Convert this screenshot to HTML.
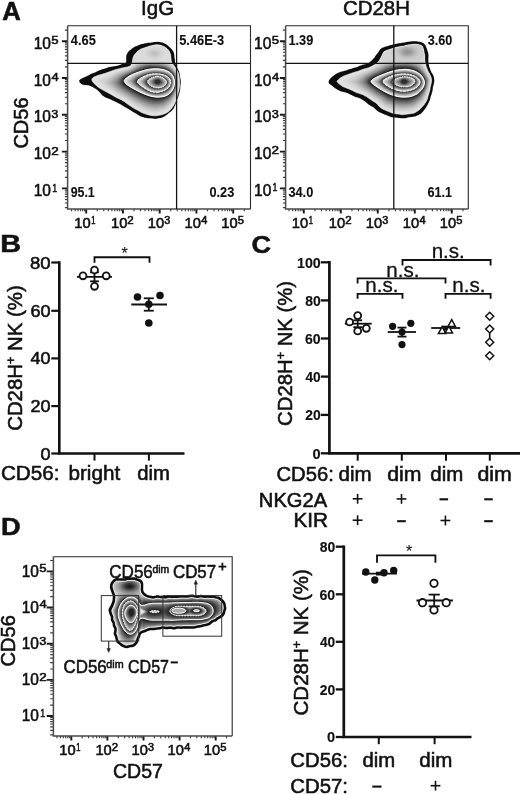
<!DOCTYPE html>
<html lang="en"><head><meta charset="utf-8"><title>Figure</title>
<style>
html,body{margin:0;padding:0;background:#fff;}
svg{display:block;filter:blur(0.45px);}
svg text{font-family:'Liberation Sans', sans-serif;fill:#111;stroke:#111;stroke-width:0.55px;}
</style></head><body>
<svg width="520" height="794" viewBox="0 0 520 794">
<rect width="520" height="794" fill="#fff"/>
<g id="panelA">
<g id="blobA1"><path d="M156.9 118.7L153.4 118.7L153.2 118.5L149.1 118.3L148.9 118.2L146.4 118.0L146.2 117.8L144.6 117.7L143.9 117.3L143.2 117.3L139.8 116.0L139.2 115.5L138.6 115.3L138.1 114.8L137.8 114.8L135.8 113.3L135.1 113.2L133.8 112.2L133.4 112.2L132.9 111.7L132.2 111.5L131.8 111.0L130.8 110.5L130.2 110.0L129.9 110.0L129.4 109.5L129.1 109.5L128.6 109.0L127.9 108.8L126.6 107.8L125.9 107.7L125.4 107.2L125.1 107.2L124.6 106.7L123.9 106.5L122.6 105.5L121.9 105.3L120.6 104.3L120.2 104.3L119.6 103.8L118.6 103.5L118.1 103.0L117.4 102.8L116.9 102.3L116.2 102.2L115.2 101.5L114.9 101.5L113.6 100.7L111.9 100.2L111.4 99.7L107.6 98.3L106.2 97.7L105.1 97.3L104.6 96.8L104.2 96.8L102.9 95.7L102.4 95.5L101.0 94.1L100.8 93.6L99.2 91.8L96.8 89.5L95.8 89.0L95.2 88.5L94.9 88.5L94.4 88.0L94.1 88.0L93.6 87.5L92.9 87.3L92.4 86.8L91.2 86.5L90.8 86.0L90.4 86.0L89.9 85.7L89.2 85.7L88.6 85.3L87.8 85.3L87.6 85.2L84.2 85.0L83.6 84.7L82.8 84.7L82.1 84.2L81.4 84.0L79.7 82.4L79.2 81.2L79.2 80.4L80.2 79.2L80.6 79.2L81.1 78.7L81.9 78.5L82.6 78.0L83.4 77.8L84.1 77.3L85.2 77.0L85.6 76.7L86.4 76.5L86.9 76.0L87.6 75.8L88.6 75.2L88.9 75.2L89.4 74.7L90.4 74.3L91.8 73.5L92.1 73.5L92.6 73.2L93.2 73.2L95.4 72.2L95.8 72.2L97.1 71.3L98.2 71.0L98.8 70.5L101.8 69.5L102.2 69.2L103.6 69.0L105.6 68.2L106.2 68.2L107.2 67.7L108.2 67.3L108.9 67.3L109.6 67.0L110.4 67.0L110.9 66.7L114.4 66.3L114.6 66.2L117.1 65.8L117.8 65.5L118.4 65.5L122.8 63.8L124.8 63.5L126.0 62.4L126.0 61.9L126.2 61.8L126.2 60.6L126.3 60.4L126.3 59.6L126.2 59.4L126.2 56.6L126.3 56.4L126.3 55.6L127.2 53.4L128.5 51.6L129.8 50.3L130.8 49.7L132.2 48.2L132.6 48.2L134.6 46.7L134.9 46.7L135.8 46.2L136.1 46.2L140.9 44.2L142.6 44.0L143.1 43.7L143.9 43.7L144.1 43.5L145.8 43.3L145.9 43.2L147.6 43.0L147.8 42.8L149.6 42.8L149.8 42.7L150.9 42.7L151.1 42.5L152.4 42.5L152.6 42.3L153.4 42.3L154.4 42.0L159.2 41.8L159.4 42.0L161.1 42.2L161.8 42.5L162.6 42.5L163.1 42.8L164.2 43.2L164.8 43.7L165.1 43.7L166.2 44.3L169.2 46.7L172.0 49.6L173.7 52.2L174.0 53.2L174.0 53.9L174.3 54.6L174.5 58.2L174.7 58.4L175.0 61.9L175.5 63.4L175.5 64.1L176.5 66.8L176.8 67.1L177.2 68.1L178.0 69.2L178.5 70.6L179.2 71.6L179.2 72.2L179.7 73.8L179.7 74.6L180.0 75.6L180.0 76.4L180.2 76.6L180.2 77.8L180.5 78.8L180.5 79.9L180.7 80.1L180.7 84.1L180.5 84.2L180.3 88.1L180.2 88.2L180.2 89.6L179.8 90.6L179.8 91.4L179.5 92.1L179.5 92.8L178.7 94.8L178.7 95.4L178.2 96.9L176.7 100.6L176.7 101.4L176.3 101.9L175.0 105.8L174.3 106.8L174.3 107.1L173.7 108.4L172.7 109.6L172.5 110.1L170.4 112.0L169.2 112.7L166.9 114.7L166.2 115.2L165.9 115.2L165.1 116.0L163.4 117.0L160.8 118.0L159.9 118.0L159.2 118.3L158.1 118.3Z" fill="#0c0c0c"/>
<path d="M156.1 115.8L152.8 115.7L149.8 115.2L145.8 114.1L142.2 112.8L137.4 110.1L134.4 108.6L128.6 104.8L124.1 101.4L121.6 99.9L115.9 97.3L111.1 94.4L104.8 91.1L99.1 87.8L95.4 84.8L93.0 82.2L92.4 81.4L91.9 80.2L91.9 79.1L92.5 78.2L93.9 77.1L97.8 75.4L105.4 73.3L115.2 69.7L122.2 68.0L127.8 66.9L130.2 65.9L131.1 65.1L131.8 63.6L132.2 62.4L132.9 58.2L133.4 56.8L134.2 55.1L137.1 51.8L139.4 50.0L141.2 48.9L150.2 45.9L155.9 44.7L157.6 44.7L159.8 45.1L162.1 45.7L164.8 46.9L167.0 48.6L168.5 50.1L169.3 51.2L170.5 54.2L171.3 61.1L171.9 62.6L172.9 64.2L174.2 65.9L177.1 70.1L178.4 73.1L179.2 76.8L179.5 80.4L179.5 86.4L179.3 88.1L178.4 92.1L177.6 94.6L176.6 98.8L175.4 102.1L173.3 105.9L170.7 109.6L168.3 111.8L165.4 113.4L161.6 114.8Z" fill="rgb(227,227,227)"/>
<path d="M156.2 114.6L154.9 114.7L153.1 114.5L149.9 114.0L146.1 113.0L142.8 111.7L134.9 107.6L129.1 103.9L124.6 100.6L122.0 99.1L115.2 95.7L105.4 89.9L101.1 87.1L97.9 84.8L96.2 83.1L94.2 80.6L94.0 80.1L94.0 79.6L95.0 78.8L98.4 77.0L106.1 74.4L115.2 70.6L119.3 69.4L127.9 67.5L130.6 66.4L131.5 65.4L131.8 64.8L132.5 62.6L133.2 58.2L134.4 55.4L137.3 52.1L139.6 50.2L141.6 49.1L150.0 46.2L156.1 45.0L157.4 45.0L159.6 45.3L161.7 45.9L164.7 47.2L166.9 48.9L168.2 50.3L169.1 51.5L170.2 54.2L171.0 61.1L171.7 63.1L176.8 70.4L177.9 73.1L178.7 76.9L179.1 80.4L179.1 86.2L178.9 87.9L178.0 91.9L177.1 94.4L176.1 98.5L174.9 101.8L172.6 105.6L169.9 109.1L167.8 110.9L165.1 112.5L161.2 113.7Z" fill="rgb(224,224,224)"/>
<path d="M156.1 113.4L154.9 113.5L152.2 113.2L150.1 112.8L146.2 111.8L143.2 110.7L135.4 106.7L129.8 103.1L125.1 99.7L122.6 98.2L115.8 94.7L104.8 87.8L100.8 84.8L99.2 83.4L97.1 81.1L96.7 80.2L97.2 79.8L99.1 78.7L106.2 75.8L115.6 71.4L121.1 69.7L128.1 67.9L130.8 66.9L132.1 65.6L133.3 63.1L133.5 61.8L133.2 59.9L133.6 58.1L134.1 56.7L135.2 54.7L137.5 52.2L139.8 50.4L141.4 49.4L145.3 47.9L152.4 45.8L156.1 45.2L157.1 45.2L159.6 45.5L161.6 46.1L164.6 47.4L166.6 48.9L168.8 51.3L169.4 52.7L170.1 55.1L170.4 58.4L170.5 61.6L170.8 62.9L172.0 64.8L173.4 66.4L176.4 70.5L177.7 73.4L178.7 78.6L178.9 80.8L178.9 84.9L178.7 87.8L178.3 89.8L175.5 98.6L174.2 101.8L170.4 107.1L168.9 108.8L167.4 109.9L164.6 111.5L161.1 112.6Z" fill="rgb(219,219,219)"/>
<path d="M155.9 112.3L154.9 112.3L150.6 111.7L146.1 110.5L142.9 109.3L136.0 105.8L130.6 102.4L125.6 98.9L116.2 93.8L110.8 90.1L107.1 87.6L103.6 84.8L100.4 81.9L99.7 80.9L100.2 80.4L115.8 72.4L121.1 70.4L128.2 68.5L130.9 67.4L132.4 66.2L134.8 63.7L136.6 62.6L140.4 61.7L149.5 60.8L153.1 60.1L153.2 59.9L153.0 59.8L149.4 58.3L147.1 56.7L145.7 54.9L145.4 53.9L145.4 52.9L145.6 51.9L146.2 50.9L146.9 50.1L148.1 49.2L150.9 48.0L154.2 47.5L157.8 47.8L160.8 49.0L161.9 49.8L162.9 50.7L163.5 51.8L163.8 52.8L163.8 53.8L163.6 54.8L162.3 56.6L160.1 58.1L156.4 59.8L156.2 59.9L156.3 60.1L158.0 60.6L164.6 61.6L166.9 62.2L169.1 63.2L171.0 64.8L172.9 66.6L174.2 68.2L176.0 70.8L176.8 72.1L177.4 73.6L178.2 77.1L178.6 81.6L178.6 86.2L178.2 88.8L177.3 91.8L175.0 98.4L173.9 100.8L171.4 104.5L168.2 108.1L165.4 109.9L163.9 110.6L161.1 111.5Z" fill="rgb(212,212,212)"/>
<path d="M156.2 57.1L154.4 57.2L152.8 57.0L151.1 56.5L149.8 55.8L148.8 54.8L148.4 53.8L148.5 52.6L149.0 51.6L149.9 50.8L151.1 50.1L152.4 49.7L153.9 49.4L156.9 49.7L158.2 50.2L159.4 50.8L160.2 51.7L160.7 52.6L160.8 53.6L160.6 54.4L159.9 55.3L159.0 56.1L157.8 56.7ZM155.9 111.1L153.8 111.0L150.9 110.6L146.4 109.4L143.4 108.3L136.5 104.8L131.1 101.5L126.2 98.1L116.2 92.5L107.8 86.2L104.3 83.1L103.0 81.8L102.9 81.4L111.1 76.1L116.1 73.2L121.2 71.2L128.4 69.0L130.6 68.2L132.6 66.9L135.6 64.3L138.2 63.2L140.9 62.6L145.2 62.2L155.1 61.9L159.9 62.1L164.2 62.6L167.1 63.3L168.9 64.1L170.3 65.1L172.3 66.8L173.9 68.6L175.7 71.1L177.0 73.6L177.9 77.2L178.3 81.4L178.2 86.1L177.6 89.6L175.2 96.2L173.3 100.6L170.8 104.0L168.9 106.0L167.2 107.6L163.8 109.5L160.6 110.4Z" fill="rgb(203,203,203)"/>
<path d="M155.1 55.4L153.2 55.2L151.8 54.5L151.2 53.4L151.3 52.8L151.6 52.2L152.8 51.5L154.4 51.2L156.1 51.4L157.4 52.1L158.0 53.1L157.8 54.1L156.8 55.0ZM155.8 109.9L153.9 109.9L150.9 109.4L145.2 107.8L135.1 102.7L126.8 97.3L116.9 91.6L112.1 87.9L109.0 85.2L106.2 82.4L106.0 81.8L111.5 77.4L116.2 74.2L121.4 71.9L128.6 69.6L130.9 68.6L132.5 67.8L136.1 64.9L139.1 63.7L141.9 63.2L146.8 62.7L155.8 62.6L160.1 62.8L164.2 63.3L166.8 63.9L168.8 64.8L171.9 67.2L173.4 68.8L175.3 71.2L176.6 73.8L177.5 77.2L178.0 81.6L177.9 86.1L177.2 89.4L176.5 91.8L174.7 96.1L173.1 99.5L171.7 101.6L168.2 105.4L166.6 106.8L163.2 108.6L160.4 109.3Z" fill="rgb(193,193,193)"/>
<path d="M155.6 108.8L151.2 108.3L145.7 106.8L135.4 101.7L127.2 96.4L117.6 90.8L112.6 86.6L109.3 83.2L108.7 82.4L108.7 82.1L111.3 79.4L114.2 76.9L118.2 74.2L121.6 72.6L128.8 70.1L131.8 68.8L136.6 65.4L139.6 64.2L143.1 63.6L147.2 63.2L153.8 63.1L157.1 63.2L161.2 63.5L164.8 64.0L166.8 64.5L168.9 65.6L171.6 67.6L173.1 69.1L175.0 71.6L176.2 73.9L177.2 77.4L177.7 81.8L177.6 85.9L176.9 89.4L176.1 91.6L173.1 98.3L171.2 101.0L167.6 104.7L165.9 106.1L162.9 107.5L160.2 108.2Z" fill="rgb(181,181,181)"/>
<path d="M155.4 107.6L151.4 107.1L146.1 105.7L141.8 103.7L135.9 100.8L127.8 95.6L120.8 91.6L118.3 89.9L115.7 87.8L113.5 85.6L111.2 82.9L111.0 82.2L112.5 80.4L114.9 77.9L116.6 76.4L118.8 75.0L123.1 72.8L129.1 70.6L132.1 69.2L136.9 66.0L139.9 64.7L143.4 64.1L147.4 63.7L153.4 63.5L157.1 63.6L161.1 63.9L164.4 64.4L166.4 65.0L168.8 66.1L171.2 67.9L173.4 70.2L175.2 72.6L176.3 75.2L177.1 78.8L177.4 82.1L177.2 85.9L176.5 89.2L175.7 91.6L172.6 98.0L170.9 100.3L167.1 103.9L165.1 105.4L162.4 106.5L159.9 107.1Z" fill="rgb(168,168,168)"/>
<path d="M155.2 106.4L151.6 105.9L146.4 104.6L142.1 102.7L136.3 99.8L119.6 89.6L117.6 87.9L115.4 85.7L113.3 82.9L113.2 82.2L115.2 79.4L116.5 77.9L120.4 75.0L123.4 73.4L132.4 69.7L137.4 66.5L140.4 65.2L143.6 64.5L147.6 64.1L153.1 63.9L156.6 64.0L160.9 64.4L163.9 64.8L166.1 65.5L168.4 66.6L170.9 68.3L173.1 70.5L174.8 72.8L175.9 75.4L176.8 78.9L177.1 82.1L176.9 85.9L176.2 89.1L175.3 91.4L172.1 97.6L170.4 99.8L167.7 102.2L164.6 104.4L162.6 105.4L159.8 106.0Z" fill="rgb(154,154,154)"/>
<path d="M157.6 105.1L155.2 105.2L153.8 105.1L148.1 103.9L142.6 101.7L136.6 98.7L121.6 89.6L118.9 87.6L116.8 85.4L115.1 82.9L115.1 82.4L116.1 80.6L117.1 79.1L118.1 77.9L120.5 75.9L122.1 74.9L126.1 72.9L132.8 70.2L138.8 66.6L141.8 65.5L144.9 64.9L149.2 64.4L153.2 64.3L158.1 64.5L161.1 64.8L164.2 65.4L165.9 66.0L168.2 67.1L170.6 68.7L172.5 70.6L174.3 72.8L175.1 74.2L176.2 77.6L176.7 81.8L176.6 85.8L176.2 87.8L175.0 91.1L173.4 94.2L171.5 97.4L169.8 99.4L166.9 101.8L163.4 103.9L161.2 104.6Z" fill="rgb(138,138,138)"/>
<path d="M157.8 103.9L155.1 104.1L152.6 103.7L148.6 102.8L146.8 102.2L142.6 100.5L137.4 97.9L124.2 90.1L121.6 88.4L119.8 86.8L117.4 84.1L116.8 83.1L116.8 82.6L118.0 79.9L119.2 78.2L120.7 76.9L123.6 74.9L133.5 70.4L140.2 66.7L143.6 65.6L147.2 65.1L150.4 64.8L153.2 64.7L159.1 65.1L164.2 66.0L165.8 66.5L168.2 67.8L170.6 69.4L172.4 71.1L174.1 73.2L175.2 75.6L176.1 78.9L176.4 81.9L176.2 85.8L175.9 87.6L174.7 90.8L173.1 93.9L171.2 96.8L169.6 98.5L166.2 101.1L162.9 102.9L160.9 103.6Z" fill="rgb(121,121,121)"/>
<path d="M157.9 102.8L155.4 102.9L153.8 102.7L149.0 101.8L147.1 101.1L142.9 99.4L137.8 96.9L126.6 90.4L122.1 87.4L120.2 85.8L118.9 84.1L118.4 83.1L118.4 82.6L119.6 79.4L122.1 76.8L125.1 74.9L133.8 70.9L140.7 67.2L144.2 66.1L147.6 65.5L151.9 65.2L159.1 65.6L164.1 66.5L168.1 68.3L170.4 69.9L172.9 72.4L173.8 73.6L175.1 76.4L175.8 79.1L176.1 82.1L175.9 85.8L175.5 87.6L174.4 90.5L172.8 93.4L170.9 96.1L169.4 97.7L166.1 100.2L162.9 101.8L160.9 102.4Z" fill="rgb(104,104,104)"/>
<path d="M158.4 101.6L155.8 101.7L154.1 101.6L149.4 100.7L147.8 100.2L143.4 98.4L139.9 96.8L133.6 93.4L124.6 87.9L122.9 86.8L121.2 85.1L120.2 83.9L119.9 83.1L120.0 81.6L120.8 79.6L122.9 77.2L124.6 75.9L127.1 74.5L141.1 67.9L145.2 66.6L147.9 66.1L152.1 65.7L159.1 66.1L163.9 67.1L167.9 68.8L170.2 70.4L172.6 72.7L173.5 73.8L174.8 76.6L175.5 79.1L175.8 82.1L175.6 85.8L175.2 87.4L174.2 90.1L172.9 92.4L170.6 95.7L169.2 97.0L165.9 99.3L163.6 100.3L160.9 101.3Z" fill="rgb(85,85,85)"/>
<path d="M158.9 100.4L155.9 100.6L154.2 100.4L148.1 99.1L142.1 96.6L134.1 92.5L126.1 87.7L123.7 86.1L122.2 84.6L121.5 83.8L121.3 83.1L121.3 81.6L121.8 79.8L123.2 77.9L124.7 76.8L128.4 74.6L141.2 68.7L146.1 67.2L147.9 66.8L152.1 66.3L158.9 66.7L163.8 67.7L167.6 69.3L169.9 70.8L172.1 72.8L173.1 73.9L174.4 76.8L175.2 79.2L175.5 82.2L175.2 85.6L174.9 87.2L173.9 89.8L172.5 92.2L170.2 95.2L168.9 96.4L164.9 98.8L160.9 100.2Z" fill="rgb(65,65,65)"/>
<path d="M159.4 99.3L155.6 99.4L149.6 98.3L144.2 96.4L138.8 93.8L128.2 87.9L124.4 85.2L122.9 83.8L122.5 82.9L122.4 81.4L122.7 79.9L123.9 78.4L125.4 77.1L129.9 74.4L135.9 71.7L141.4 69.5L144.8 68.4L147.8 67.7L152.2 67.1L159.1 67.5L163.6 68.4L167.4 69.8L169.6 71.1L171.8 73.0L172.8 74.2L174.1 76.9L174.9 79.2L175.2 82.2L174.9 85.6L174.6 87.1L173.6 89.6L172.2 91.9L169.6 95.0L168.4 95.9L164.9 97.9L162.2 98.7Z" fill="rgb(44,44,44)"/>
<path d="M160.2 98.1L155.9 98.2L149.9 97.2L144.8 95.4L139.4 93.0L128.8 87.1L125.2 84.6L124.1 83.4L123.6 82.5L123.4 81.4L123.5 80.2L124.6 78.8L125.8 77.6L128.1 76.1L132.1 74.0L138.6 71.3L142.9 69.8L145.8 69.1L148.2 68.5L152.4 68.0L158.8 68.2L163.4 69.0L167.1 70.3L169.2 71.5L171.1 73.0L172.4 74.4L173.8 77.1L174.6 79.4L174.9 82.2L174.6 85.4L174.3 86.9L173.3 89.4L171.9 91.6L169.2 94.6L168.1 95.4L164.8 97.1Z" fill="rgb(21,21,21)"/>
<path d="M160.6 97.1L156.1 97.2L150.1 96.1L145.1 94.4L139.9 92.1L131.2 87.5L127.6 85.2L125.8 83.8L124.8 82.6L124.2 81.4L124.2 80.6L125.2 79.1L126.2 78.1L129.2 76.1L132.2 74.5L138.8 71.9L145.2 70.0L148.4 69.3L152.6 68.8L158.8 68.8L163.2 69.5L166.9 70.7L169.1 71.9L170.7 73.1L172.2 74.8L173.5 77.1L174.1 78.8L174.5 80.4L174.6 82.4L174.3 85.6L173.9 86.9L172.8 89.6L171.5 91.6L169.1 94.1L167.9 94.9L164.8 96.3Z" fill="rgb(230,230,230)"/>
<path d="M159.9 96.9L156.2 96.9L150.4 95.9L147.4 95.0L143.6 93.5L139.9 91.8L135.6 89.4L129.4 85.7L126.6 83.6L125.7 82.6L125.1 81.6L125.1 80.8L125.9 79.4L127.1 78.2L129.4 76.7L132.4 74.9L138.9 72.2L145.2 70.3L148.6 69.6L152.8 69.1L158.6 69.1L163.2 69.8L166.8 71.0L168.9 72.1L170.8 73.5L172.1 75.0L173.4 77.4L174.1 79.6L174.4 82.2L174.3 84.1L173.7 86.8L172.8 89.1L171.4 91.2L170.1 92.8L168.8 93.9L167.8 94.6L164.4 96.1Z" fill="rgb(222,222,222)"/>
<path d="M160.1 96.6L156.4 96.6L150.4 95.6L145.4 93.9L143.6 93.1L140.1 91.4L135.8 89.0L131.0 86.1L126.9 82.8L126.0 81.6L126.0 80.8L126.6 79.8L127.7 78.8L129.8 77.2L132.8 75.3L138.9 72.6L145.4 70.6L148.6 69.9L152.9 69.4L158.4 69.4L163.1 70.1L166.6 71.3L168.8 72.4L170.4 73.6L171.8 75.1L172.9 76.9L173.6 78.8L174.1 80.6L174.1 82.4L173.8 85.4L173.4 86.9L172.4 89.2L170.9 91.4L168.6 93.6L167.6 94.3L164.4 95.7Z" fill="rgb(213,213,213)"/>
<path d="M160.1 96.3L156.4 96.3L150.6 95.4L147.6 94.4L143.8 92.8L138.2 90.0L132.1 86.2L130.0 84.6L127.6 82.3L126.9 81.4L126.9 80.8L128.1 79.4L130.1 77.8L134.0 75.2L139.1 73.0L142.2 71.9L146.2 70.8L148.8 70.2L153.1 69.7L158.4 69.7L163.1 70.4L166.6 71.6L168.6 72.6L170.2 73.8L171.6 75.3L172.6 77.1L173.4 78.9L173.8 80.8L173.8 83.8L173.6 85.3L173.2 86.8L172.1 89.1L170.7 91.1L168.4 93.3L167.4 94.0L164.2 95.4Z" fill="rgb(203,203,203)"/>
<path d="M159.9 95.9L156.4 96.0L153.1 95.6L149.2 94.7L145.4 93.2L138.4 89.6L132.4 85.8L128.9 82.6L127.9 81.4L127.8 80.9L130.5 78.2L134.2 75.7L139.2 73.4L142.4 72.2L146.4 71.1L148.8 70.6L153.1 70.0L158.2 70.0L162.9 70.7L166.4 71.9L168.4 72.9L170.1 74.1L171.4 75.6L172.4 77.2L173.2 78.9L173.6 80.8L173.6 83.8L173.3 85.2L172.9 86.8L171.9 88.9L170.4 91.0L168.2 93.0L167.2 93.7L164.1 95.1Z" fill="rgb(192,192,192)"/>
<path d="M159.9 95.6L156.6 95.7L153.2 95.3L149.4 94.4L145.6 92.9L138.8 89.3L133.9 86.2L132.6 85.2L130.7 83.4L129.1 81.6L128.9 80.9L132.1 77.8L134.2 76.2L136.2 75.1L142.6 72.6L148.8 70.9L153.8 70.3L159.8 70.5L164.1 71.4L167.6 72.8L169.8 74.2L171.1 75.6L172.1 77.2L172.9 78.9L173.3 80.9L173.3 83.6L172.7 86.4L171.7 88.6L170.3 90.6L167.9 92.8L167.1 93.4L163.9 94.8Z" fill="rgb(180,180,180)"/>
<path d="M159.9 95.3L156.4 95.4L153.2 95.0L149.6 94.1L145.8 92.7L140.9 90.1L135.2 86.6L132.3 84.2L130.2 81.6L130.0 80.9L132.6 78.1L134.6 76.6L136.6 75.5L142.6 72.9L148.8 71.3L153.8 70.6L159.6 70.8L164.1 71.7L167.6 73.1L169.6 74.4L170.9 75.8L171.9 77.4L172.7 79.1L173.1 80.9L173.1 83.6L172.4 86.4L171.4 88.5L170.1 90.3L167.8 92.5L166.9 93.0L163.9 94.4Z" fill="rgb(167,167,167)"/>
<path d="M159.9 94.9L156.4 95.1L153.4 94.8L149.6 93.8L145.9 92.4L139.1 88.6L135.4 86.2L132.8 83.9L131.3 81.9L131.0 81.2L131.0 80.9L133.3 78.2L135.0 76.9L136.8 75.9L142.8 73.3L148.8 71.6L153.8 71.0L159.6 71.1L164.1 72.0L167.4 73.4L169.4 74.7L170.6 75.9L171.6 77.4L172.4 79.1L172.8 80.9L172.8 83.6L172.2 86.2L171.1 88.4L169.9 90.1L167.6 92.2L163.8 94.1Z" fill="rgb(154,154,154)"/>
<path d="M157.4 94.8L153.9 94.5L150.9 93.9L148.1 92.9L144.4 91.3L139.2 88.3L135.6 85.8L133.8 84.1L133.0 83.1L131.9 81.4L132.1 80.8L134.2 78.2L135.6 77.1L137.2 76.1L142.9 73.6L148.9 71.9L153.9 71.3L159.6 71.4L164.1 72.4L167.7 73.9L169.2 74.9L170.6 76.3L171.5 77.8L172.3 79.4L172.6 80.9L172.6 83.8L172.2 85.4L171.5 87.2L170.8 88.4L169.3 90.2L168.2 91.3L166.6 92.4L163.9 93.6L162.2 94.2L159.8 94.6Z" fill="rgb(140,140,140)"/>
<path d="M158.2 94.4L155.6 94.4L151.1 93.7L148.1 92.6L144.6 91.0L139.6 88.0L135.9 85.4L134.6 84.2L133.5 82.8L132.8 81.4L132.9 80.8L134.6 78.6L136.0 77.4L137.4 76.5L143.1 73.9L148.9 72.2L153.9 71.6L159.4 71.7L163.9 72.6L167.4 74.1L169.1 75.2L170.4 76.5L171.3 77.9L172.1 79.6L172.3 81.1L172.3 83.8L172.0 85.2L171.3 86.9L170.6 88.2L169.1 90.0L166.6 92.0L162.2 93.8Z" fill="rgb(125,125,125)"/>
<path d="M158.4 94.1L155.8 94.2L151.2 93.4L148.2 92.4L144.9 90.8L139.8 87.7L136.2 85.1L135.0 83.9L134.1 82.6L133.6 81.4L133.7 80.8L134.6 79.4L135.4 78.6L136.6 77.6L138.3 76.6L143.4 74.2L149.1 72.5L154.1 71.9L159.4 72.1L163.9 73.0L167.4 74.4L168.9 75.4L170.2 76.8L171.1 78.0L171.8 79.6L172.1 81.1L172.1 83.8L171.1 86.7L170.3 88.1L168.9 89.8L166.4 91.7L162.2 93.5Z" fill="rgb(111,111,111)"/>
<path d="M158.6 93.8L155.8 93.9L151.2 93.1L148.4 92.1L145.0 90.4L137.9 85.9L135.7 83.9L134.7 82.4L134.4 81.4L134.9 80.1L135.5 79.2L136.9 77.9L141.4 75.4L143.6 74.5L146.8 73.4L150.6 72.6L154.6 72.2L156.9 72.2L160.8 72.5L163.9 73.3L167.4 74.8L168.8 75.7L170.1 77.0L170.9 78.2L171.6 79.8L171.8 81.1L171.8 83.8L170.9 86.6L170.1 87.9L168.6 89.6L166.2 91.4L162.1 93.2Z" fill="rgb(95,95,95)"/>
<path d="M158.6 93.4L155.8 93.6L153.8 93.4L151.4 92.9L148.6 91.8L145.2 90.2L138.1 85.5L136.2 83.8L135.6 82.9L135.1 81.4L135.5 80.1L137.2 78.2L141.6 75.8L145.4 74.2L150.8 72.9L154.1 72.5L156.4 72.5L160.8 72.9L163.8 73.6L167.2 75.1L168.6 75.9L169.9 77.2L170.6 78.2L171.3 79.8L171.6 81.1L171.6 83.8L170.6 86.5L169.8 87.9L168.4 89.4L166.1 91.1L162.1 92.8Z" fill="rgb(80,80,80)"/>
<path d="M156.1 93.3L152.9 92.9L149.2 91.8L145.4 89.9L140.6 86.8L138.2 85.1L136.4 83.2L135.7 81.4L136.2 80.1L137.4 78.7L138.3 78.1L141.8 76.1L143.8 75.2L148.2 73.7L151.9 73.0L156.8 72.8L160.8 73.2L163.8 73.9L166.8 75.1L168.2 76.1L169.6 77.3L170.4 78.4L171.1 79.8L171.3 80.9L171.3 83.9L170.6 85.9L169.6 87.6L168.1 89.3L167.1 90.1L163.8 91.8L161.9 92.5L159.6 93.0Z" fill="rgb(64,64,64)"/>
<path d="M156.2 92.9L153.9 92.8L150.2 91.9L145.8 89.7L143.1 88.0L138.6 84.9L136.9 83.2L136.3 81.6L136.7 80.2L137.8 79.0L139.2 78.0L144.1 75.4L148.4 74.0L152.1 73.3L156.6 73.1L160.8 73.5L163.8 74.2L166.8 75.5L168.1 76.3L169.4 77.5L170.2 78.6L170.8 79.9L171.1 81.1L171.0 83.9L170.3 85.8L169.4 87.4L166.9 89.8L163.6 91.5L161.8 92.2L159.6 92.7Z" fill="rgb(47,47,47)"/>
<path d="M157.8 92.6L154.1 92.5L151.6 92.0L149.4 91.2L145.9 89.4L141.1 86.2L138.5 84.2L137.1 82.6L136.9 81.6L137.2 80.4L138.2 79.2L142.2 76.7L145.8 75.1L150.9 73.8L154.8 73.4L160.4 73.7L163.6 74.5L166.9 75.9L168.1 76.7L169.3 77.8L170.0 78.8L170.7 80.1L170.9 81.2L170.8 83.6L169.7 86.4L167.6 88.9L165.2 90.4L161.8 91.9Z" fill="rgb(30,30,30)"/>
<path d="M158.1 92.3L154.1 92.3L151.6 91.8L149.6 91.0L145.9 89.1L141.2 85.9L138.8 84.1L137.6 82.6L137.4 81.8L137.6 80.8L138.9 79.2L142.4 77.0L145.9 75.4L148.6 74.6L151.1 74.0L154.9 73.7L160.4 74.0L163.4 74.7L166.9 76.2L169.2 77.9L170.4 80.1L170.7 81.2L170.7 83.6L169.4 86.4L167.4 88.7L165.1 90.1L161.6 91.6Z" fill="rgb(229,229,229)"/>
<path d="M157.8 92.1L154.2 92.1L151.8 91.5L149.6 90.8L146.2 88.9L141.4 85.5L139.3 83.8L138.1 82.2L138.0 81.6L138.3 80.8L138.9 79.9L139.9 79.1L142.4 77.4L144.4 76.4L148.8 74.8L152.4 74.0L156.4 73.8L160.4 74.1L163.4 74.9L166.8 76.3L169.0 78.1L170.2 80.2L170.4 81.4L170.4 83.4L170.0 84.8L169.3 86.2L167.4 88.4L164.9 90.0L161.4 91.4Z" fill="rgb(220,220,220)"/>
<path d="M158.1 91.8L154.8 91.8L153.4 91.6L150.8 90.9L147.9 89.5L143.8 86.8L140.1 83.8L138.8 82.1L138.7 81.6L138.9 80.9L139.6 80.1L141.1 78.9L144.8 76.6L148.8 75.0L152.4 74.2L156.2 74.0L160.2 74.3L163.4 75.1L166.4 76.4L168.8 78.2L170.0 80.2L170.2 81.4L170.2 83.4L169.1 86.1L167.2 88.2L164.9 89.8L161.4 91.2Z" fill="rgb(209,209,209)"/>
<path d="M158.9 91.4L157.2 91.6L154.4 91.5L151.9 90.9L148.8 89.6L145.5 87.6L142.0 84.8L139.5 82.1L139.4 81.8L139.5 81.2L140.1 80.4L142.2 78.6L145.2 76.8L148.9 75.3L152.4 74.4L156.2 74.1L160.2 74.5L163.2 75.2L166.2 76.6L168.6 78.4L169.7 80.2L169.9 81.4L170.0 83.1L169.4 84.9L168.2 86.9L166.1 88.7L164.4 89.7L162.1 90.6Z" fill="rgb(198,198,198)"/>
<path d="M157.6 91.3L154.6 91.2L152.1 90.6L150.1 89.9L148.2 88.9L145.6 87.2L142.2 84.4L140.4 82.2L140.2 81.8L140.2 81.2L143.0 78.6L145.4 77.1L149.1 75.5L152.6 74.6L156.2 74.3L160.2 74.6L163.2 75.4L166.2 76.8L168.4 78.6L169.5 80.4L169.7 81.6L169.7 83.2L169.3 84.6L168.6 85.9L166.9 87.8L164.4 89.4L161.2 90.7Z" fill="rgb(186,186,186)"/>
<path d="M157.9 90.9L155.1 90.9L153.6 90.7L150.9 89.9L148.6 88.8L145.9 87.0L143.9 85.2L141.3 82.4L140.9 81.8L141.0 81.4L143.2 79.0L145.6 77.4L149.1 75.8L152.6 74.8L156.2 74.5L160.1 74.8L163.2 75.6L166.0 76.9L168.2 78.8L169.2 80.6L169.4 81.8L169.4 83.2L168.4 85.7L166.7 87.6L164.4 89.1L161.2 90.4Z" fill="rgb(174,174,174)"/>
<path d="M158.9 90.6L157.1 90.7L154.6 90.6L152.1 90.0L149.4 88.8L147.1 87.4L144.6 85.4L142.7 83.2L141.8 81.9L141.8 81.4L143.5 79.4L145.8 77.7L149.1 76.1L152.6 75.1L156.2 74.7L158.8 74.8L161.9 75.4L164.9 76.6L167.4 78.2L168.1 79.1L168.7 80.1L169.2 82.2L169.1 83.2L168.8 84.4L168.2 85.6L167.4 86.6L166.3 87.6L164.6 88.8L161.2 90.1Z" fill="rgb(161,161,161)"/>
<path d="M157.4 90.4L154.9 90.3L152.4 89.8L150.6 89.1L148.8 88.1L146.2 86.3L144.4 84.6L142.6 82.1L142.5 81.8L142.7 81.2L144.2 79.4L146.4 77.7L149.4 76.2L152.9 75.2L156.2 74.9L160.1 75.1L163.2 76.0L165.8 77.3L167.8 79.1L168.7 80.8L168.9 83.1L168.6 84.2L167.9 85.5L166.3 87.2L164.1 88.8L160.9 90.0Z" fill="rgb(147,147,147)"/>
<path d="M158.2 90.1L155.2 90.1L153.6 89.7L150.9 88.9L149.1 87.9L146.4 86.0L144.7 84.2L143.3 82.1L143.2 81.6L143.6 80.9L144.8 79.4L146.8 77.9L149.9 76.3L153.1 75.4L156.2 75.0L159.9 75.3L163.1 76.2L165.2 77.2L167.4 79.0L168.4 80.7L168.6 82.9L168.3 84.1L167.8 85.2L166.1 87.1L164.1 88.5L160.9 89.7Z" fill="rgb(134,134,134)"/>
<path d="M159.1 89.8L157.1 89.9L154.6 89.7L152.2 89.1L149.5 87.8L146.8 85.8L145.2 84.2L143.9 82.1L143.9 81.6L144.2 80.9L146.1 78.8L148.2 77.4L151.4 76.0L153.1 75.6L156.4 75.2L159.9 75.4L161.9 75.9L164.8 77.2L167.0 78.9L168.0 80.4L168.4 82.6L168.0 84.2L166.8 86.1L164.2 88.1L161.6 89.2Z" fill="rgb(120,120,120)"/>
<path d="M157.4 89.6L154.8 89.4L151.2 88.3L149.4 87.3L146.9 85.5L145.5 83.9L144.5 81.9L144.9 80.9L145.8 79.6L147.4 78.2L150.2 76.8L153.1 75.8L156.4 75.4L158.6 75.4L161.8 76.1L164.6 77.3L166.6 78.9L167.7 80.4L168.1 82.1L167.9 83.9L166.9 85.6L165.4 87.0L163.1 88.4L160.8 89.2Z" fill="rgb(105,105,105)"/>
<path d="M158.8 89.3L155.4 89.2L152.8 88.6L150.2 87.4L148.1 86.0L146.3 84.2L145.3 82.4L145.2 81.4L146.1 79.9L147.5 78.6L150.2 77.0L152.8 76.1L155.2 75.7L158.4 75.6L160.1 75.8L163.1 76.8L164.9 77.8L166.8 79.4L167.7 80.9L167.9 82.9L167.1 84.9L165.6 86.5L163.8 87.8L161.2 88.8Z" fill="rgb(91,91,91)"/>
<path d="M159.4 88.9L157.1 89.0L154.8 88.8L152.6 88.2L149.8 86.8L147.2 84.8L146.0 83.1L145.7 81.8L146.4 80.1L147.9 78.7L150.4 77.2L152.9 76.3L155.2 75.9L158.2 75.8L159.9 76.0L162.9 76.9L164.6 77.8L166.6 79.6L167.3 80.8L167.6 82.4L167.2 84.0L166.2 85.5L163.9 87.5L161.4 88.5Z" fill="rgb(76,76,76)"/>
<path d="M159.6 88.6L157.2 88.7L154.9 88.5L152.8 87.9L150.1 86.6L147.6 84.6L146.6 83.2L146.2 81.9L146.8 80.2L148.1 78.9L150.6 77.4L152.9 76.5L155.4 76.0L158.2 75.9L159.9 76.1L161.8 76.6L164.4 77.9L166.4 79.7L167.1 80.9L167.4 82.4L167.0 83.9L166.1 85.3L163.8 87.3L161.4 88.2Z" fill="rgb(61,61,61)"/>
<path d="M159.2 88.4L157.2 88.5L154.8 88.1L152.9 87.6L150.2 86.3L148.3 84.8L147.1 83.2L146.7 81.9L147.1 80.4L148.2 79.2L150.6 77.7L152.8 76.8L155.4 76.2L158.1 76.1L159.8 76.3L161.6 76.7L164.2 78.1L166.1 79.8L166.8 80.9L167.1 82.4L166.8 83.8L165.9 85.1L163.6 87.1L161.2 88.0Z" fill="rgb(45,45,45)"/>
<path d="M159.4 88.1L157.4 88.2L155.6 88.0L153.1 87.4L150.8 86.2L148.6 84.6L147.5 83.2L147.1 82.1L147.5 80.6L148.4 79.5L150.8 77.9L153.1 76.9L155.6 76.4L158.1 76.2L159.8 76.4L161.5 76.9L163.9 78.1L165.9 79.9L166.5 80.9L166.8 82.4L166.6 83.6L165.8 84.9L163.6 86.8L161.2 87.8Z" fill="rgb(30,30,30)"/>
<path d="M159.2 87.9L157.4 88.0L155.6 87.8L153.1 87.1L150.6 85.8L148.8 84.3L147.8 83.0L147.5 82.2L147.5 81.4L148.0 80.2L149.7 78.8L152.2 77.4L154.4 76.7L156.8 76.3L158.4 76.3L161.1 76.9L162.8 77.6L164.1 78.4L165.8 80.1L166.4 81.2L166.7 82.4L166.4 83.6L165.7 84.8L163.3 86.8L161.1 87.6Z" fill="rgb(219,219,219)"/>
<path d="M159.2 87.6L157.6 87.7L155.8 87.5L153.4 86.9L151.1 85.6L149.1 84.0L148.3 82.9L148.0 81.8L148.4 80.6L149.9 79.1L152.4 77.7L154.6 77.0L156.9 76.6L158.2 76.6L160.9 77.1L163.6 78.5L165.3 80.1L166.0 81.2L166.2 82.4L165.9 83.4L165.3 84.6L163.2 86.3L161.1 87.2Z" fill="rgb(203,203,203)"/>
<path d="M159.2 87.3L157.8 87.4L155.9 87.2L153.8 86.6L152.2 85.9L150.9 85.0L149.1 83.2L148.6 81.9L148.9 80.8L150.1 79.6L152.6 78.0L154.0 77.4L155.8 77.0L157.6 76.8L159.4 77.0L160.9 77.4L162.4 78.1L163.8 79.1L165.1 80.5L165.6 81.8L165.6 83.1L164.8 84.4L163.1 85.9L161.1 86.9Z" fill="rgb(188,188,188)"/>
<path d="M159.1 87.0L157.8 87.0L155.9 86.8L153.9 86.3L152.6 85.6L151.2 84.7L149.6 83.1L149.1 81.9L149.4 81.1L150.4 80.0L152.8 78.3L154.1 77.7L155.9 77.3L157.6 77.1L159.2 77.3L160.9 77.8L162.2 78.4L163.6 79.4L164.7 80.8L165.1 81.9L165.1 82.9L164.5 84.1L162.9 85.5L160.9 86.5Z" fill="rgb(175,175,175)"/>
<path d="M159.1 86.6L157.9 86.7L156.1 86.5L154.1 85.9L152.8 85.2L151.5 84.2L150.1 82.8L149.7 82.1L149.9 81.4L150.8 80.3L152.9 78.7L154.2 78.0L155.9 77.6L157.6 77.3L159.2 77.5L160.8 78.0L161.9 78.6L163.2 79.7L164.1 80.8L164.6 81.9L164.6 82.8L164.0 83.9L162.6 85.2L160.8 86.2Z" fill="rgb(161,161,161)"/>
<path d="M158.9 86.3L156.2 86.2L153.9 85.4L152.8 84.8L151.2 83.3L150.4 82.2L150.4 81.6L151.1 80.8L152.5 79.4L153.5 78.8L154.9 78.1L157.9 77.6L159.2 77.8L160.8 78.4L161.9 79.1L163.2 80.2L163.9 81.4L164.1 82.6L163.7 83.6L162.4 84.8L160.8 85.8Z" fill="rgb(148,148,148)"/>
<path d="M158.9 85.9L156.2 85.9L154.1 85.1L153.1 84.4L151.8 83.2L151.0 82.1L151.1 81.6L152.0 80.4L153.2 79.4L155.1 78.4L157.8 77.9L159.2 78.1L160.6 78.6L161.8 79.4L162.8 80.4L163.5 81.6L163.6 82.6L163.2 83.4L162.1 84.6L160.6 85.4Z" fill="rgb(135,135,135)"/>
<path d="M158.8 85.6L156.2 85.5L154.3 84.8L152.3 83.1L151.7 82.1L151.8 81.6L153.6 79.6L154.8 78.8L156.0 78.4L158.1 78.2L159.2 78.4L160.5 78.9L161.6 79.7L162.5 80.8L163.1 81.9L163.1 82.6L162.3 83.8L161.4 84.5L160.2 85.2Z" fill="rgb(122,122,122)"/>
<path d="M158.6 85.3L156.6 85.2L155.5 84.9L154.3 84.2L153.0 83.1L152.4 82.2L152.4 81.8L153.8 79.9L155.2 79.0L156.6 78.6L157.8 78.4L159.8 78.9L161.4 80.1L162.5 81.8L162.6 82.2L162.5 82.8L161.8 83.7L160.9 84.4L159.9 84.9Z" fill="rgb(109,109,109)"/>
<path d="M158.6 84.9L156.8 84.9L155.8 84.6L154.5 83.9L153.5 82.9L153.0 82.2L153.0 81.8L153.7 80.6L154.5 79.8L156.2 78.9L157.9 78.7L159.6 79.1L161.2 80.4L162.0 81.9L161.9 82.8L161.4 83.4L160.4 84.2Z" fill="rgb(97,97,97)"/>
<path d="M158.4 84.6L156.8 84.6L155.8 84.2L154.7 83.6L153.8 82.6L153.6 82.1L153.7 81.4L154.2 80.6L155.1 79.8L156.8 79.1L158.2 79.0L159.6 79.5L160.9 80.6L161.6 82.1L161.4 82.8L160.8 83.4L159.9 84.1Z" fill="rgb(84,84,84)"/>
<path d="M158.4 84.3L156.9 84.2L156.1 84.0L155.1 83.4L154.3 82.6L154.1 82.1L154.2 81.4L154.7 80.6L155.4 79.9L156.9 79.3L158.2 79.3L159.5 79.8L160.5 80.8L161.0 82.1L160.8 82.8L159.7 83.8Z" fill="rgb(72,72,72)"/>
<path d="M158.2 83.9L156.2 83.7L155.3 83.1L154.8 82.4L154.6 81.9L154.8 81.2L155.8 80.1L157.1 79.6L158.2 79.6L159.2 79.9L160.1 80.8L160.5 81.9L160.4 82.6L159.4 83.5Z" fill="rgb(60,60,60)"/>
<path d="M158.1 83.6L156.5 83.4L155.3 82.4L155.1 81.9L155.2 81.2L156.1 80.2L157.1 79.8L158.2 79.8L159.1 80.2L159.8 80.9L160.1 81.9L160.0 82.4L159.1 83.2Z" fill="rgb(48,48,48)"/>
<path d="M157.9 83.3L156.6 83.1L155.9 82.6L155.6 82.1L155.6 81.4L155.8 80.9L156.2 80.5L157.1 80.1L157.9 80.1L158.6 80.2L159.2 80.8L159.6 81.2L159.6 81.9L159.5 82.4L158.8 83.0Z" fill="rgb(36,36,36)"/>
<path d="M158.4 82.8L157.2 82.9L156.4 82.5L155.9 81.8L156.2 80.9L157.4 80.4L158.2 80.4L158.8 80.8L159.2 81.2L159.2 81.9Z" fill="rgb(24,24,24)"/>
<path d="M158.1 82.6L157.2 82.7L156.5 82.2L156.2 81.6L156.5 80.9L157.2 80.6L157.9 80.5L158.8 81.1L158.9 81.9Z" fill="rgb(58,58,58)"/>
<path d="M156.1 115.8L152.8 115.7L149.8 115.2L145.8 114.1L142.2 112.8L137.4 110.1L134.4 108.6L128.6 104.8L124.1 101.4L121.6 99.9L115.9 97.3L111.1 94.4L104.8 91.1L99.1 87.8L95.4 84.8L93.0 82.2L92.4 81.4L91.9 80.2L91.9 79.1L92.5 78.2L93.9 77.1L97.8 75.4L105.4 73.3L115.2 69.7L122.2 68.0L127.8 66.9L130.2 65.9L131.1 65.1L131.8 63.6L132.2 62.4L132.9 58.2L133.4 56.8L134.2 55.1L137.1 51.8L139.4 50.0L141.2 48.9L150.2 45.9L155.9 44.7L157.6 44.7L159.8 45.1L162.1 45.7L164.8 46.9L167.0 48.6L168.5 50.1L169.3 51.2L170.5 54.2L171.3 61.1L171.9 62.6L172.9 64.2L174.2 65.9L177.1 70.1L178.4 73.1L179.2 76.8L179.5 80.4L179.5 86.4L179.3 88.1L178.4 92.1L177.6 94.6L176.6 98.8L175.4 102.1L173.3 105.9L170.7 109.6L168.3 111.8L165.4 113.4L161.6 114.8Z" fill="none" stroke="#f4f4f4" stroke-width="0.6"/>
<path d="M160.6 97.1L156.1 97.2L150.1 96.1L145.1 94.4L139.9 92.1L131.2 87.5L127.6 85.2L125.8 83.8L124.8 82.6L124.2 81.4L124.2 80.6L125.2 79.1L126.2 78.1L129.2 76.1L132.2 74.5L138.8 71.9L145.2 70.0L148.4 69.3L152.6 68.8L158.8 68.8L163.2 69.5L166.9 70.7L169.1 71.9L170.7 73.1L172.2 74.8L173.5 77.1L174.1 78.8L174.5 80.4L174.6 82.4L174.3 85.6L173.9 86.9L172.8 89.6L171.5 91.6L169.1 94.1L167.9 94.9L164.8 96.3Z" fill="none" stroke="#fff" stroke-width="1.0"/>
<path d="M158.1 92.3L154.1 92.3L151.6 91.8L149.6 91.0L145.9 89.1L141.2 85.9L138.8 84.1L137.6 82.6L137.4 81.8L137.6 80.8L138.9 79.2L142.4 77.0L145.9 75.4L148.6 74.6L151.1 74.0L154.9 73.7L160.4 74.0L163.4 74.7L166.9 76.2L169.2 77.9L170.4 80.1L170.7 81.2L170.7 83.6L169.4 86.4L167.4 88.7L165.1 90.1L161.6 91.6Z" fill="none" stroke="#fff" stroke-width="1.0" stroke-dasharray="2.6 0.6"/>
<path d="M159.2 87.9L157.4 88.0L155.6 87.8L153.1 87.1L150.6 85.8L148.8 84.3L147.8 83.0L147.5 82.2L147.5 81.4L148.0 80.2L149.7 78.8L152.2 77.4L154.4 76.7L156.8 76.3L158.4 76.3L161.1 76.9L162.8 77.6L164.1 78.4L165.8 80.1L166.4 81.2L166.7 82.4L166.4 83.6L165.7 84.8L163.3 86.8L161.1 87.6Z" fill="none" stroke="#fff" stroke-width="0.9" stroke-dasharray="1.6 0.8"/></g>
<g id="blobA2"><path d="M404.2 118.3L400.8 118.3L399.6 118.0L398.2 118.0L398.1 117.8L391.6 117.2L387.9 115.7L387.1 115.5L385.8 114.8L384.9 114.7L383.6 114.0L382.8 113.8L380.9 112.8L379.8 112.5L379.2 112.0L378.9 112.0L378.4 111.5L378.1 111.5L377.2 110.7L376.6 110.3L373.6 107.5L372.4 106.7L372.1 106.7L371.6 106.2L371.2 106.2L370.1 105.5L369.1 104.7L368.8 104.7L364.9 101.3L364.6 101.3L363.4 100.2L363.1 100.2L362.6 99.7L362.2 99.7L360.9 98.7L360.1 98.5L359.6 98.2L358.2 97.8L356.8 97.2L356.1 97.2L354.2 96.5L353.8 96.0L352.1 95.5L351.6 95.0L351.2 95.0L348.9 93.7L347.8 93.3L347.2 93.0L345.9 92.7L345.4 92.3L344.6 92.3L342.6 91.7L341.8 91.7L339.9 90.8L339.1 90.7L338.6 90.2L337.4 89.8L336.9 89.3L336.6 89.3L336.1 88.8L335.8 88.8L331.4 85.2L330.9 85.0L329.8 84.0L329.2 83.8L328.7 82.8L328.7 81.1L329.2 80.1L330.3 78.6L332.2 76.7L334.8 74.7L336.1 73.8L336.4 73.8L336.9 73.3L337.8 73.2L338.2 72.7L339.1 72.5L340.6 71.8L341.2 71.8L342.8 71.2L343.4 71.2L344.4 70.7L345.2 70.7L346.2 70.2L346.9 70.2L348.9 69.3L349.8 69.3L350.2 69.0L351.6 68.7L353.1 68.0L353.9 68.0L354.9 67.5L355.8 67.5L358.9 66.3L359.6 65.8L361.8 65.2L362.2 64.8L363.1 64.8L363.8 64.5L365.4 64.3L368.1 63.3L368.6 62.8L368.9 62.8L371.4 60.8L374.3 57.8L375.5 55.8L378.5 51.9L379.0 50.9L380.0 49.8L380.2 49.2L382.2 47.7L384.1 47.2L384.6 46.8L385.4 46.8L386.6 46.3L387.2 46.3L390.8 45.0L391.4 45.0L393.9 44.2L394.8 44.2L396.2 43.7L397.1 43.7L398.1 43.3L398.9 43.3L399.1 43.2L400.4 43.2L401.4 42.8L402.8 42.8L403.8 42.5L404.6 42.5L405.2 42.2L406.9 42.0L407.6 41.7L411.2 41.5L411.4 41.3L416.8 41.3L416.9 41.5L418.1 41.5L418.2 41.7L419.9 41.8L422.8 42.8L423.2 43.3L423.6 43.3L425.3 45.1L427.2 49.6L427.2 50.2L428.2 52.8L428.3 54.6L428.5 54.8L428.3 62.1L428.5 62.2L428.7 64.4L429.0 65.1L429.0 65.9L429.7 67.9L430.0 68.4L430.5 70.2L431.8 72.9L433.0 74.8L434.0 77.4L434.3 80.9L434.2 81.1L434.2 82.4L433.8 83.4L433.8 84.2L433.3 85.2L433.3 86.1L432.8 87.6L432.8 88.9L432.7 89.1L432.5 91.2L432.2 91.8L431.7 93.2L431.7 93.9L430.5 96.9L430.5 97.8L430.2 98.4L430.2 99.2L429.8 100.2L429.0 101.8L428.8 102.4L428.3 103.1L428.2 103.8L425.7 107.9L424.8 108.9L424.3 109.9L423.7 110.6L423.5 111.1L421.1 113.5L418.2 115.2L417.6 115.3L417.1 115.8L416.2 116.0L415.2 116.5L412.6 116.8L412.4 117.0L410.8 117.0L410.6 117.2L408.8 117.3L407.2 117.8L406.4 117.8L405.8 118.2L404.4 118.2Z" fill="#0c0c0c"/>
<path d="M403.6 114.6L401.9 114.7L399.8 114.2L395.1 113.7L392.2 113.1L383.8 109.6L381.9 108.6L380.4 107.5L379.2 106.4L377.4 104.2L375.3 102.4L372.8 100.9L366.4 96.6L362.6 94.6L358.2 93.1L356.9 92.8L350.8 89.7L342.8 86.6L339.0 83.8L337.4 82.0L337.0 81.4L337.0 81.1L338.8 79.3L340.9 77.6L343.9 75.9L353.9 72.4L358.1 71.3L363.2 69.2L368.2 67.9L371.2 66.6L375.1 64.4L377.1 63.0L378.8 61.3L380.5 58.4L383.6 52.1L384.1 51.6L385.8 50.7L394.8 47.7L399.2 46.7L403.2 46.2L408.6 44.8L411.2 44.7L412.4 44.3L415.8 44.2L419.4 44.7L420.9 45.2L421.9 45.8L422.8 46.8L423.6 49.8L424.7 55.6L424.7 58.6L425.0 61.9L426.2 66.6L427.9 70.9L430.4 75.6L431.3 78.1L431.5 79.1L431.5 81.9L430.2 87.4L429.9 89.9L428.1 95.9L427.4 98.8L426.5 100.9L424.0 104.8L419.7 109.6L417.2 111.3L414.4 112.9L411.8 113.5Z" fill="rgb(227,227,227)"/>
<path d="M403.2 113.6L402.2 113.6L392.8 112.1L384.2 108.8L382.4 107.8L380.9 106.6L378.0 103.6L375.8 101.7L373.2 100.2L366.8 95.8L362.9 93.7L357.1 91.6L351.4 88.5L343.8 85.1L341.2 83.1L339.9 81.6L339.9 81.1L342.4 78.8L346.1 76.8L354.2 73.6L358.2 72.3L362.3 70.4L366.9 69.1L369.9 68.0L373.2 66.2L377.1 63.4L378.8 61.6L380.5 58.8L383.8 52.1L384.4 51.6L385.8 50.9L394.8 47.9L399.2 46.8L403.4 46.2L408.6 45.0L411.2 44.8L412.6 44.5L415.6 44.3L419.4 44.9L420.9 45.4L421.9 46.1L422.6 46.8L423.4 49.8L424.5 55.8L424.5 58.6L424.8 62.1L425.8 67.1L427.5 71.2L429.9 75.8L431.0 78.9L431.0 81.8L429.8 87.1L429.4 90.0L427.5 95.8L426.8 98.8L425.9 100.5L423.4 104.2L419.2 108.7L416.8 110.4L414.1 112.0L411.4 112.5Z" fill="rgb(224,224,224)"/>
<path d="M403.4 112.4L402.4 112.5L393.1 111.1L384.8 107.8L381.6 105.9L378.7 102.9L376.2 101.0L373.8 99.5L367.2 95.1L363.2 92.9L357.6 90.6L350.8 86.5L345.6 83.9L344.1 82.9L342.9 81.8L342.7 81.4L343.1 80.9L343.9 80.2L348.4 77.7L354.6 74.8L358.8 73.2L362.6 71.3L367.2 69.9L370.2 68.7L373.6 66.9L375.5 65.6L376.9 63.8L378.9 61.6L379.7 60.4L383.8 52.2L384.3 51.8L385.6 51.1L394.9 47.9L399.2 46.9L403.4 46.3L408.6 45.1L415.1 44.4L419.4 44.9L421.1 45.6L422.6 47.0L423.4 50.0L424.4 55.8L424.4 58.8L424.9 63.2L424.7 65.1L425.1 66.9L427.1 71.4L429.6 76.1L430.5 78.4L430.6 79.4L430.7 81.6L429.5 87.1L429.1 89.6L426.2 98.4L425.3 100.1L422.7 103.8L418.6 108.0L416.2 109.6L413.8 110.9L411.2 111.4Z" fill="rgb(219,219,219)"/>
<path d="M404.6 111.3L402.4 111.4L393.4 110.0L385.2 106.9L382.1 105.0L379.2 102.2L376.8 100.2L374.2 98.8L367.8 94.3L363.6 92.0L357.9 89.4L351.4 85.1L346.4 82.1L346.0 81.8L346.0 81.4L349.1 79.4L354.9 76.2L358.9 74.3L363.5 71.9L367.4 70.6L370.9 69.2L376.1 66.4L377.5 65.4L378.4 64.6L378.8 63.9L379.0 63.2L378.7 62.2L380.8 58.6L383.8 52.5L384.2 51.9L385.5 51.2L394.7 48.1L399.2 47.0L403.4 46.4L408.6 45.1L415.1 44.5L419.6 45.1L421.4 45.9L422.2 46.7L422.6 47.3L423.3 49.8L424.3 55.8L424.3 58.6L424.6 61.2L424.4 62.5L423.9 63.1L423.6 63.9L423.7 64.9L424.6 67.4L426.5 71.4L429.1 76.2L430.2 79.2L430.2 81.6L428.7 89.4L425.5 98.2L424.8 99.6L422.1 103.2L418.0 107.2L415.9 108.6L413.4 109.9Z" fill="rgb(212,212,212)"/>
<path d="M402.9 110.3L393.6 109.0L388.2 107.0L384.3 105.2L382.6 104.1L379.9 101.6L377.2 99.5L374.6 97.9L368.1 93.5L364.1 91.2L358.4 88.2L350.4 82.2L349.7 81.4L355.2 77.6L363.2 73.1L370.9 70.0L376.8 67.0L379.0 65.6L382.9 62.5L384.4 61.5L386.8 60.6L392.2 59.4L393.1 59.0L393.4 58.6L393.3 58.1L391.4 55.1L390.7 52.9L390.7 51.6L390.9 50.4L391.1 49.8L391.6 49.4L394.7 48.2L397.8 47.4L403.2 46.5L408.6 45.2L415.1 44.7L418.9 45.2L420.7 45.9L422.1 47.1L423.1 50.3L423.7 54.4L423.5 55.1L422.6 56.4L419.6 59.4L419.5 60.2L421.9 63.6L426.1 71.8L428.7 76.4L429.7 79.2L429.8 81.6L428.3 89.2L426.9 93.0L424.2 99.1L422.9 101.0L421.4 102.7L417.2 106.5L415.2 107.8L412.8 109.0L405.4 110.1Z" fill="rgb(203,203,203)"/>
<path d="M408.4 58.9L405.6 58.8L402.6 58.2L400.1 57.1L398.1 55.6L396.8 53.8L396.4 51.9L396.9 50.1L398.1 48.4L399.1 47.6L400.5 47.1L408.6 45.5L409.9 45.4L411.9 45.8L413.9 46.5L415.7 47.4L417.1 48.6L418.1 50.1L418.6 51.8L418.3 53.4L417.4 55.1L415.8 56.5L413.6 57.7L411.1 58.5ZM404.2 109.1L402.2 109.1L393.9 107.9L388.6 106.0L384.9 104.4L383.2 103.3L380.6 100.9L377.8 98.8L374.2 96.7L368.6 92.8L358.9 87.0L357.2 85.7L353.2 82.1L353.0 81.8L353.0 81.4L355.9 79.1L363.8 73.8L371.8 70.5L377.2 67.6L383.2 64.1L386.1 63.0L389.2 62.4L393.1 61.9L408.4 61.3L415.4 62.2L417.9 62.8L419.6 63.5L421.1 64.7L422.6 66.8L428.1 76.4L429.0 78.6L429.3 79.8L429.3 81.4L427.7 89.6L426.5 92.8L423.9 98.2L421.6 101.3L418.4 104.3L415.9 106.3L412.6 107.9Z" fill="rgb(193,193,193)"/>
<path d="M409.2 57.1L406.9 57.2L404.6 56.9L402.6 56.2L400.9 55.2L399.6 53.9L399.1 52.6L399.1 51.1L399.8 49.8L401.1 48.6L402.6 47.8L404.4 47.2L406.6 46.8L408.8 46.9L410.8 47.2L412.6 47.8L414.1 48.8L415.3 49.9L415.9 51.1L416.0 52.4L415.5 53.8L414.5 54.9L413.1 55.9L411.2 56.7ZM404.9 107.9L402.4 108.0L394.2 106.9L389.1 105.1L385.4 103.5L383.9 102.5L378.3 98.1L374.8 95.9L359.6 85.9L356.7 83.1L355.8 82.1L355.7 81.6L358.1 79.4L364.6 74.5L373.8 70.3L383.6 65.0L386.6 63.9L389.8 63.2L393.8 62.8L407.8 62.4L414.6 63.1L417.2 63.6L418.9 64.3L420.6 65.5L422.1 67.2L424.4 70.8L426.5 74.4L427.9 76.9L428.6 78.8L428.9 80.6L428.8 82.1L427.3 89.2L425.9 92.6L423.4 97.8L421.6 100.1L419.2 102.4L415.6 105.3L412.2 106.9Z" fill="rgb(181,181,181)"/>
<path d="M408.1 55.9L406.2 55.9L404.6 55.5L403.2 54.9L402.0 54.1L401.3 53.1L401.1 52.1L401.3 50.9L402.0 49.9L403.1 49.1L404.4 48.5L405.9 48.2L407.6 48.1L409.2 48.2L410.7 48.6L411.9 49.1L413.0 49.9L413.6 50.8L413.9 51.8L413.8 52.8L413.3 53.8L412.4 54.6L411.1 55.2L409.8 55.7ZM403.8 106.9L399.1 106.6L394.4 105.8L389.4 104.1L385.8 102.5L378.9 97.4L375.2 95.2L363.0 86.9L359.8 84.2L358.2 82.4L358.1 81.8L361.6 78.1L363.9 76.1L365.4 75.1L374.2 70.9L383.8 65.8L387.1 64.5L390.1 63.9L394.2 63.4L407.2 63.1L414.2 63.7L416.8 64.3L418.4 65.0L420.8 66.8L423.8 70.9L427.1 76.4L428.1 78.8L428.4 80.6L428.3 82.2L426.9 89.1L425.4 92.4L422.6 97.6L420.9 99.7L418.6 101.8L414.9 104.5L411.9 105.9L408.1 106.5Z" fill="rgb(168,168,168)"/>
<path d="M408.6 54.6L406.2 54.6L404.2 53.8L403.5 53.1L403.2 52.4L403.2 51.6L403.5 50.9L404.9 49.8L406.9 49.3L409.1 49.5L410.8 50.2L411.8 51.4L411.9 52.1L411.7 52.8L410.5 53.9ZM404.8 105.8L402.1 105.8L394.8 104.8L389.9 103.1L386.2 101.6L379.4 96.7L375.9 94.6L366.8 88.5L363.5 85.9L361.7 84.1L360.3 82.4L360.3 81.8L361.9 79.6L363.8 77.6L366.4 75.6L378.4 69.7L384.2 66.5L388.2 65.0L391.2 64.3L394.9 63.9L407.1 63.6L413.4 64.2L415.8 64.8L417.8 65.5L420.2 67.4L423.3 71.2L425.8 75.1L427.7 78.9L428.0 80.8L427.8 82.6L427.4 85.2L426.5 88.8L424.6 92.8L421.9 97.2L420.4 99.1L418.6 100.7L414.3 103.8L411.6 104.9Z" fill="rgb(154,154,154)"/>
<path d="M407.8 52.8L407.1 52.7L406.4 52.4L406.2 52.1L406.4 51.6L407.4 51.2L408.6 51.6L408.8 51.9L408.7 52.2L408.3 52.6ZM405.6 104.6L402.2 104.7L395.1 103.7L390.4 102.2L386.6 100.6L379.8 95.9L376.4 93.9L367.6 87.9L364.9 85.6L363.4 84.1L362.2 82.4L362.1 82.1L362.3 81.6L363.4 79.8L364.9 77.9L367.6 75.9L379.1 70.2L384.6 67.2L386.9 66.2L389.6 65.3L395.2 64.4L406.9 64.1L413.1 64.7L415.1 65.2L417.2 66.1L419.7 67.9L422.1 70.6L424.8 74.4L426.8 77.9L427.4 79.6L427.5 81.2L427.0 84.9L426.3 87.8L424.8 91.2L421.9 96.0L420.7 97.6L418.6 99.6L413.9 102.8L411.4 103.8L407.9 104.4Z" fill="rgb(138,138,138)"/>
<path d="M404.4 103.6L402.6 103.6L399.6 103.4L395.1 102.6L390.6 101.1L386.9 99.6L380.1 95.1L376.8 93.1L368.1 87.1L365.4 84.6L363.9 82.6L363.8 81.9L364.5 80.4L366.3 78.1L368.1 76.6L369.8 75.6L379.7 70.8L385.1 67.9L387.4 66.9L390.6 65.8L395.8 64.9L406.6 64.6L412.8 65.3L414.8 65.9L416.9 66.8L419.4 68.7L421.9 71.4L424.4 74.7L426.3 78.1L426.9 79.6L427.1 81.2L426.6 84.9L425.9 87.8L424.4 91.0L421.5 95.4L420.0 97.2L417.9 99.1L413.6 101.8L410.9 102.9L407.8 103.4Z" fill="rgb(121,121,121)"/>
<path d="M405.8 102.4L401.8 102.5L395.6 101.6L391.1 100.2L387.4 98.7L377.4 92.4L368.9 86.6L366.9 84.6L365.4 82.4L365.3 81.8L365.9 80.2L366.9 78.9L368.4 77.4L371.4 75.6L385.4 68.7L388.9 67.2L391.9 66.2L394.4 65.7L397.2 65.4L406.4 65.1L412.4 65.9L414.2 66.5L416.4 67.5L419.1 69.4L421.5 71.8L424.0 74.9L425.8 78.1L426.5 79.8L426.6 81.2L426.2 84.9L425.5 87.4L424.6 89.7L423.1 92.1L419.9 96.2L417.9 98.0L413.8 100.6L411.9 101.4L410.2 102.0Z" fill="rgb(104,104,104)"/>
<path d="M404.2 101.4L399.8 101.2L395.6 100.5L391.2 99.1L387.8 97.7L377.9 91.7L369.8 86.1L367.9 84.2L366.8 82.4L366.7 81.6L367.1 80.4L367.9 79.2L369.4 77.8L372.8 75.7L387.6 68.7L390.8 67.4L394.1 66.5L397.1 66.0L400.1 65.8L406.7 65.8L412.2 66.6L416.2 68.3L418.9 70.2L422.0 73.2L424.1 76.0L425.4 78.4L426.0 79.9L426.2 81.6L425.8 84.8L425.1 87.4L424.2 89.4L422.6 91.8L419.5 95.6L417.2 97.5L413.1 99.8L410.4 100.8L407.4 101.3Z" fill="rgb(85,85,85)"/>
<path d="M406.9 100.3L401.9 100.3L397.4 99.8L391.9 98.2L388.1 96.7L378.4 91.0L370.5 85.6L368.8 83.8L368.0 82.4L367.9 81.6L368.2 80.6L368.8 79.6L370.0 78.2L373.2 76.3L385.9 70.4L391.1 68.3L394.6 67.3L397.5 66.8L400.2 66.5L406.4 66.5L408.9 66.8L411.9 67.4L415.8 69.0L418.4 70.7L420.6 72.5L421.9 73.9L423.8 76.4L424.9 78.4L425.6 80.2L425.7 81.9L425.4 84.9L424.7 87.2L423.7 89.2L421.9 91.8L418.4 95.6L416.8 96.8L412.6 99.0L410.1 99.8Z" fill="rgb(65,65,65)"/>
<path d="M404.1 99.3L399.9 99.1L395.9 98.3L389.4 96.2L384.6 93.7L378.8 90.2L371.1 84.9L369.8 83.4L369.1 82.2L369.1 81.2L369.5 80.2L370.5 78.9L371.6 78.1L373.6 77.0L377.9 74.9L388.1 70.5L391.4 69.3L395.6 68.1L400.4 67.4L404.1 67.2L406.6 67.4L411.8 68.3L415.8 69.9L418.1 71.3L421.4 74.1L423.4 76.6L424.4 78.5L425.1 80.1L425.3 81.6L425.0 84.6L424.3 87.1L423.4 88.9L421.8 91.1L418.8 94.3L416.6 95.9L412.4 98.0L409.9 98.8L407.2 99.2Z" fill="rgb(44,44,44)"/>
<path d="M407.2 98.1L402.1 98.2L397.9 97.6L392.6 96.2L388.8 94.8L385.1 92.9L379.2 89.4L371.8 84.3L370.3 82.4L370.1 81.6L370.3 80.8L371.2 79.4L372.1 78.8L373.9 77.6L378.2 75.6L386.4 72.1L391.6 70.3L395.1 69.4L400.6 68.5L403.2 68.3L406.4 68.4L411.6 69.2L415.4 70.6L417.8 71.9L419.9 73.5L421.1 74.6L423.0 76.9L424.7 80.4L424.9 82.9L424.6 84.8L423.9 86.9L422.4 89.4L419.6 92.6L417.6 94.3L416.1 95.3L412.1 97.1L409.8 97.7Z" fill="rgb(21,21,21)"/>
<path d="M407.1 97.1L402.2 97.2L398.2 96.7L392.9 95.3L389.2 93.9L383.9 91.3L379.7 88.8L373.5 84.6L372.3 83.6L371.5 82.8L371.0 81.8L371.1 80.9L371.8 79.9L373.4 78.8L378.6 76.2L386.8 72.9L391.9 71.2L395.4 70.3L400.8 69.5L406.2 69.3L411.2 70.0L415.1 71.2L417.4 72.4L419.8 74.0L420.8 74.9L422.6 77.1L424.3 80.6L424.5 82.9L424.3 84.6L423.5 86.8L422.1 89.1L419.2 92.2L417.3 93.8L415.8 94.6L411.8 96.3L409.4 96.8Z" fill="rgb(230,230,230)"/>
<path d="M407.1 96.8L402.4 96.9L398.4 96.4L392.9 94.9L389.2 93.6L384.1 90.9L379.9 88.4L376.1 85.8L372.7 83.1L371.8 81.8L371.8 81.1L372.6 80.1L374.4 78.8L378.8 76.5L386.8 73.2L392.1 71.4L395.4 70.6L400.9 69.7L406.1 69.6L411.2 70.3L415.1 71.5L417.4 72.7L419.6 74.2L420.6 75.1L422.4 77.1L424.1 80.6L424.3 82.6L424.1 84.4L423.3 86.6L421.8 89.1L419.1 91.9L417.2 93.4L415.8 94.3L411.6 96.0Z" fill="rgb(222,222,222)"/>
<path d="M406.8 96.4L402.6 96.5L398.4 96.0L393.1 94.6L389.4 93.2L384.2 90.6L378.6 86.9L373.5 82.9L372.7 81.9L372.6 81.2L373.1 80.6L374.9 79.2L380.4 76.2L386.9 73.4L392.1 71.7L395.6 70.8L401.1 70.0L405.9 69.8L411.1 70.5L414.9 71.7L417.2 72.9L419.4 74.4L420.4 75.3L422.2 77.2L423.1 78.9L423.8 80.8L424.0 82.8L423.8 84.4L423.1 86.4L421.6 88.8L419.0 91.6L417.1 93.1L415.6 93.9L411.6 95.6Z" fill="rgb(213,213,213)"/>
<path d="M406.4 96.1L402.6 96.1L398.4 95.6L393.2 94.3L389.6 92.9L384.5 90.2L380.2 87.5L377.6 85.6L374.7 83.1L373.8 82.1L373.5 81.4L375.1 79.9L376.9 78.6L379.1 77.3L382.1 75.8L387.1 73.7L392.2 72.0L395.6 71.1L401.1 70.3L405.8 70.1L411.1 70.9L414.8 72.0L417.1 73.2L419.4 74.8L421.4 76.7L422.4 78.2L423.5 80.6L423.7 81.8L423.6 84.1L422.9 85.9L421.8 88.1L420.4 89.8L418.7 91.4L416.8 92.9L411.4 95.2Z" fill="rgb(203,203,203)"/>
<path d="M407.1 95.6L402.8 95.7L398.6 95.2L393.2 93.9L389.8 92.5L384.8 89.9L380.4 87.1L376.9 84.3L374.7 82.1L374.5 81.4L375.7 80.2L379.1 77.8L382.3 76.1L389.1 73.3L395.6 71.4L401.2 70.6L405.8 70.4L410.9 71.1L414.6 72.3L416.9 73.4L419.1 74.9L421.7 77.6L422.6 79.1L423.3 80.9L423.5 82.6L423.2 84.2L422.6 86.1L421.5 87.9L419.6 90.1L417.2 92.1L415.2 93.2L411.4 94.8Z" fill="rgb(192,192,192)"/>
<path d="M406.8 95.3L402.8 95.4L398.6 94.9L393.4 93.5L389.9 92.2L385.1 89.6L380.7 86.8L377.2 83.8L375.7 82.1L375.5 81.8L375.6 81.4L377.4 79.7L379.4 78.1L382.4 76.4L389.1 73.6L392.4 72.5L395.8 71.7L401.2 70.9L405.6 70.7L410.9 71.4L414.6 72.6L416.8 73.6L418.9 75.1L421.5 77.8L423.0 80.9L423.2 82.6L422.9 84.2L422.2 86.1L421.1 87.9L419.2 90.1L416.9 91.9L415.1 92.9L411.2 94.5Z" fill="rgb(180,180,180)"/>
<path d="M406.4 94.9L402.8 95.0L398.8 94.5L393.6 93.2L390.2 91.9L385.4 89.4L380.9 86.4L378.3 84.1L376.6 82.1L376.5 81.6L377.8 80.1L379.6 78.5L382.8 76.6L389.2 73.9L395.8 72.0L401.4 71.2L405.6 71.0L410.8 71.7L414.4 72.8L416.6 73.9L418.8 75.3L421.2 77.8L422.7 80.9L422.9 82.6L422.7 84.1L422.0 85.9L420.9 87.8L418.9 89.9L416.8 91.6L414.8 92.7L411.2 94.0Z" fill="rgb(167,167,167)"/>
<path d="M405.8 94.6L402.8 94.6L398.6 94.1L393.8 92.8L390.4 91.6L385.7 89.1L381.2 86.1L378.7 83.8L377.5 82.1L377.4 81.6L378.1 80.6L379.9 78.8L382.9 76.9L389.2 74.2L392.6 73.1L395.8 72.3L400.1 71.6L405.4 71.3L407.8 71.5L410.8 72.0L414.2 73.1L416.4 74.1L418.6 75.5L421.2 78.2L422.4 80.6L422.6 81.9L422.4 83.8L421.8 85.6L420.7 87.4L419.3 89.1L417.9 90.3L416.2 91.5L411.1 93.7Z" fill="rgb(154,154,154)"/>
<path d="M406.9 94.1L402.9 94.2L398.9 93.8L394.4 92.7L390.8 91.3L386.1 88.9L382.2 86.3L379.3 83.6L378.4 82.2L378.3 81.6L380.3 79.1L381.4 78.2L383.3 77.1L388.8 74.7L392.8 73.3L395.8 72.5L399.9 71.9L405.4 71.6L407.8 71.8L410.6 72.3L414.1 73.3L417.4 75.1L419.1 76.3L420.8 78.1L421.5 79.2L422.2 81.1L422.3 82.6L422.1 83.9L421.4 85.7L420.3 87.4L418.6 89.3L416.4 91.0L414.4 92.0L411.1 93.3Z" fill="rgb(140,140,140)"/>
<path d="M406.4 93.8L402.9 93.9L398.9 93.4L394.6 92.3L390.8 90.9L386.2 88.5L382.6 86.1L380.0 83.6L379.1 82.2L379.0 81.6L380.8 79.2L381.9 78.3L383.6 77.3L386.4 75.9L390.9 74.2L396.4 72.7L402.1 72.0L405.1 71.9L407.6 72.1L412.6 73.1L415.9 74.5L418.9 76.5L420.6 78.2L421.2 79.2L421.9 80.9L422.0 82.2L421.9 83.6L421.2 85.4L420.2 87.1L418.8 88.7L416.1 90.8L410.9 93.0Z" fill="rgb(125,125,125)"/>
<path d="M405.8 93.4L401.6 93.4L398.8 93.0L394.2 91.8L390.9 90.5L386.4 88.2L384.0 86.6L381.9 84.9L380.6 83.6L379.9 82.4L379.7 81.9L379.9 81.2L380.7 79.9L381.9 78.8L384.9 77.0L391.6 74.3L394.8 73.3L398.1 72.7L403.8 72.2L407.6 72.4L412.6 73.4L415.9 74.8L418.8 76.8L420.4 78.4L421.1 79.6L421.7 81.1L421.8 82.6L421.6 83.7L420.8 85.6L419.9 87.0L418.4 88.6L415.8 90.6L410.8 92.6Z" fill="rgb(111,111,111)"/>
<path d="M405.4 93.1L401.6 93.1L398.9 92.7L394.6 91.6L391.1 90.2L386.6 87.8L384.2 86.3L382.2 84.6L381.0 83.2L380.4 82.2L380.4 81.8L380.7 80.9L381.5 79.8L382.4 78.8L383.8 77.9L386.4 76.6L393.1 74.1L398.2 72.9L403.8 72.5L407.6 72.7L412.6 73.7L415.6 75.0L416.9 75.7L418.5 76.9L420.2 78.6L421.3 80.9L421.4 83.2L420.2 85.9L418.1 88.5L415.6 90.2L410.8 92.2Z" fill="rgb(95,95,95)"/>
<path d="M406.8 92.6L403.1 92.7L399.8 92.5L396.4 91.7L391.4 89.9L386.9 87.5L383.4 85.1L382.2 84.0L381.3 82.8L381.0 81.9L381.1 81.1L381.7 80.1L382.6 79.1L384.1 78.1L386.6 76.9L391.9 74.7L394.9 73.9L398.2 73.2L403.8 72.8L407.4 72.9L412.4 74.0L415.6 75.3L418.4 77.2L420.0 78.8L420.5 79.6L421.1 81.1L421.2 82.6L421.1 83.4L420.3 85.2L419.4 86.6L417.9 88.2L415.6 89.9L410.8 91.8Z" fill="rgb(80,80,80)"/>
<path d="M405.8 92.3L401.9 92.3L399.1 92.0L394.9 90.9L391.6 89.6L387.1 87.2L383.8 84.9L382.6 83.8L381.8 82.6L381.5 81.8L381.7 80.9L382.8 79.5L384.1 78.5L388.9 76.1L394.9 74.1L399.6 73.3L405.1 73.0L407.4 73.2L410.2 73.7L412.6 74.3L415.4 75.5L418.1 77.3L419.9 79.1L420.9 81.4L420.8 83.2L420.1 85.1L419.2 86.4L416.9 88.6L414.8 89.8L410.6 91.5Z" fill="rgb(64,64,64)"/>
<path d="M405.4 91.9L401.9 92.0L399.1 91.6L394.9 90.5L391.8 89.2L387.4 86.9L384.2 84.7L383.0 83.6L382.3 82.6L382.1 81.6L382.3 80.8L383.1 79.7L384.4 78.6L388.9 76.5L391.9 75.3L395.0 74.4L398.4 73.7L402.4 73.4L407.4 73.5L412.4 74.6L415.2 75.7L416.6 76.5L419.6 79.1L420.6 81.2L420.6 83.1L419.5 85.4L417.4 87.8L415.2 89.2L410.9 91.0L406.9 91.8Z" fill="rgb(47,47,47)"/>
<path d="M405.1 91.6L402.1 91.6L399.2 91.3L395.1 90.2L391.9 88.9L387.6 86.6L384.5 84.4L383.3 83.2L382.8 82.4L382.6 81.4L382.8 80.8L383.3 79.9L384.6 78.9L389.1 76.7L392.1 75.5L395.1 74.7L398.4 74.0L402.6 73.6L407.2 73.8L412.4 74.8L415.1 76.0L416.4 76.7L419.4 79.3L420.3 81.2L420.3 82.9L419.3 85.2L417.2 87.5L415.1 88.9L410.8 90.6L406.8 91.5Z" fill="rgb(30,30,30)"/>
<path d="M405.1 91.3L402.1 91.3L399.4 91.0L396.9 90.4L392.1 88.6L387.8 86.3L384.8 84.2L383.7 83.1L383.1 82.2L382.9 81.4L383.1 80.8L384.4 79.3L385.8 78.6L389.2 76.9L392.2 75.7L395.1 74.9L398.6 74.2L402.6 73.8L407.2 74.0L412.2 75.1L415.1 76.2L416.3 76.9L419.2 79.4L420.1 81.2L420.1 82.9L419.1 85.1L417.1 87.3L415.1 88.6L410.8 90.3L406.6 91.2Z" fill="rgb(229,229,229)"/>
<path d="M404.8 91.1L402.2 91.1L399.4 90.7L395.2 89.6L392.2 88.4L387.9 85.9L385.0 83.8L383.7 82.1L383.6 81.4L383.7 80.9L384.7 79.8L385.9 79.0L389.2 77.2L392.2 76.0L395.2 75.1L398.6 74.4L402.8 74.0L407.1 74.1L412.2 75.2L414.9 76.3L416.2 77.1L417.7 78.2L419.1 79.7L419.8 81.4L419.8 82.8L418.9 84.9L416.9 87.1L414.9 88.4L410.6 90.1L406.6 90.9Z" fill="rgb(220,220,220)"/>
<path d="M405.1 90.8L402.4 90.8L399.6 90.5L397.1 89.9L392.9 88.3L390.8 87.2L388.1 85.5L386.3 84.1L384.6 82.4L384.3 81.8L384.3 81.2L385.1 80.2L387.4 78.7L389.4 77.5L392.4 76.2L395.4 75.3L398.6 74.6L402.8 74.1L407.1 74.3L412.2 75.4L414.9 76.5L416.1 77.2L417.6 78.4L418.8 79.8L419.5 81.6L419.5 82.8L418.6 84.8L416.7 86.9L414.8 88.2L410.4 89.9L406.4 90.7Z" fill="rgb(209,209,209)"/>
<path d="M406.2 90.4L402.8 90.6L400.6 90.4L397.2 89.7L394.4 88.6L390.9 86.9L388.3 85.1L385.6 82.7L385.0 81.8L385.0 81.2L385.6 80.6L387.9 78.9L389.6 77.9L392.4 76.5L395.4 75.5L400.2 74.5L404.8 74.3L407.1 74.5L410.6 75.2L412.1 75.5L414.8 76.7L416.1 77.5L417.4 78.6L418.7 80.1L419.2 82.1L418.7 83.9L417.4 85.8L415.9 87.1L413.1 88.6L410.0 89.8Z" fill="rgb(198,198,198)"/>
<path d="M404.6 90.3L402.4 90.3L399.6 89.9L397.2 89.3L393.2 87.8L391.1 86.6L388.6 84.8L386.1 82.3L385.7 81.8L385.7 81.4L387.0 80.2L389.7 78.2L392.6 76.8L395.6 75.7L398.8 75.0L402.8 74.5L406.9 74.6L411.9 75.7L414.8 76.9L416.1 77.8L417.4 78.9L418.5 80.4L418.9 82.2L418.0 84.4L416.4 86.3L414.1 87.9L410.4 89.3L407.1 90.0Z" fill="rgb(186,186,186)"/>
<path d="M404.9 89.9L402.6 90.0L400.6 89.8L397.4 89.1L394.6 88.0L391.4 86.4L388.9 84.5L387.1 82.6L386.6 81.9L386.6 81.6L387.4 80.6L389.8 78.6L392.8 77.0L395.6 76.0L397.9 75.4L402.8 74.7L406.9 74.8L411.9 75.9L414.8 77.1L415.9 77.9L417.0 78.9L418.1 80.4L418.6 82.2L417.8 84.2L416.2 86.1L413.9 87.6L410.6 89.0L408.2 89.6Z" fill="rgb(174,174,174)"/>
<path d="M406.2 89.6L402.9 89.7L400.8 89.5L397.6 88.8L395.2 88.0L391.8 86.2L390.1 84.9L387.8 82.6L387.4 81.9L387.4 81.6L388.4 80.4L390.1 78.9L392.6 77.4L395.8 76.2L400.4 75.1L404.6 74.9L406.9 75.0L409.8 75.5L412.9 76.5L414.6 77.3L416.2 78.4L417.7 80.2L418.2 81.9L417.9 83.2L416.8 85.1L415.3 86.4L413.8 87.4L411.9 88.2L409.8 89.0Z" fill="rgb(161,161,161)"/>
<path d="M404.4 89.4L402.6 89.4L399.8 89.1L397.6 88.5L394.9 87.5L391.9 85.9L390.2 84.5L388.4 82.4L388.1 81.9L388.2 81.6L390.2 79.2L392.9 77.6L395.8 76.4L397.8 75.9L400.2 75.4L402.9 75.1L406.8 75.2L411.8 76.2L414.4 77.4L416.2 78.8L417.4 80.4L417.9 82.1L417.2 83.9L415.7 85.8L413.4 87.2L410.1 88.6L406.9 89.2Z" fill="rgb(147,147,147)"/>
<path d="M405.4 89.1L402.8 89.2L400.8 88.9L397.8 88.3L395.4 87.4L392.1 85.6L390.6 84.2L389.0 82.2L388.9 81.6L390.6 79.4L393.2 77.8L397.8 76.1L400.2 75.6L402.9 75.3L406.8 75.4L410.2 76.0L411.9 76.5L413.8 77.3L415.9 78.8L417.1 80.4L417.5 82.1L416.9 83.7L415.6 85.4L413.4 87.0L410.6 88.2L408.4 88.7Z" fill="rgb(134,134,134)"/>
<path d="M406.6 88.8L402.9 88.9L400.9 88.7L397.9 88.0L395.6 87.2L393.6 86.1L391.9 85.0L390.1 83.1L389.5 82.1L389.6 81.6L391.2 79.4L393.8 77.8L397.9 76.3L402.9 75.5L406.6 75.5L410.1 76.1L411.8 76.6L413.6 77.4L415.6 78.7L416.7 80.2L417.2 81.9L416.9 83.0L415.9 84.6L415.0 85.6L413.9 86.3L411.6 87.5L409.4 88.3Z" fill="rgb(120,120,120)"/>
<path d="M404.4 88.6L402.8 88.6L399.8 88.2L395.9 87.0L394.2 86.1L392.4 84.9L390.9 83.4L390.1 82.1L390.3 81.2L391.7 79.4L393.9 78.0L397.9 76.5L402.9 75.6L406.6 75.7L410.1 76.3L411.8 76.8L413.6 77.6L415.7 79.1L416.5 80.4L416.8 82.2L415.9 84.1L414.8 85.4L412.8 86.7L409.8 87.9L406.8 88.5Z" fill="rgb(105,105,105)"/>
<path d="M406.1 88.3L402.9 88.3L400.9 88.1L398.1 87.4L395.8 86.6L392.8 84.8L391.4 83.4L390.7 82.1L390.9 81.2L392.0 79.6L394.1 78.2L398.1 76.7L402.9 75.8L406.6 75.9L409.9 76.5L411.6 76.9L413.4 77.7L415.4 79.1L416.2 80.4L416.5 82.1L415.8 83.8L414.8 85.0L412.9 86.3L411.2 87.1L409.2 87.8Z" fill="rgb(91,91,91)"/>
<path d="M406.9 87.9L403.1 88.0L401.1 87.8L398.8 87.3L395.9 86.3L394.1 85.3L392.7 84.2L391.7 83.1L391.3 82.4L391.2 81.9L391.4 81.2L392.0 80.1L392.7 79.4L394.0 78.6L395.6 77.8L399.2 76.6L403.1 76.0L406.6 76.1L409.8 76.6L412.4 77.5L414.2 78.4L415.1 79.1L415.9 80.4L416.2 82.1L415.4 83.7L414.5 84.8L412.8 86.1L411.2 86.9L409.2 87.5Z" fill="rgb(76,76,76)"/>
<path d="M404.2 87.8L402.8 87.7L399.4 87.2L396.1 86.1L394.4 85.1L393.2 84.2L392.0 82.8L391.7 81.8L392.2 80.4L393.0 79.6L394.1 78.8L396.6 77.7L399.2 76.8L403.2 76.2L406.4 76.2L409.8 76.8L411.4 77.3L413.2 78.1L415.1 79.4L415.7 80.6L415.8 82.1L415.1 83.6L413.9 84.9L411.2 86.6L409.3 87.2L406.6 87.7Z" fill="rgb(61,61,61)"/>
<path d="M406.6 87.4L403.1 87.5L401.2 87.3L399.2 86.9L396.2 85.8L393.5 84.1L392.4 82.8L392.1 81.8L392.5 80.6L393.2 79.8L394.2 79.0L396.8 77.9L399.4 77.0L403.2 76.4L406.4 76.4L409.8 77.0L412.2 77.8L414.6 79.2L415.4 80.6L415.5 81.9L414.9 83.4L413.9 84.5L412.4 85.6L410.9 86.4L409.1 87.0Z" fill="rgb(45,45,45)"/>
<path d="M406.9 87.1L403.2 87.2L401.2 87.0L399.4 86.6L396.4 85.5L394.5 84.4L393.7 83.8L392.9 82.8L392.6 81.8L392.8 80.8L393.3 80.1L394.4 79.3L396.8 78.1L400.1 77.1L403.2 76.5L406.4 76.6L409.6 77.1L412.1 77.9L414.3 79.2L415.1 80.6L415.2 81.9L414.6 83.2L413.8 84.3L412.2 85.4L410.9 86.1L408.9 86.8Z" fill="rgb(30,30,30)"/>
<path d="M406.8 86.9L403.1 87.0L401.4 86.8L399.6 86.4L396.4 85.3L394.8 84.3L393.8 83.4L393.0 82.2L392.9 81.6L393.1 80.9L393.6 80.2L394.6 79.4L396.9 78.2L400.1 77.2L403.2 76.7L406.4 76.7L409.6 77.2L412.1 78.1L414.2 79.3L414.9 80.6L415.0 81.8L414.3 83.2L413.6 84.1L410.9 85.9L408.9 86.6Z" fill="rgb(219,219,219)"/>
<path d="M405.9 86.8L403.2 86.8L400.6 86.4L396.7 84.9L394.9 83.8L394.1 82.9L393.5 81.9L393.7 80.9L394.8 79.9L398.4 78.0L401.8 77.1L403.4 76.9L406.2 76.9L409.4 77.5L411.8 78.4L413.9 79.8L414.4 80.8L414.4 81.8L413.8 83.1L412.9 84.1L411.8 84.9L410.3 85.8L407.9 86.5Z" fill="rgb(203,203,203)"/>
<path d="M406.4 86.4L403.6 86.5L401.8 86.3L398.6 85.3L396.8 84.4L395.2 83.2L394.2 82.0L394.2 81.2L394.9 80.5L396.2 79.6L398.6 78.3L401.8 77.3L403.4 77.1L406.1 77.1L409.2 77.8L411.2 78.6L413.5 80.1L413.8 80.9L413.8 81.6L413.3 82.8L412.4 83.8L410.2 85.3L408.6 86.0Z" fill="rgb(188,188,188)"/>
<path d="M406.4 86.1L403.4 86.2L401.8 86.0L399.8 85.4L397.6 84.4L395.8 83.1L395.0 82.1L394.9 81.4L396.6 80.0L398.9 78.6L401.8 77.6L403.6 77.3L406.1 77.4L409.1 78.1L410.9 79.0L412.9 80.4L413.3 81.2L413.0 82.1L412.4 83.1L411.4 84.0L410.2 84.8L408.9 85.5Z" fill="rgb(175,175,175)"/>
<path d="M405.2 85.9L403.6 85.9L401.9 85.7L399.8 85.0L397.1 83.4L395.9 82.2L395.7 81.6L396.9 80.4L399.6 78.7L401.9 77.8L403.8 77.5L406.1 77.6L408.9 78.5L410.8 79.4L412.5 80.9L412.6 81.6L412.1 82.6L411.1 83.7L410.1 84.4L407.6 85.5Z" fill="rgb(161,161,161)"/>
<path d="M405.8 85.6L403.4 85.6L401.9 85.4L400.2 84.8L397.7 83.2L396.6 82.1L396.5 81.8L397.7 80.4L399.8 79.0L401.9 78.1L403.8 77.7L405.9 77.8L408.2 78.6L410.4 79.8L411.9 81.1L412.0 81.6L411.6 82.2L409.9 84.0L408.2 84.9Z" fill="rgb(148,148,148)"/>
<path d="M405.9 85.3L403.6 85.4L401.9 85.1L400.6 84.6L399.4 83.9L398.1 82.9L397.4 82.1L397.4 81.6L399.7 79.4L402.2 78.2L403.8 78.0L405.2 78.0L408.1 78.9L410.4 80.4L411.1 81.2L411.2 81.8L410.4 82.9L409.1 84.0L407.6 84.8Z" fill="rgb(135,135,135)"/>
<path d="M404.8 85.1L402.2 84.8L400.4 84.1L398.4 82.4L398.1 81.9L398.2 81.6L399.5 80.1L400.6 79.3L402.1 78.6L403.9 78.2L405.8 78.3L407.8 79.1L409.0 79.9L410.4 81.2L410.5 81.8L410.2 82.2L408.5 83.9L406.2 84.9Z" fill="rgb(122,122,122)"/>
<path d="M405.1 84.8L403.9 84.8L402.8 84.6L400.9 84.0L399.3 82.6L398.9 82.1L399.0 81.6L400.3 79.9L402.2 78.8L403.6 78.5L404.8 78.4L407.0 79.1L408.9 80.4L409.7 81.4L409.8 81.9L409.2 82.8L408.0 83.8L406.2 84.5Z" fill="rgb(109,109,109)"/>
<path d="M405.4 84.4L404.1 84.5L402.9 84.4L400.7 83.4L399.9 82.6L399.5 81.9L400.2 80.6L400.8 79.9L401.8 79.2L403.8 78.7L405.6 78.8L407.5 79.8L408.8 81.1L409.1 81.6L409.0 82.1L407.5 83.6Z" fill="rgb(97,97,97)"/>
<path d="M404.4 84.3L402.9 84.1L401.7 83.6L400.8 82.9L400.1 81.9L400.6 80.8L401.3 79.9L402.4 79.3L403.8 78.9L405.1 78.9L406.6 79.6L407.8 80.6L408.5 81.8L408.0 82.6L407.0 83.4L405.8 84.0Z" fill="rgb(84,84,84)"/>
<path d="M404.8 83.9L403.9 83.9L402.6 83.6L401.6 83.1L400.9 82.4L400.7 81.8L401.0 80.9L401.5 80.2L402.2 79.6L403.8 79.1L405.1 79.2L406.6 79.9L407.5 80.9L407.9 81.8L407.4 82.6L406.1 83.6Z" fill="rgb(72,72,72)"/>
<path d="M404.9 83.6L404.1 83.7L403.1 83.5L401.5 82.6L401.2 82.1L401.2 81.6L401.6 80.6L402.1 80.1L403.4 79.5L404.6 79.3L405.8 79.8L406.8 80.6L407.3 81.6L407.1 82.2L406.1 83.2Z" fill="rgb(60,60,60)"/>
<path d="M405.1 83.3L404.2 83.4L403.2 83.2L402.1 82.6L401.7 81.8L402.1 80.4L402.9 79.9L404.2 79.6L405.4 79.8L406.2 80.4L406.7 81.1L406.8 81.9L406.1 82.8Z" fill="rgb(48,48,48)"/>
<path d="M404.4 83.1L403.1 82.9L402.4 82.4L402.1 81.9L402.4 80.6L402.9 80.2L403.9 79.8L404.8 79.9L405.6 80.2L406.1 80.8L406.4 81.4L406.3 81.9L405.8 82.6Z" fill="rgb(36,36,36)"/>
<path d="M404.4 82.8L403.4 82.6L402.6 82.1L402.5 81.1L403.0 80.4L403.9 80.1L404.5 80.1L405.3 80.4L405.8 80.9L406.0 81.6L405.8 82.1L405.2 82.5Z" fill="rgb(24,24,24)"/>
<path d="M404.9 82.4L403.6 82.5L402.9 82.1L402.7 81.6L402.8 80.8L404.2 80.2L405.4 80.7L405.8 81.2L405.8 81.6L405.5 82.1Z" fill="rgb(58,58,58)"/>
<path d="M403.6 114.6L401.9 114.7L399.8 114.2L395.1 113.7L392.2 113.1L383.8 109.6L381.9 108.6L380.4 107.5L379.2 106.4L377.4 104.2L375.3 102.4L372.8 100.9L366.4 96.6L362.6 94.6L358.2 93.1L356.9 92.8L350.8 89.7L342.8 86.6L339.0 83.8L337.4 82.0L337.0 81.4L337.0 81.1L338.8 79.3L340.9 77.6L343.9 75.9L353.9 72.4L358.1 71.3L363.2 69.2L368.2 67.9L371.2 66.6L375.1 64.4L377.1 63.0L378.8 61.3L380.5 58.4L383.6 52.1L384.1 51.6L385.8 50.7L394.8 47.7L399.2 46.7L403.2 46.2L408.6 44.8L411.2 44.7L412.4 44.3L415.8 44.2L419.4 44.7L420.9 45.2L421.9 45.8L422.8 46.8L423.6 49.8L424.7 55.6L424.7 58.6L425.0 61.9L426.2 66.6L427.9 70.9L430.4 75.6L431.3 78.1L431.5 79.1L431.5 81.9L430.2 87.4L429.9 89.9L428.1 95.9L427.4 98.8L426.5 100.9L424.0 104.8L419.7 109.6L417.2 111.3L414.4 112.9L411.8 113.5Z" fill="none" stroke="#f4f4f4" stroke-width="0.6"/>
<path d="M407.1 97.1L402.2 97.2L398.2 96.7L392.9 95.3L389.2 93.9L383.9 91.3L379.7 88.8L373.5 84.6L372.3 83.6L371.5 82.8L371.0 81.8L371.1 80.9L371.8 79.9L373.4 78.8L378.6 76.2L386.8 72.9L391.9 71.2L395.4 70.3L400.8 69.5L406.2 69.3L411.2 70.0L415.1 71.2L417.4 72.4L419.8 74.0L420.8 74.9L422.6 77.1L424.3 80.6L424.5 82.9L424.3 84.6L423.5 86.8L422.1 89.1L419.2 92.2L417.3 93.8L415.8 94.6L411.8 96.3L409.4 96.8Z" fill="none" stroke="#fff" stroke-width="1.0"/>
<path d="M405.1 91.3L402.1 91.3L399.4 91.0L396.9 90.4L392.1 88.6L387.8 86.3L384.8 84.2L383.7 83.1L383.1 82.2L382.9 81.4L383.1 80.8L384.4 79.3L385.8 78.6L389.2 76.9L392.2 75.7L395.1 74.9L398.6 74.2L402.6 73.8L407.2 74.0L412.2 75.1L415.1 76.2L416.3 76.9L419.2 79.4L420.1 81.2L420.1 82.9L419.1 85.1L417.1 87.3L415.1 88.6L410.8 90.3L406.6 91.2Z" fill="none" stroke="#fff" stroke-width="1.0" stroke-dasharray="2.6 0.6"/>
<path d="M406.8 86.9L403.1 87.0L401.4 86.8L399.6 86.4L396.4 85.3L394.8 84.3L393.8 83.4L393.0 82.2L392.9 81.6L393.1 80.9L393.6 80.2L394.6 79.4L396.9 78.2L400.1 77.2L403.2 76.7L406.4 76.7L409.6 77.2L412.1 78.1L414.2 79.3L414.9 80.6L415.0 81.8L414.3 83.2L413.6 84.1L410.9 85.9L408.9 86.6Z" fill="none" stroke="#fff" stroke-width="0.9" stroke-dasharray="1.6 0.8"/></g>
<path d="M67.60 207.64h-2.7M71.58 209.00v2.3M67.60 203.04h-2.7M75.14 209.00v2.3M67.60 199.48h-2.7M78.05 209.00v2.3M67.60 196.56h-2.7M80.51 209.00v2.3M67.60 194.10h-2.7M82.64 209.00v2.3M67.60 191.97h-2.7M84.52 209.00v2.3M67.60 190.08h-2.7M97.26 209.00v2.3M67.60 177.32h-2.7M103.73 209.00v2.3M67.60 170.84h-2.7M108.33 209.00v2.3M67.60 166.24h-2.7M111.89 209.00v2.3M67.60 162.68h-2.7M114.80 209.00v2.3M67.60 159.76h-2.7M117.26 209.00v2.3M67.60 157.30h-2.7M119.39 209.00v2.3M67.60 155.17h-2.7M121.27 209.00v2.3M67.60 153.28h-2.7M134.01 209.00v2.3M67.60 140.52h-2.7M140.48 209.00v2.3M67.60 134.04h-2.7M145.08 209.00v2.3M67.60 129.44h-2.7M148.64 209.00v2.3M67.60 125.88h-2.7M151.55 209.00v2.3M67.60 122.96h-2.7M154.01 209.00v2.3M67.60 120.50h-2.7M156.14 209.00v2.3M67.60 118.37h-2.7M158.02 209.00v2.3M67.60 116.48h-2.7M170.76 209.00v2.3M67.60 103.72h-2.7M177.23 209.00v2.3M67.60 97.24h-2.7M181.83 209.00v2.3M67.60 92.64h-2.7M185.39 209.00v2.3M67.60 89.08h-2.7M188.30 209.00v2.3M67.60 86.16h-2.7M190.76 209.00v2.3M67.60 83.70h-2.7M192.89 209.00v2.3M67.60 81.57h-2.7M194.77 209.00v2.3M67.60 79.68h-2.7M207.51 209.00v2.3M67.60 66.92h-2.7M213.98 209.00v2.3M67.60 60.44h-2.7M218.58 209.00v2.3M67.60 55.84h-2.7M222.14 209.00v2.3M67.60 52.28h-2.7M225.05 209.00v2.3M67.60 49.36h-2.7M227.51 209.00v2.3M67.60 46.90h-2.7M229.64 209.00v2.3M67.60 44.77h-2.7M231.52 209.00v2.3M67.60 42.88h-2.7M244.26 209.00v2.3M67.60 30.12h-2.7" stroke="#3a3a3a" stroke-width="1.15" fill="none"/>
<path d="M86.20 209.00v4.6M67.60 188.40h-5.7M122.95 209.00v4.6M67.60 151.60h-5.7M159.70 209.00v4.6M67.60 114.80h-5.7M196.45 209.00v4.6M67.60 78.00h-5.7M233.20 209.00v4.6M67.60 41.20h-5.7" stroke="#1a1a1a" stroke-width="1.9" fill="none"/>
<path d="M67.60 25.80H250.50V209.00" stroke="#2a2a2a" stroke-width="1.1" fill="none"/>
<path d="M67.60 25.80V209.00H250.50" stroke="#4a4a4a" stroke-width="1.5" fill="none"/>
<text x="33.66" y="196.00" font-size="16.3" textLength="17.24" lengthAdjust="spacingAndGlyphs">10</text>
<text x="52.19" y="191.60" font-size="11.8" textLength="4.91" lengthAdjust="spacingAndGlyphs">1</text>
<text x="74.22" y="228.10" font-size="14.2" textLength="16.35" lengthAdjust="spacingAndGlyphs">10</text>
<text x="91.20" y="224.20" font-size="10.0" textLength="4.18" lengthAdjust="spacingAndGlyphs">1</text>
<text x="33.66" y="159.20" font-size="16.3" textLength="17.24" lengthAdjust="spacingAndGlyphs">10</text>
<text x="51.23" y="154.80" font-size="11.8" textLength="7.50" lengthAdjust="spacingAndGlyphs">2</text>
<text x="110.97" y="228.10" font-size="14.2" textLength="16.35" lengthAdjust="spacingAndGlyphs">10</text>
<text x="127.38" y="224.20" font-size="10.0" textLength="6.37" lengthAdjust="spacingAndGlyphs">2</text>
<text x="33.66" y="122.40" font-size="16.3" textLength="17.24" lengthAdjust="spacingAndGlyphs">10</text>
<text x="51.39" y="118.00" font-size="11.8" textLength="7.10" lengthAdjust="spacingAndGlyphs">3</text>
<text x="147.72" y="228.10" font-size="14.2" textLength="16.35" lengthAdjust="spacingAndGlyphs">10</text>
<text x="164.27" y="224.20" font-size="10.0" textLength="6.03" lengthAdjust="spacingAndGlyphs">3</text>
<text x="33.66" y="85.60" font-size="16.3" textLength="17.24" lengthAdjust="spacingAndGlyphs">10</text>
<text x="51.64" y="81.20" font-size="11.8" textLength="7.20" lengthAdjust="spacingAndGlyphs">4</text>
<text x="184.47" y="228.10" font-size="14.2" textLength="16.35" lengthAdjust="spacingAndGlyphs">10</text>
<text x="201.23" y="224.20" font-size="10.0" textLength="6.12" lengthAdjust="spacingAndGlyphs">4</text>
<text x="33.66" y="48.80" font-size="16.3" textLength="17.24" lengthAdjust="spacingAndGlyphs">10</text>
<text x="51.37" y="44.40" font-size="11.8" textLength="7.30" lengthAdjust="spacingAndGlyphs">5</text>
<text x="221.22" y="228.10" font-size="14.2" textLength="16.35" lengthAdjust="spacingAndGlyphs">10</text>
<text x="237.75" y="224.20" font-size="10.0" textLength="6.20" lengthAdjust="spacingAndGlyphs">5</text>
<line x1="67.60" y1="63.30" x2="250.50" y2="63.30" stroke="#151515" stroke-width="1.3"/>
<line x1="176.60" y1="25.80" x2="176.60" y2="209.00" stroke="#151515" stroke-width="1.3"/>
<text x="70.87" y="45.00" font-size="14.0" font-weight="bold" textLength="24.96" lengthAdjust="spacingAndGlyphs" style="stroke-width:0.1px">4.65</text>
<text x="179.21" y="45.00" font-size="14.0" font-weight="bold" textLength="45.00" lengthAdjust="spacingAndGlyphs" style="stroke-width:0.1px">5.46E-3</text>
<text x="70.63" y="197.40" font-size="14.0" font-weight="bold" textLength="24.09" lengthAdjust="spacingAndGlyphs" style="stroke-width:0.1px">95.1</text>
<text x="209.49" y="197.40" font-size="14.0" font-weight="bold" textLength="24.77" lengthAdjust="spacingAndGlyphs" style="stroke-width:0.1px">0.23</text>
<path d="M285.60 207.64h-2.7M289.08 209.00v2.3M285.60 203.04h-2.7M292.66 209.00v2.3M285.60 199.48h-2.7M295.59 209.00v2.3M285.60 196.56h-2.7M298.07 209.00v2.3M285.60 194.10h-2.7M300.21 209.00v2.3M285.60 191.97h-2.7M302.11 209.00v2.3M285.60 190.08h-2.7M314.94 209.00v2.3M285.60 177.32h-2.7M321.45 209.00v2.3M285.60 170.84h-2.7M326.08 209.00v2.3M285.60 166.24h-2.7M329.66 209.00v2.3M285.60 162.68h-2.7M332.59 209.00v2.3M285.60 159.76h-2.7M335.07 209.00v2.3M285.60 157.30h-2.7M337.21 209.00v2.3M285.60 155.17h-2.7M339.11 209.00v2.3M285.60 153.28h-2.7M351.94 209.00v2.3M285.60 140.52h-2.7M358.45 209.00v2.3M285.60 134.04h-2.7M363.08 209.00v2.3M285.60 129.44h-2.7M366.66 209.00v2.3M285.60 125.88h-2.7M369.59 209.00v2.3M285.60 122.96h-2.7M372.07 209.00v2.3M285.60 120.50h-2.7M374.21 209.00v2.3M285.60 118.37h-2.7M376.11 209.00v2.3M285.60 116.48h-2.7M388.94 209.00v2.3M285.60 103.72h-2.7M395.45 209.00v2.3M285.60 97.24h-2.7M400.08 209.00v2.3M285.60 92.64h-2.7M403.66 209.00v2.3M285.60 89.08h-2.7M406.59 209.00v2.3M285.60 86.16h-2.7M409.07 209.00v2.3M285.60 83.70h-2.7M411.21 209.00v2.3M285.60 81.57h-2.7M413.11 209.00v2.3M285.60 79.68h-2.7M425.94 209.00v2.3M285.60 66.92h-2.7M432.45 209.00v2.3M285.60 60.44h-2.7M437.08 209.00v2.3M285.60 55.84h-2.7M440.66 209.00v2.3M285.60 52.28h-2.7M443.59 209.00v2.3M285.60 49.36h-2.7M446.07 209.00v2.3M285.60 46.90h-2.7M448.21 209.00v2.3M285.60 44.77h-2.7M450.11 209.00v2.3M285.60 42.88h-2.7M462.94 209.00v2.3M285.60 30.12h-2.7" stroke="#3a3a3a" stroke-width="1.15" fill="none"/>
<path d="M303.80 209.00v4.6M285.60 188.40h-5.7M340.80 209.00v4.6M285.60 151.60h-5.7M377.80 209.00v4.6M285.60 114.80h-5.7M414.80 209.00v4.6M285.60 78.00h-5.7M451.80 209.00v4.6M285.60 41.20h-5.7" stroke="#1a1a1a" stroke-width="1.9" fill="none"/>
<path d="M285.60 25.80H468.30V209.00" stroke="#2a2a2a" stroke-width="1.1" fill="none"/>
<path d="M285.60 25.80V209.00H468.30" stroke="#4a4a4a" stroke-width="1.5" fill="none"/>
<text x="254.06" y="196.00" font-size="16.3" textLength="17.24" lengthAdjust="spacingAndGlyphs">10</text>
<text x="272.49" y="191.20" font-size="11.8" textLength="4.91" lengthAdjust="spacingAndGlyphs">1</text>
<text x="291.82" y="228.10" font-size="14.2" textLength="16.35" lengthAdjust="spacingAndGlyphs">10</text>
<text x="308.80" y="224.20" font-size="10.0" textLength="4.18" lengthAdjust="spacingAndGlyphs">1</text>
<text x="254.06" y="159.20" font-size="16.3" textLength="17.24" lengthAdjust="spacingAndGlyphs">10</text>
<text x="271.53" y="154.40" font-size="11.8" textLength="7.50" lengthAdjust="spacingAndGlyphs">2</text>
<text x="328.82" y="228.10" font-size="14.2" textLength="16.35" lengthAdjust="spacingAndGlyphs">10</text>
<text x="345.23" y="224.20" font-size="10.0" textLength="6.37" lengthAdjust="spacingAndGlyphs">2</text>
<text x="254.06" y="122.40" font-size="16.3" textLength="17.24" lengthAdjust="spacingAndGlyphs">10</text>
<text x="271.69" y="117.60" font-size="11.8" textLength="7.10" lengthAdjust="spacingAndGlyphs">3</text>
<text x="365.82" y="228.10" font-size="14.2" textLength="16.35" lengthAdjust="spacingAndGlyphs">10</text>
<text x="382.37" y="224.20" font-size="10.0" textLength="6.03" lengthAdjust="spacingAndGlyphs">3</text>
<text x="254.06" y="85.60" font-size="16.3" textLength="17.24" lengthAdjust="spacingAndGlyphs">10</text>
<text x="271.94" y="80.80" font-size="11.8" textLength="7.20" lengthAdjust="spacingAndGlyphs">4</text>
<text x="402.82" y="228.10" font-size="14.2" textLength="16.35" lengthAdjust="spacingAndGlyphs">10</text>
<text x="419.58" y="224.20" font-size="10.0" textLength="6.12" lengthAdjust="spacingAndGlyphs">4</text>
<text x="254.06" y="48.80" font-size="16.3" textLength="17.24" lengthAdjust="spacingAndGlyphs">10</text>
<text x="271.68" y="44.00" font-size="11.8" textLength="7.30" lengthAdjust="spacingAndGlyphs">5</text>
<text x="439.82" y="228.10" font-size="14.2" textLength="16.35" lengthAdjust="spacingAndGlyphs">10</text>
<text x="456.35" y="224.20" font-size="10.0" textLength="6.20" lengthAdjust="spacingAndGlyphs">5</text>
<line x1="285.60" y1="63.30" x2="468.30" y2="63.30" stroke="#151515" stroke-width="1.3"/>
<line x1="393.80" y1="25.80" x2="393.80" y2="209.00" stroke="#151515" stroke-width="1.3"/>
<text x="288.43" y="45.00" font-size="14.0" font-weight="bold" textLength="24.83" lengthAdjust="spacingAndGlyphs" style="stroke-width:0.1px">1.39</text>
<text x="427.65" y="45.00" font-size="14.0" font-weight="bold" textLength="24.61" lengthAdjust="spacingAndGlyphs" style="stroke-width:0.1px">3.60</text>
<text x="288.44" y="197.20" font-size="14.0" font-weight="bold" textLength="24.82" lengthAdjust="spacingAndGlyphs" style="stroke-width:0.1px">34.0</text>
<text x="427.40" y="197.20" font-size="14.0" font-weight="bold" textLength="24.53" lengthAdjust="spacingAndGlyphs" style="stroke-width:0.1px">61.1</text>
<text x="141.06" y="14.90" font-size="20.5" textLength="33.02" lengthAdjust="spacingAndGlyphs">IgG</text>
<text x="342.98" y="15.00" font-size="20.5" textLength="66.93" lengthAdjust="spacingAndGlyphs">CD28H</text>
<text x="27.90" y="148.60" font-size="19.8" textLength="51.13" lengthAdjust="spacingAndGlyphs" transform="rotate(-90 27.90 148.60)">CD56</text>
<text x="2.23" y="20.20" font-size="25" font-weight="bold" textLength="18.54" lengthAdjust="spacingAndGlyphs">A</text>
</g>
<g id="panelB">
<text x="0.18" y="252.20" font-size="24.5" font-weight="bold" textLength="20.84" lengthAdjust="spacingAndGlyphs">B</text>
<path d="M59.3 261.3V453.5H184.5" stroke="#111" stroke-width="2.6" fill="none"/>
<line x1="51.30" y1="262.50" x2="59.30" y2="262.50" stroke="#111" stroke-width="2.2"/>
<text x="29.96" y="268.50" font-size="16.8" textLength="20.64" lengthAdjust="spacingAndGlyphs">80</text>
<line x1="51.30" y1="310.80" x2="59.30" y2="310.80" stroke="#111" stroke-width="2.2"/>
<text x="30.50" y="316.80" font-size="16.8" textLength="20.08" lengthAdjust="spacingAndGlyphs">60</text>
<line x1="51.30" y1="358.40" x2="59.30" y2="358.40" stroke="#111" stroke-width="2.2"/>
<text x="30.64" y="364.40" font-size="16.8" textLength="19.94" lengthAdjust="spacingAndGlyphs">40</text>
<line x1="51.30" y1="406.10" x2="59.30" y2="406.10" stroke="#111" stroke-width="2.2"/>
<text x="30.50" y="412.10" font-size="16.8" textLength="20.08" lengthAdjust="spacingAndGlyphs">20</text>
<line x1="51.30" y1="453.50" x2="59.30" y2="453.50" stroke="#111" stroke-width="2.2"/>
<text x="40.57" y="459.50" font-size="16.8" textLength="10.08" lengthAdjust="spacingAndGlyphs">0</text>
<line x1="94.50" y1="453.50" x2="94.50" y2="460.60" stroke="#111" stroke-width="2.0"/>
<line x1="148.90" y1="453.50" x2="148.90" y2="460.60" stroke="#111" stroke-width="2.0"/>
<text x="22.00" y="430.82" font-size="20.0" textLength="145.54" lengthAdjust="spacingAndGlyphs" transform="rotate(-90 22.00 430.82)">CD28H<tspan font-size="12.4" dy="-7.2">+</tspan><tspan dy="7.2"> NK (%)</tspan></text>
<line x1="77.00" y1="276.80" x2="112.00" y2="276.80" stroke="#111" stroke-width="1.8"/>
<line x1="94.50" y1="272.30" x2="94.50" y2="281.30" stroke="#111" stroke-width="1.8"/>
<line x1="90.10" y1="272.30" x2="98.90" y2="272.30" stroke="#111" stroke-width="1.8"/>
<line x1="90.10" y1="281.30" x2="98.90" y2="281.30" stroke="#111" stroke-width="1.8"/>
<circle cx="83.00" cy="275.80" r="3.45" fill="#fff" stroke="#111" stroke-width="1.85"/>
<circle cx="94.50" cy="270.00" r="3.45" fill="#fff" stroke="#111" stroke-width="1.85"/>
<circle cx="94.50" cy="286.30" r="3.45" fill="#fff" stroke="#111" stroke-width="1.85"/>
<circle cx="106.20" cy="275.80" r="3.45" fill="#fff" stroke="#111" stroke-width="1.85"/>
<line x1="131.30" y1="304.50" x2="167.00" y2="304.50" stroke="#111" stroke-width="1.8"/>
<line x1="148.80" y1="298.30" x2="148.80" y2="310.70" stroke="#111" stroke-width="1.8"/>
<line x1="143.80" y1="298.30" x2="153.80" y2="298.30" stroke="#111" stroke-width="1.8"/>
<line x1="143.80" y1="310.70" x2="153.80" y2="310.70" stroke="#111" stroke-width="1.8"/>
<circle cx="137.50" cy="297.00" r="3.8" fill="#111"/>
<circle cx="160.00" cy="295.50" r="3.8" fill="#111"/>
<circle cx="148.80" cy="304.30" r="3.8" fill="#111"/>
<circle cx="148.80" cy="323.00" r="3.8" fill="#111"/>
<path d="M94.50 262.70V257.20H149.50V262.70" stroke="#111" stroke-width="1.85" fill="none"/>
<text x="124.50" y="259.30" font-size="16" text-anchor="middle" style="stroke-width:0.1px">*</text>
<text x="0.97" y="479.70" font-size="19.7" textLength="58.47" lengthAdjust="spacingAndGlyphs">CD56:</text>
<text x="68.46" y="479.70" font-size="19.7" textLength="51.77" lengthAdjust="spacingAndGlyphs">bright</text>
<text x="137.19" y="479.70" font-size="19.7" textLength="32.65" lengthAdjust="spacingAndGlyphs">dim</text>
</g>
<g id="panelC">
<text x="251.52" y="253.30" font-size="24.5" font-weight="bold" textLength="19.55" lengthAdjust="spacingAndGlyphs">C</text>
<path d="M329.4 260.9V453.3H520" stroke="#111" stroke-width="2.7" fill="none"/>
<line x1="320.80" y1="262.30" x2="329.40" y2="262.30" stroke="#111" stroke-width="2.3"/>
<text x="297.05" y="267.50" font-size="15" font-weight="bold" textLength="23.70" lengthAdjust="spacingAndGlyphs" style="stroke-width:0.15px">100</text>
<line x1="320.80" y1="300.40" x2="329.40" y2="300.40" stroke="#111" stroke-width="2.3"/>
<text x="305.18" y="305.60" font-size="15" font-weight="bold" textLength="15.46" lengthAdjust="spacingAndGlyphs" style="stroke-width:0.15px">80</text>
<line x1="320.80" y1="338.50" x2="329.40" y2="338.50" stroke="#111" stroke-width="2.3"/>
<text x="305.04" y="343.70" font-size="15" font-weight="bold" textLength="15.61" lengthAdjust="spacingAndGlyphs" style="stroke-width:0.15px">60</text>
<line x1="320.80" y1="376.60" x2="329.40" y2="376.60" stroke="#111" stroke-width="2.3"/>
<text x="305.46" y="381.80" font-size="15" font-weight="bold" textLength="15.18" lengthAdjust="spacingAndGlyphs" style="stroke-width:0.15px">40</text>
<line x1="320.80" y1="414.90" x2="329.40" y2="414.90" stroke="#111" stroke-width="2.3"/>
<text x="305.18" y="420.10" font-size="15" font-weight="bold" textLength="15.46" lengthAdjust="spacingAndGlyphs" style="stroke-width:0.15px">20</text>
<line x1="320.80" y1="453.30" x2="329.40" y2="453.30" stroke="#111" stroke-width="2.3"/>
<text x="312.62" y="458.50" font-size="15" font-weight="bold" textLength="8.11" lengthAdjust="spacingAndGlyphs" style="stroke-width:0.15px">0</text>
<line x1="357.70" y1="453.30" x2="357.70" y2="460.70" stroke="#111" stroke-width="2.0"/>
<line x1="401.80" y1="453.30" x2="401.80" y2="460.70" stroke="#111" stroke-width="2.0"/>
<line x1="446.00" y1="453.30" x2="446.00" y2="460.70" stroke="#111" stroke-width="2.0"/>
<line x1="489.80" y1="453.30" x2="489.80" y2="460.70" stroke="#111" stroke-width="2.0"/>
<text x="292.40" y="425.92" font-size="20.0" textLength="145.03" lengthAdjust="spacingAndGlyphs" transform="rotate(-90 292.40 425.92)">CD28H<tspan font-size="12.4" dy="-7.2">+</tspan><tspan dy="7.2"> NK (%)</tspan></text>
<path d="M402.50 265.40V260.00H490.60V265.40" stroke="#111" stroke-width="1.85" fill="none"/>
<path d="M357.60 283.40V278.40H445.50V283.40" stroke="#111" stroke-width="1.85" fill="none"/>
<path d="M357.60 298.80V293.80H402.50V298.80" stroke="#111" stroke-width="1.85" fill="none"/>
<path d="M445.50 298.80V293.80H490.60V298.80" stroke="#111" stroke-width="1.85" fill="none"/>
<text x="431.66" y="257.90" font-size="19.5" textLength="33.12" lengthAdjust="spacingAndGlyphs" style="stroke-width:0.3px">n.s.</text>
<text x="386.36" y="276.90" font-size="19.5" textLength="33.12" lengthAdjust="spacingAndGlyphs" style="stroke-width:0.3px">n.s.</text>
<text x="365.36" y="292.30" font-size="19.5" textLength="33.12" lengthAdjust="spacingAndGlyphs" style="stroke-width:0.3px">n.s.</text>
<text x="452.36" y="292.30" font-size="19.5" textLength="33.12" lengthAdjust="spacingAndGlyphs" style="stroke-width:0.3px">n.s.</text>
<line x1="344.80" y1="323.70" x2="371.70" y2="323.70" stroke="#111" stroke-width="1.8"/>
<line x1="357.70" y1="320.30" x2="357.70" y2="327.20" stroke="#111" stroke-width="1.8"/>
<line x1="353.30" y1="320.30" x2="362.10" y2="320.30" stroke="#111" stroke-width="1.8"/>
<line x1="353.30" y1="327.20" x2="362.10" y2="327.20" stroke="#111" stroke-width="1.8"/>
<circle cx="349.60" cy="322.00" r="3.45" fill="#fff" stroke="#111" stroke-width="1.85"/>
<circle cx="357.70" cy="315.60" r="3.45" fill="#fff" stroke="#111" stroke-width="1.85"/>
<circle cx="357.70" cy="331.00" r="3.45" fill="#fff" stroke="#111" stroke-width="1.85"/>
<circle cx="366.30" cy="328.30" r="3.45" fill="#fff" stroke="#111" stroke-width="1.85"/>
<line x1="387.70" y1="332.00" x2="416.00" y2="332.00" stroke="#111" stroke-width="1.8"/>
<line x1="402.00" y1="327.60" x2="402.00" y2="336.60" stroke="#111" stroke-width="1.8"/>
<line x1="397.50" y1="327.60" x2="406.50" y2="327.60" stroke="#111" stroke-width="1.8"/>
<line x1="397.50" y1="336.60" x2="406.50" y2="336.60" stroke="#111" stroke-width="1.8"/>
<circle cx="392.60" cy="326.30" r="3.6" fill="#111"/>
<circle cx="410.80" cy="323.30" r="3.6" fill="#111"/>
<circle cx="402.00" cy="332.00" r="3.6" fill="#111"/>
<circle cx="402.00" cy="344.60" r="3.6" fill="#111"/>
<line x1="431.20" y1="328.00" x2="460.20" y2="328.00" stroke="#111" stroke-width="1.8"/>
<line x1="446.00" y1="326.60" x2="446.00" y2="329.60" stroke="#111" stroke-width="1.8"/>
<line x1="441.60" y1="326.60" x2="450.40" y2="326.60" stroke="#111" stroke-width="1.8"/>
<line x1="441.60" y1="329.60" x2="450.40" y2="329.60" stroke="#111" stroke-width="1.8"/>
<path d="M442.10 326.72L445.80 333.56H438.40Z" stroke="#111" stroke-width="1.5" fill="#fff"/>
<path d="M448.80 326.12L452.50 332.96H445.10Z" stroke="#111" stroke-width="1.5" fill="#fff"/>
<path d="M451.70 319.62L455.40 326.46H448.00Z" stroke="#111" stroke-width="1.5" fill="#fff"/>
<line x1="489.70" y1="329.00" x2="489.70" y2="342.30" stroke="#111" stroke-width="1.6"/>
<path d="M489.70 312.30L493.70 316.30L489.70 320.30L485.70 316.30Z" stroke="#111" stroke-width="1.5" fill="#fff"/>
<path d="M489.70 325.00L493.70 329.00L489.70 333.00L485.70 329.00Z" stroke="#111" stroke-width="1.5" fill="#fff"/>
<path d="M489.70 338.30L493.70 342.30L489.70 346.30L485.70 342.30Z" stroke="#111" stroke-width="1.5" fill="#fff"/>
<path d="M489.70 351.80L493.70 355.80L489.70 359.80L485.70 355.80Z" stroke="#111" stroke-width="1.5" fill="#fff"/>
<text x="276.49" y="481.40" font-size="19.5" textLength="57.32" lengthAdjust="spacingAndGlyphs">CD56:</text>
<text x="338.58" y="481.40" font-size="19.5" textLength="33.08" lengthAdjust="spacingAndGlyphs">dim</text>
<text x="387.25" y="481.40" font-size="19.5" textLength="34.25" lengthAdjust="spacingAndGlyphs">dim</text>
<text x="430.38" y="481.40" font-size="19.5" textLength="32.97" lengthAdjust="spacingAndGlyphs">dim</text>
<text x="477.45" y="481.40" font-size="19.5" textLength="34.36" lengthAdjust="spacingAndGlyphs">dim</text>
<text x="258.89" y="506.70" font-size="19.5" textLength="68.21" lengthAdjust="spacingAndGlyphs">NKG2A</text>
<text x="293.54" y="527.40" font-size="19.5" textLength="34.54" lengthAdjust="spacingAndGlyphs">KIR</text>
<line x1="352.70" y1="498.80" x2="362.50" y2="498.80" stroke="#111" stroke-width="1.6"/>
<line x1="357.60" y1="493.90" x2="357.60" y2="503.70" stroke="#111" stroke-width="1.6"/>
<line x1="396.60" y1="498.90" x2="406.40" y2="498.90" stroke="#111" stroke-width="1.6"/>
<line x1="401.50" y1="494.00" x2="401.50" y2="503.80" stroke="#111" stroke-width="1.6"/>
<line x1="439.50" y1="499.30" x2="448.10" y2="499.30" stroke="#111" stroke-width="2.1"/>
<line x1="484.20" y1="499.30" x2="492.80" y2="499.30" stroke="#111" stroke-width="2.1"/>
<line x1="352.70" y1="520.20" x2="362.50" y2="520.20" stroke="#111" stroke-width="1.6"/>
<line x1="357.60" y1="515.30" x2="357.60" y2="525.10" stroke="#111" stroke-width="1.6"/>
<line x1="397.20" y1="521.20" x2="405.80" y2="521.20" stroke="#111" stroke-width="2.1"/>
<line x1="440.50" y1="520.50" x2="450.30" y2="520.50" stroke="#111" stroke-width="1.6"/>
<line x1="445.40" y1="515.60" x2="445.40" y2="525.40" stroke="#111" stroke-width="1.6"/>
<line x1="484.20" y1="521.20" x2="492.80" y2="521.20" stroke="#111" stroke-width="2.1"/>
</g>
<g id="panelD">
<g id="blobD"><path d="M127.1 648.2L125.1 648.0L124.6 647.7L123.6 647.5L120.9 646.2L120.6 645.7L120.1 645.5L119.8 645.0L119.2 644.8L118.9 644.3L117.4 643.3L116.8 642.8L116.7 642.2L116.2 641.9L116.2 641.4L115.8 640.9L115.8 640.2L115.3 638.8L115.2 637.4L114.8 636.9L114.8 636.4L113.8 634.6L113.8 633.9L113.7 633.8L113.7 632.2L114.0 631.8L114.3 629.4L114.2 629.2L114.2 628.8L113.7 627.8L113.2 627.2L113.2 626.8L112.8 626.2L112.5 623.2L111.0 620.8L111.0 620.2L110.8 620.1L110.8 616.9L109.2 613.6L109.0 612.4L108.7 611.6L108.7 610.9L108.5 610.8L108.5 609.6L109.8 606.8L110.7 605.6L110.7 605.1L111.5 603.6L111.5 602.9L112.2 601.8L112.2 601.2L112.5 600.6L112.7 597.4L112.8 597.2L112.7 595.4L112.3 594.9L112.3 594.4L111.5 592.9L111.5 592.4L111.0 591.6L111.0 591.1L110.3 589.6L110.2 588.4L109.8 587.6L110.2 583.9L111.2 581.9L112.0 580.9L113.6 579.3L115.6 578.2L116.1 578.2L116.2 578.0L117.8 578.0L117.9 578.2L125.2 578.2L125.4 578.0L127.1 577.8L127.9 577.5L134.6 577.3L134.8 577.5L135.4 577.5L136.2 578.0L136.8 578.0L137.6 578.5L138.1 578.5L138.6 578.8L139.1 578.8L140.2 579.5L140.8 579.5L142.3 580.9L142.7 581.4L142.7 581.9L143.2 583.1L143.2 583.8L143.3 583.9L143.2 589.8L143.3 589.9L143.5 591.2L144.3 592.6L146.4 594.3L147.8 595.0L149.6 595.5L150.2 595.5L151.1 595.8L152.1 595.8L152.2 596.0L154.1 596.0L154.2 595.8L155.6 595.7L156.1 595.3L157.6 595.2L157.8 595.3L158.8 595.3L159.6 595.7L160.6 595.7L160.8 595.8L166.1 596.0L167.2 595.5L167.9 595.5L168.8 595.2L171.2 595.5L171.4 595.7L171.9 595.7L172.1 595.5L177.8 595.5L178.9 595.2L181.8 595.2L181.9 595.0L187.6 595.2L188.4 594.8L190.4 594.7L190.6 594.5L192.8 594.5L194.6 595.0L195.2 595.0L195.8 595.3L196.6 595.3L196.8 595.5L198.9 595.3L200.2 594.8L201.8 594.8L203.2 595.3L204.6 595.3L204.8 595.5L207.1 595.3L207.2 595.2L209.8 595.3L209.9 595.5L214.2 595.3L216.1 596.2L218.6 596.5L220.2 597.3L222.1 599.0L222.6 599.2L224.0 600.6L225.7 603.6L225.8 605.6L226.3 607.1L226.3 608.9L226.2 609.1L226.2 609.8L225.3 611.6L225.2 613.2L224.7 614.1L224.7 614.6L224.2 615.1L224.0 615.6L222.6 617.0L220.4 618.2L219.4 619.0L218.2 619.5L216.4 621.2L215.4 621.7L214.2 621.8L212.6 622.7L210.6 624.5L208.9 625.5L208.4 625.5L207.9 625.8L207.4 625.8L206.6 626.2L205.6 626.2L205.4 626.3L204.6 626.3L204.4 626.5L203.2 626.7L201.8 627.3L199.8 627.5L199.6 627.7L198.2 627.7L193.9 628.8L188.2 628.8L188.1 628.7L183.8 628.7L183.6 628.8L181.4 628.8L181.2 629.0L180.2 629.0L180.1 628.8L176.8 628.8L176.2 629.2L175.6 629.2L174.8 629.5L172.9 629.5L171.2 629.0L168.8 629.0L168.6 629.2L166.1 629.3L165.9 629.2L164.6 629.2L164.4 629.0L163.4 629.0L163.2 628.8L162.2 628.8L159.9 629.5L157.2 629.7L157.1 629.8L155.1 630.0L154.9 630.2L150.1 630.3L149.2 630.7L148.6 630.7L145.2 632.3L144.8 632.3L144.2 632.7L143.8 632.7L142.2 633.2L141.2 634.1L140.3 635.8L140.3 636.4L138.8 639.4L138.7 640.4L138.3 640.9L138.3 641.4L138.0 641.9L138.0 642.4L137.2 643.8L135.2 646.0L133.2 647.0L132.8 647.0L132.6 647.2L130.6 647.2Z" fill="#0c0c0c"/>
<path d="M127.1 645.1L126.2 645.2L124.9 644.8L122.9 643.8L119.9 641.5L119.2 640.8L118.8 640.0L117.9 636.6L116.7 633.4L117.3 629.9L117.1 628.6L116.8 627.4L115.7 625.2L115.3 622.2L113.8 619.6L113.8 616.6L112.2 612.6L111.8 610.8L112.2 609.2L113.4 607.1L115.1 602.6L115.5 601.1L115.8 597.6L115.6 594.8L114.6 592.1L113.0 587.2L113.2 584.9L114.0 583.2L115.4 581.8L116.6 581.1L124.9 581.2L128.2 580.5L134.1 580.3L139.2 582.2L139.9 582.8L140.3 584.1L140.2 589.4L140.5 591.2L140.9 592.6L142.0 594.4L143.6 595.8L145.4 597.1L147.4 597.9L150.4 598.7L152.4 599.0L153.8 599.0L157.4 598.2L160.9 598.8L165.8 599.0L169.1 598.2L171.6 598.6L172.4 598.5L177.4 598.5L179.1 598.2L182.2 598.0L187.2 598.2L191.1 597.5L192.6 597.5L197.1 598.5L200.9 597.8L204.9 598.5L207.6 598.2L210.2 598.5L213.6 598.3L215.2 598.9L217.6 599.4L218.6 599.9L221.8 602.8L222.8 604.6L223.3 607.4L223.3 608.6L222.6 610.8L222.3 612.2L221.4 614.0L219.9 615.1L216.4 617.2L214.8 618.6L212.9 619.2L211.2 620.0L207.9 622.6L206.4 623.1L202.4 623.9L200.6 624.5L198.4 624.7L193.8 625.8L184.1 625.7L180.8 626.0L177.1 625.8L173.9 626.5L170.9 626.0L169.1 626.0L166.4 626.3L162.6 625.8L159.6 626.5L154.8 627.2L150.2 627.3L147.8 627.9L144.2 629.4L140.9 630.6L139.0 632.1L137.7 634.4L137.4 635.4L136.2 638.1L135.1 641.4L133.4 643.5L132.2 644.1L130.8 644.2Z" fill="rgb(225,225,225)"/>
<path d="M126.9 644.4L125.1 644.1L123.4 643.2L120.2 640.9L119.4 639.9L118.5 636.4L117.2 633.2L117.7 629.9L117.5 628.4L117.2 627.2L116.1 625.1L115.6 622.1L114.2 619.4L114.2 616.4L112.7 612.4L112.3 610.8L112.7 609.2L113.8 607.2L115.5 602.8L115.9 601.2L116.3 597.6L116.0 594.8L114.4 590.9L113.3 587.2L113.4 585.0L114.2 583.3L115.5 582.1L116.6 581.3L125.2 581.2L128.2 580.6L134.0 580.4L139.2 582.4L139.8 582.8L140.2 584.1L140.1 589.6L140.5 592.2L141.1 593.6L142.2 595.2L144.9 597.1L146.4 597.9L148.8 598.5L152.6 599.2L153.9 599.2L157.4 598.4L160.9 599.0L165.6 599.2L169.1 598.4L171.6 598.8L177.4 598.7L179.2 598.4L182.4 598.2L187.2 598.3L190.8 597.7L191.9 597.7L197.1 598.7L200.9 598.0L204.9 598.7L207.8 598.4L210.2 598.7L213.4 598.6L215.2 599.2L217.4 599.6L218.4 600.1L221.5 602.8L222.4 604.4L223.1 607.6L223.1 608.4L222.0 612.2L221.2 613.7L219.8 614.9L216.4 617.0L214.7 618.4L211.2 619.9L207.8 622.5L200.6 624.3L198.2 624.5L193.6 625.6L184.4 625.5L180.8 625.8L177.1 625.6L173.9 626.3L170.9 625.8L169.1 625.8L166.4 626.1L162.6 625.6L159.6 626.3L154.6 626.9L150.2 627.1L147.6 627.7L144.1 629.2L142.1 629.7L140.9 630.1L138.9 631.8L137.5 634.1L134.6 641.2L133.1 643.0L131.9 643.5L130.4 643.6Z" fill="rgb(212,212,212)"/>
<path d="M127.4 643.6L126.2 643.7L123.9 642.7L120.7 640.4L120.0 639.6L118.9 636.1L117.7 633.2L118.0 630.1L117.9 629.2L117.4 627.2L116.4 625.1L115.8 622.1L114.5 619.4L114.3 616.2L112.8 611.4L112.7 610.6L112.9 609.6L114.0 607.4L116.1 601.4L116.8 596.4L116.5 594.8L115.1 592.2L113.6 588.1L113.4 586.9L113.5 585.1L114.2 583.5L115.6 582.1L116.6 581.4L125.2 581.2L128.4 580.6L133.9 580.5L139.2 582.4L139.8 582.9L140.2 584.2L140.0 589.4L140.4 591.9L141.6 594.9L142.4 595.9L143.2 596.0L145.1 597.3L146.6 598.0L148.8 598.6L152.6 599.2L154.1 599.2L157.4 598.5L160.9 599.1L165.6 599.2L169.1 598.5L171.6 598.9L177.4 598.7L179.2 598.4L182.4 598.2L187.4 598.4L189.8 597.9L191.9 597.7L197.1 598.7L200.9 598.1L204.9 598.7L207.8 598.4L210.2 598.8L213.4 598.7L215.4 599.3L217.5 599.8L218.5 600.2L221.5 602.9L222.4 604.7L222.9 607.4L223.0 608.4L221.9 612.2L221.1 613.8L219.9 614.8L216.2 617.0L214.6 618.4L212.8 619.0L211.2 619.8L207.7 622.4L200.6 624.2L198.2 624.5L193.6 625.5L184.4 625.4L180.8 625.7L177.1 625.6L173.9 626.2L170.9 625.7L166.4 626.0L162.6 625.6L159.4 626.2L154.6 626.8L150.2 627.0L147.8 627.6L143.9 629.2L143.2 629.4L142.6 629.2L141.9 629.4L140.6 630.1L139.2 631.2L138.3 632.2L137.3 634.1L134.2 640.9L132.9 642.4L131.8 643.0L130.4 643.0Z" fill="rgb(199,199,199)"/>
<path d="M127.1 642.9L125.8 642.8L124.2 642.1L121.1 639.8L120.7 639.2L119.5 636.1L118.3 633.2L118.3 629.2L117.7 627.2L116.7 625.1L116.0 621.9L114.8 619.2L114.6 616.2L113.3 612.1L113.1 610.2L114.4 607.6L116.1 602.9L118.2 594.4L118.1 593.8L117.7 592.9L114.6 589.4L113.8 587.2L113.9 585.1L114.2 584.1L115.2 582.8L116.6 581.6L117.4 581.4L124.9 581.3L128.4 580.6L133.9 580.5L139.1 582.4L139.7 582.9L140.1 584.2L139.9 589.4L140.2 592.4L139.9 593.6L140.1 594.4L141.0 595.6L142.5 596.8L142.8 596.7L143.2 596.3L145.9 597.9L148.8 598.6L152.6 599.3L153.9 599.3L157.4 598.6L160.9 599.1L165.6 599.3L169.1 598.6L171.6 599.0L177.4 598.8L179.2 598.5L182.4 598.3L187.2 598.5L191.9 597.8L197.1 598.8L200.9 598.2L204.9 598.8L207.8 598.5L210.2 598.9L213.4 598.8L215.1 599.4L217.4 599.9L218.2 600.3L221.3 602.9L222.2 604.7L222.8 607.6L222.8 608.4L221.8 612.2L221.1 613.6L219.9 614.6L216.4 616.8L214.6 618.3L212.8 619.0L211.1 619.8L208.9 621.6L207.5 622.4L200.6 624.1L198.2 624.4L193.6 625.4L184.4 625.3L180.8 625.6L177.1 625.5L173.9 626.1L170.9 625.6L166.4 625.9L162.6 625.5L159.6 626.1L154.6 626.8L150.2 626.9L147.6 627.5L143.5 629.2L143.1 629.2L142.6 628.8L142.2 628.9L140.6 629.8L139.2 630.9L137.8 632.8L133.8 640.6L132.4 642.0L131.6 642.3Z" fill="rgb(186,186,186)"/>
<path d="M127.9 642.1L126.4 642.2L124.8 641.6L121.6 639.3L121.2 638.8L118.8 633.1L118.7 629.2L118.0 627.1L117.0 624.9L116.4 621.9L115.1 619.1L114.8 616.1L113.6 611.9L113.5 610.8L113.6 610.1L116.4 603.1L117.6 598.8L118.6 596.5L120.4 593.8L120.0 592.8L116.8 589.4L116.2 588.2L115.9 587.1L115.9 585.6L116.3 584.1L117.3 582.6L118.3 581.8L125.1 581.3L128.4 580.7L133.9 580.6L137.8 581.9L139.2 582.6L139.6 582.9L140.0 584.4L139.9 590.9L139.8 591.3L138.3 592.9L138.1 593.8L139.2 594.9L142.6 597.5L143.4 596.7L144.8 597.6L146.2 598.2L150.1 599.0L152.6 599.4L154.1 599.4L157.2 598.7L160.9 599.2L165.8 599.4L169.1 598.7L171.6 599.0L177.4 598.9L179.3 598.6L182.4 598.4L187.4 598.6L191.6 597.9L197.1 598.9L201.1 598.3L204.9 598.9L207.8 598.6L210.2 599.0L213.2 598.9L217.3 600.1L218.2 600.6L221.0 603.1L221.9 604.8L222.5 608.2L221.6 612.0L220.9 613.4L220.1 614.2L216.4 616.7L214.5 618.2L211.2 619.6L207.7 622.2L200.6 624.0L198.1 624.3L193.4 625.3L184.4 625.2L180.8 625.5L177.1 625.4L173.9 626.0L171.1 625.5L166.4 625.8L162.4 625.4L159.4 626.0L154.6 626.6L152.1 626.6L149.1 627.0L146.9 627.5L143.4 629.1L143.1 628.9L142.8 628.4L142.4 628.3L140.3 629.6L138.2 631.7L135.7 636.2L132.9 640.7L131.6 641.7Z" fill="rgb(172,172,172)"/>
<path d="M127.6 641.4L126.4 641.5L125.2 641.0L122.1 638.8L119.4 633.2L119.0 629.2L118.4 627.1L117.4 624.9L116.6 621.8L115.4 619.1L115.1 616.1L113.9 611.2L114.1 609.9L116.8 603.1L118.3 598.6L119.6 596.4L122.3 594.2L122.8 593.6L122.3 592.8L119.8 590.8L118.6 589.6L117.8 588.4L117.4 587.2L117.4 585.8L117.8 584.2L118.8 582.8L120.1 581.8L125.1 581.4L128.4 580.7L133.9 580.7L138.0 582.1L139.2 582.8L139.6 583.2L139.9 584.4L139.6 590.0L138.8 590.9L136.4 592.8L136.0 593.2L136.0 593.6L136.6 594.2L139.1 595.7L142.6 598.2L143.4 597.2L144.6 597.9L146.2 598.4L152.6 599.5L154.1 599.5L157.2 598.8L160.9 599.3L165.8 599.5L169.1 598.8L171.6 599.2L177.4 599.0L179.2 598.7L182.6 598.6L187.4 598.7L191.6 598.1L196.9 599.0L201.1 598.4L204.9 599.0L207.8 598.8L210.2 599.2L212.9 599.1L217.1 600.4L217.9 600.8L220.6 603.2L221.5 604.9L222.1 608.2L221.2 611.9L220.6 613.2L219.6 614.2L216.1 616.7L214.5 618.1L211.1 619.6L208.8 621.4L207.4 622.2L200.4 623.9L198.1 624.1L193.4 625.1L184.2 625.0L180.8 625.3L176.9 625.2L173.9 625.8L171.1 625.4L166.4 625.6L162.4 625.2L154.4 626.3L150.1 626.5L147.4 627.0L145.9 627.5L143.4 628.8L142.8 627.8L142.4 627.7L140.2 629.2L138.1 631.6L135.4 636.1L132.4 640.4L131.2 641.1Z" fill="rgb(159,159,159)"/>
<path d="M126.9 640.8L126.2 640.7L125.2 640.2L122.6 638.2L119.9 633.1L119.4 629.1L118.7 627.1L117.7 624.8L116.9 621.8L115.7 618.9L115.4 616.1L114.3 611.1L114.5 610.1L118.5 599.4L119.4 597.8L120.9 596.2L124.8 594.2L125.5 593.6L125.0 592.9L122.1 591.2L120.5 590.1L119.4 588.9L118.7 587.6L118.6 585.9L119.0 584.4L120.2 582.8L121.7 581.8L125.1 581.5L128.4 580.8L133.9 580.7L137.1 581.9L138.5 582.8L139.4 583.8L139.8 584.7L139.6 587.6L139.4 588.7L137.9 590.4L133.8 592.9L133.4 593.2L133.4 593.6L134.2 594.2L138.6 596.0L142.6 598.9L143.4 597.8L144.4 598.3L146.2 598.8L152.4 599.7L154.1 599.7L157.4 599.1L160.8 599.5L165.9 599.6L169.1 599.0L171.8 599.3L177.6 599.2L179.4 598.9L182.6 598.8L187.4 598.9L191.6 598.3L196.9 599.1L200.9 598.6L204.9 599.2L207.8 599.0L210.1 599.4L213.2 599.5L217.2 600.9L219.8 603.1L220.5 603.9L221.0 604.9L221.6 608.1L220.8 611.8L220.2 613.0L219.4 613.9L216.1 616.4L214.4 617.9L211.1 619.5L207.4 622.0L200.4 623.7L198.1 623.9L193.2 624.8L187.8 624.7L183.9 624.7L180.8 625.0L176.9 624.9L173.9 625.5L171.1 625.1L166.4 625.3L162.2 624.9L154.4 626.0L149.9 626.2L147.4 626.6L145.8 627.1L143.4 628.4L142.6 627.1L140.1 628.9L138.0 631.2L135.2 635.9L132.0 639.9L130.9 640.5Z" fill="rgb(146,146,146)"/>
<path d="M130.6 592.6L128.4 592.7L125.8 592.0L123.1 590.9L121.1 589.4L120.0 587.9L119.6 586.4L119.9 584.8L121.0 583.2L122.2 582.2L123.3 581.8L128.8 580.9L133.1 580.9L134.1 581.1L136.1 581.9L137.7 583.1L138.8 584.4L139.2 585.8L139.1 587.2L138.4 588.8L137.1 590.1L135.2 591.2L133.1 592.0ZM129.8 639.9L126.6 640.0L125.6 639.6L124.1 638.6L122.9 637.4L120.6 633.1L119.8 629.1L118.0 624.8L117.2 621.6L116.0 618.9L115.6 615.1L114.8 611.8L114.8 610.2L119.1 599.2L120.8 597.2L123.1 595.8L125.4 595.0L128.4 594.4L129.8 594.4L133.2 594.8L136.4 595.7L138.1 596.3L140.8 598.1L142.6 599.7L143.4 598.4L146.4 599.2L152.2 599.9L154.1 599.9L157.4 599.4L160.8 599.7L165.9 599.9L169.1 599.3L171.8 599.6L177.6 599.4L179.4 599.2L182.8 599.0L187.4 599.1L191.8 598.5L196.9 599.3L201.1 598.9L204.9 599.5L207.8 599.4L210.1 599.7L213.1 599.9L217.0 601.4L219.4 603.5L220.4 605.1L221.0 608.1L220.3 611.6L219.8 612.8L214.2 617.7L211.1 619.3L207.4 621.8L200.2 623.4L197.9 623.6L193.2 624.5L187.9 624.4L176.9 624.6L173.9 625.1L171.2 624.8L166.4 624.9L162.2 624.6L154.2 625.6L149.9 625.8L147.2 626.1L145.4 626.7L143.4 627.9L142.6 626.3L139.4 629.2L137.6 631.4L134.9 635.7L132.9 638.0L131.2 639.6Z" fill="rgb(133,133,133)"/>
<path d="M130.6 591.8L128.4 591.8L125.9 591.3L123.8 590.4L122.1 589.3L121.1 588.1L120.6 586.6L120.8 585.1L121.6 583.8L122.8 582.8L124.3 581.9L128.6 581.1L131.2 581.1L133.1 581.4L135.2 582.2L136.8 583.2L137.8 584.4L138.3 585.8L138.2 587.1L137.6 588.5L136.4 589.7L134.8 590.6L132.8 591.4ZM130.1 639.3L128.2 639.3L126.4 639.2L124.2 637.8L123.3 636.8L121.0 632.8L120.2 629.2L118.3 624.6L117.5 621.6L116.3 618.6L115.9 615.1L115.2 611.6L115.2 610.4L117.3 604.6L119.6 599.4L121.2 597.5L123.2 596.4L125.4 595.7L128.2 595.2L130.4 595.2L133.6 595.5L136.4 596.1L138.1 596.8L140.6 598.5L142.6 600.4L143.4 599.0L146.6 599.6L152.2 600.2L154.2 600.1L157.4 599.7L160.6 600.0L165.9 600.1L169.1 599.6L171.6 599.8L177.6 599.7L182.8 599.3L187.6 599.4L191.8 598.8L196.8 599.6L201.1 599.2L204.9 599.7L207.8 599.7L212.9 600.4L216.8 601.9L218.9 603.9L219.8 605.2L220.4 608.1L219.8 611.6L219.3 612.6L214.1 617.5L210.9 619.2L207.2 621.5L200.2 623.1L193.2 624.1L187.9 624.0L176.8 624.3L173.9 624.8L171.2 624.4L166.4 624.5L162.2 624.3L154.2 625.2L149.8 625.3L147.1 625.6L145.2 626.0L143.4 627.2L142.6 625.4L139.6 628.5L134.6 635.6L131.6 638.5L130.8 639.1Z" fill="rgb(119,119,119)"/>
<path d="M130.9 591.1L128.8 591.2L126.6 590.8L124.8 590.2L123.1 589.2L122.0 588.1L121.5 586.8L121.6 585.4L122.2 584.2L123.2 583.2L124.8 582.4L126.6 581.8L128.6 581.5L130.6 581.5L132.6 581.8L134.3 582.4L135.8 583.3L136.8 584.2L137.4 585.4L137.4 586.8L137.0 587.9L136.1 589.0L134.8 589.9L132.9 590.7ZM130.1 638.6L128.4 638.7L126.4 638.4L124.5 637.1L123.4 635.7L121.6 632.6L120.6 629.2L118.6 624.4L117.8 621.6L116.6 618.4L115.6 611.6L115.6 610.4L117.7 604.8L120.0 599.8L121.6 597.9L123.6 596.8L125.8 596.1L129.1 595.7L132.9 595.8L135.2 596.3L137.4 596.9L139.2 598.0L140.4 598.9L142.6 601.2L143.2 599.9L143.6 599.7L146.6 600.1L152.1 600.5L154.2 600.4L157.4 600.0L160.4 600.3L165.9 600.4L169.1 599.9L171.6 600.1L177.8 600.0L182.8 599.6L187.6 599.7L191.9 599.2L196.8 599.8L201.1 599.5L204.9 600.0L207.8 600.1L212.9 600.9L216.4 602.5L218.4 604.5L219.1 605.5L219.6 608.1L219.2 611.2L218.7 612.2L216.8 614.4L213.9 617.2L207.1 621.3L200.2 622.8L193.2 623.7L187.9 623.6L176.8 623.9L173.9 624.3L171.2 624.0L166.2 624.1L162.1 623.9L154.1 624.7L146.9 625.1L144.8 625.4L143.4 626.4L142.6 624.2L139.4 628.1L134.7 634.9L132.6 637.0Z" fill="rgb(106,106,106)"/>
<path d="M130.4 590.6L128.4 590.6L126.6 590.2L124.9 589.6L123.6 588.8L122.7 587.8L122.3 586.6L122.5 585.4L123.2 584.2L124.2 583.3L125.6 582.7L127.2 582.2L129.1 582.0L130.9 582.1L132.7 582.4L134.2 583.1L135.4 583.9L136.3 584.9L136.6 585.9L136.5 587.1L136.0 588.1L135.1 589.0L133.8 589.8L132.1 590.3ZM129.8 637.9L128.8 638.0L126.9 637.8L125.6 637.1L124.0 635.4L122.4 632.9L121.0 629.1L118.9 624.2L118.1 621.4L117.0 618.8L116.7 617.4L115.9 611.1L117.2 607.1L118.9 602.9L120.5 599.9L122.0 598.2L123.9 597.2L126.1 596.5L129.4 596.1L132.9 596.2L135.9 596.8L137.4 597.4L139.1 598.4L140.1 599.2L142.4 601.9L142.8 601.7L143.2 600.6L143.6 600.4L152.1 600.8L157.6 600.4L160.4 600.6L165.9 600.7L169.1 600.3L177.6 600.3L179.8 600.1L187.6 600.0L191.8 599.6L196.8 600.1L201.2 599.9L204.9 600.4L207.8 600.5L212.9 601.5L216.4 603.4L218.3 605.8L218.8 608.1L218.5 611.1L218.1 611.9L216.4 614.1L213.7 616.9L206.9 621.0L199.9 622.4L193.1 623.2L183.8 623.2L176.4 623.4L173.8 623.8L171.4 623.6L162.1 623.4L154.1 624.2L145.8 624.5L144.2 624.7L143.4 625.3L142.6 622.9L134.6 634.6L132.6 636.4Z" fill="rgb(93,93,93)"/>
<path d="M129.6 590.1L127.9 590.0L126.2 589.5L124.9 588.9L123.9 588.1L123.3 587.1L123.2 586.1L123.5 585.1L124.2 584.2L125.2 583.5L126.6 582.9L129.6 582.5L131.2 582.6L132.8 583.0L133.9 583.6L135.0 584.4L135.6 585.2L135.8 586.2L135.6 587.2L134.9 588.2L133.9 589.0L132.6 589.6L131.1 590.0ZM129.4 637.3L128.8 637.4L127.1 637.1L125.9 636.4L124.2 634.7L122.8 632.6L119.3 624.2L118.4 621.4L117.3 618.8L117.0 617.2L116.3 611.1L117.6 607.1L119.1 603.2L120.8 600.4L122.2 598.7L124.2 597.5L126.2 596.9L129.8 596.5L132.8 596.5L135.8 597.1L137.1 597.6L138.8 598.7L139.8 599.6L141.8 602.1L142.4 602.5L142.8 602.3L143.2 601.3L143.6 601.1L152.1 601.2L157.6 600.8L160.2 601.0L166.1 601.0L169.1 600.7L177.8 600.7L179.8 600.5L187.8 600.4L191.8 600.0L196.8 600.4L201.2 600.3L204.9 600.8L207.8 600.9L212.6 602.1L215.9 604.1L217.5 606.1L218.0 607.9L217.8 610.8L216.0 613.8L213.2 616.7L207.9 620.1L205.6 621.0L199.8 622.0L192.9 622.7L183.6 622.7L176.4 623.0L173.8 623.3L171.4 623.1L162.2 623.0L153.9 623.6L145.4 623.7L143.6 623.9L143.2 623.6L142.8 622.0L142.4 621.9L141.7 622.8L137.5 630.1L134.4 634.3L132.4 636.0Z" fill="rgb(80,80,80)"/>
<path d="M130.9 589.4L129.4 589.5L127.9 589.4L126.6 589.0L125.4 588.4L124.6 587.8L124.2 586.9L124.1 585.9L124.4 585.1L125.1 584.4L126.1 583.8L128.5 583.1L131.2 583.2L133.5 584.1L134.3 584.8L134.8 585.6L134.9 586.4L134.7 587.2L134.1 588.0L133.2 588.6ZM129.2 636.6L127.4 636.4L126.2 635.8L124.4 633.9L122.7 631.1L120.0 625.1L117.6 618.6L116.7 611.8L116.7 611.1L117.2 609.2L118.6 605.2L120.5 601.6L121.9 599.7L122.8 598.9L124.2 598.0L125.9 597.4L129.6 596.7L130.6 596.7L132.8 596.8L135.8 597.5L136.9 597.9L138.4 598.9L139.5 599.9L141.4 602.6L142.2 603.1L142.8 602.9L143.4 601.8L146.1 601.7L154.2 601.5L157.6 601.2L165.9 601.4L169.2 601.1L177.9 601.1L179.9 600.9L187.9 600.7L191.8 600.4L196.6 600.8L201.2 600.7L207.8 601.4L212.4 602.8L215.5 604.9L216.7 606.8L217.1 608.2L217.0 610.6L215.6 613.2L213.8 615.6L213.0 616.4L209.1 619.1L206.9 620.2L205.2 620.7L199.6 621.6L192.9 622.2L183.6 622.2L176.2 622.5L173.8 622.8L162.1 622.5L150.8 623.0L143.6 622.8L143.2 622.5L142.8 621.2L142.2 621.1L141.8 621.4L141.1 622.4L139.5 625.9L137.4 629.9L134.2 634.0L132.2 635.6Z" fill="rgb(66,66,66)"/>
<path d="M130.2 588.9L127.8 588.8L125.9 587.9L125.3 587.2L125.0 586.6L125.1 585.8L125.5 585.1L126.9 584.1L129.1 583.6L131.2 583.8L133.1 584.7L133.6 585.2L133.9 585.9L133.9 586.6L133.7 587.2L133.1 587.9L132.2 588.4ZM130.1 635.8L128.6 635.9L127.0 635.4L125.1 633.7L123.6 631.8L121.6 627.8L119.9 623.9L117.9 618.6L117.4 615.4L117.1 611.1L118.2 607.4L119.8 603.7L120.9 601.8L122.6 599.7L124.4 598.5L126.4 597.7L129.8 596.9L132.1 596.8L135.6 597.8L136.8 598.3L138.2 599.2L139.0 600.1L140.9 602.9L141.6 603.5L142.2 603.6L142.8 603.5L143.6 602.6L147.9 602.2L157.4 601.7L166.1 601.8L169.2 601.6L177.9 601.5L179.8 601.3L184.8 601.3L191.9 600.9L196.6 601.2L201.2 601.1L207.6 601.9L211.3 603.1L212.6 603.8L214.1 604.9L215.2 606.1L215.9 607.2L216.1 609.4L216.0 610.4L214.7 613.4L213.4 615.4L210.9 617.5L209.0 618.8L206.8 619.8L205.1 620.3L199.4 621.1L192.9 621.6L183.4 621.6L175.9 621.9L173.8 622.2L162.2 621.9L150.8 622.4L143.6 621.8L143.2 621.5L142.8 620.4L142.1 620.3L141.2 620.9L140.4 622.2L139.0 625.9L137.4 629.4L135.7 631.9L133.9 633.9L132.6 634.9L131.2 635.5Z" fill="rgb(53,53,53)"/>
<path d="M130.2 588.3L128.4 588.2L126.9 587.6L126.2 586.6L126.2 585.9L126.4 585.4L127.6 584.6L129.1 584.3L130.8 584.4L132.1 585.0L132.8 585.9L132.7 586.9L131.8 587.8ZM129.8 635.3L127.4 634.8L125.5 633.2L123.4 630.5L121.9 627.6L120.6 624.9L118.2 618.4L117.7 615.4L117.5 611.9L117.9 609.4L119.3 605.6L121.2 602.1L122.7 600.2L123.6 599.5L126.4 597.9L128.1 597.3L129.9 597.0L132.6 597.0L136.2 598.3L138.4 600.1L140.6 603.4L141.2 604.0L142.1 604.2L142.8 604.1L143.6 603.4L148.1 602.7L153.1 602.3L178.1 601.9L191.9 601.4L201.1 601.6L207.2 602.4L209.6 603.1L211.3 603.9L213.0 605.1L214.0 606.2L214.8 607.6L215.1 609.1L214.9 611.1L214.1 613.2L212.9 615.2L210.6 617.2L208.8 618.5L206.4 619.5L203.1 620.2L198.9 620.7L183.2 621.1L173.8 621.6L162.4 621.3L150.9 621.6L147.1 621.3L143.6 620.7L142.7 619.6L141.8 619.7L140.6 620.6L139.9 621.8L138.6 625.8L137.2 629.2L135.5 631.8L133.8 633.7L132.4 634.6L131.1 635.1Z" fill="rgb(40,40,40)"/>
<path d="M130.4 587.3L129.2 587.4L128.2 587.1L127.7 586.6L127.7 585.9L128.2 585.5L128.9 585.2L129.9 585.2L130.7 585.4L131.3 585.9L131.3 586.4L131.0 586.9ZM131.2 634.6L129.6 634.7L127.6 634.1L125.8 632.7L123.8 630.2L121.0 624.9L118.5 618.4L117.9 615.4L117.9 611.6L118.2 609.6L119.6 605.6L120.4 603.9L121.6 602.2L123.7 599.9L126.5 598.1L128.2 597.4L129.9 597.1L132.6 597.1L136.2 598.5L138.1 600.2L140.2 603.8L141.1 604.6L142.1 604.8L143.6 604.3L146.6 603.6L153.2 602.7L178.4 602.4L192.2 601.8L201.1 602.0L205.6 602.6L209.2 603.6L210.9 604.5L212.4 605.8L213.1 606.8L213.8 608.1L214.1 610.2L213.8 612.1L213.4 613.4L212.6 614.8L211.8 615.8L210.4 617.0L208.6 618.2L206.4 619.0L202.9 619.8L198.9 620.2L187.4 620.3L173.6 620.9L163.4 620.7L151.2 620.9L147.2 620.4L143.6 619.5L142.6 618.8L141.2 619.0L139.9 620.2L139.2 621.6L138.2 625.8L136.7 629.8L135.3 631.8L133.8 633.3L132.2 634.3Z" fill="rgb(27,27,27)"/>
<path d="M131.1 634.3L129.8 634.3L127.9 633.6L126.1 632.3L124.1 629.9L121.2 624.8L118.7 618.2L118.2 615.4L118.2 611.8L118.5 609.8L119.9 605.8L120.7 604.1L121.8 602.4L123.9 600.0L126.6 598.1L128.2 597.4L129.8 597.0L132.6 597.0L135.4 598.1L136.5 598.8L137.9 600.4L139.2 603.2L140.4 604.8L140.9 605.1L141.9 605.3L144.4 605.0L148.4 603.8L153.2 603.2L171.1 603.0L171.9 602.8L191.4 602.5L192.2 602.3L198.1 602.3L205.4 603.0L208.9 604.1L210.5 605.1L211.7 606.2L212.6 607.8L213.1 609.4L213.3 610.8L212.9 612.9L212.1 614.6L210.2 616.7L208.6 617.8L206.2 618.6L201.4 619.5L198.9 619.7L187.1 619.7L186.2 619.8L182.8 619.8L173.6 620.3L169.4 620.3L168.4 620.2L151.2 620.2L147.6 619.6L142.9 618.2L140.9 618.4L140.2 618.9L139.4 619.9L138.7 621.4L137.9 625.6L136.4 629.8L135.2 631.6L133.6 633.2L132.0 634.1Z" fill="rgb(229,229,229)"/>
<path d="M130.9 634.1L129.8 634.1L127.9 633.4L126.2 632.2L124.2 629.9L122.6 627.2L121.4 624.8L119.0 618.4L118.4 615.1L118.4 611.8L118.7 609.8L120.0 605.9L120.8 604.2L121.9 602.6L123.9 600.2L126.6 598.4L128.4 597.6L129.9 597.3L132.4 597.3L134.7 598.1L136.0 598.8L137.8 600.5L139.0 603.2L140.3 604.9L141.8 605.4L144.6 605.1L146.8 604.2L147.6 604.2L148.2 603.9L149.1 603.9L151.1 603.4L152.8 603.4L152.9 603.2L171.4 603.1L171.6 602.9L179.1 602.9L179.2 602.7L191.8 602.6L191.9 602.4L198.4 602.4L198.6 602.6L201.2 602.6L201.4 602.7L203.1 602.7L204.2 603.1L205.6 603.1L208.8 604.1L210.4 605.1L211.8 606.4L212.6 607.9L213.1 609.4L213.3 611.1L213.1 611.2L212.9 612.9L212.3 613.9L212.1 614.6L210.1 616.8L209.4 617.3L209.1 617.3L208.6 617.8L206.2 618.6L205.4 618.6L204.9 618.9L201.8 619.3L201.6 619.4L199.4 619.4L199.2 619.6L186.8 619.6L186.6 619.8L178.8 619.9L178.6 620.1L174.1 620.1L173.9 620.3L169.1 620.3L168.9 620.1L150.9 620.1L150.8 619.9L149.4 619.9L148.4 619.6L147.6 619.6L143.1 618.1L140.9 618.3L140.0 618.9L138.9 620.6L138.4 621.9L137.8 625.6L136.3 629.6L135.0 631.4L133.6 632.9L131.9 633.9ZM141.4 613.4L144.1 611.8L143.9 611.4L142.9 610.8L141.1 609.9L140.8 610.4L140.8 612.9L140.9 613.4Z" fill="rgb(213,213,213)"/>
<path d="M130.6 633.9L129.2 633.7L127.6 632.9L126.3 631.9L124.4 629.8L122.8 627.1L121.6 624.6L119.3 618.4L118.6 615.1L118.6 611.9L119.0 609.8L120.3 605.9L121.1 604.2L122.2 602.6L124.1 600.4L126.8 598.5L128.4 597.8L130.1 597.5L132.4 597.5L135.9 598.9L137.5 600.6L138.9 603.4L140.1 605.1L140.6 605.4L141.2 605.2L142.6 605.4L144.6 605.1L148.4 604.0L153.2 603.3L171.4 603.1L171.7 602.9L191.8 602.6L191.9 602.4L198.4 602.4L198.6 602.6L201.2 602.6L201.4 602.7L203.0 602.8L204.2 603.1L205.4 603.1L208.8 604.1L210.4 605.2L211.6 606.3L212.4 607.7L213.0 609.4L213.2 610.8L212.8 612.9L212.0 614.6L210.2 616.5L208.6 617.7L206.6 618.4L205.4 618.6L204.8 618.9L201.8 619.3L201.5 619.4L199.4 619.4L199.2 619.6L186.8 619.6L186.6 619.8L182.4 619.8L182.2 619.9L174.1 620.1L173.8 620.2L164.6 620.0L151.4 620.1L147.8 619.5L143.1 618.1L141.8 618.1L141.5 618.2L140.6 618.1L139.9 618.8L138.8 620.4L138.3 621.9L137.6 625.6L136.1 629.6L134.8 631.4L133.4 632.8L131.9 633.6ZM141.0 614.2L144.1 612.4L144.9 611.8L144.2 611.1L140.8 609.1L140.5 609.2L140.4 609.6L140.4 613.6L140.6 614.4Z" fill="rgb(198,198,198)"/>
<path d="M131.1 633.6L129.9 633.7L128.1 633.0L126.4 631.7L124.5 629.6L122.9 626.9L121.8 624.4L119.5 618.4L118.9 614.9L118.9 611.9L119.2 609.9L120.4 606.1L121.2 604.4L122.3 602.8L124.2 600.6L126.8 598.7L128.4 598.0L130.1 597.7L132.2 597.7L134.3 598.4L135.8 599.2L137.3 600.8L138.8 603.6L140.0 605.2L140.6 605.7L141.2 605.4L142.4 605.5L144.6 605.2L148.4 604.1L153.4 603.4L160.8 603.4L179.8 602.8L197.9 602.5L205.4 603.2L208.8 604.3L210.4 605.4L211.5 606.4L212.3 607.8L212.8 609.4L213.1 610.8L212.7 612.9L211.8 614.6L210.2 616.4L208.4 617.6L206.2 618.4L201.2 619.3L198.6 619.5L187.1 619.5L173.4 620.1L164.4 619.8L151.6 619.9L147.8 619.3L143.1 618.0L141.2 618.1L140.6 617.8L139.7 618.6L138.7 620.2L138.2 621.8L137.5 625.4L135.9 629.4L134.6 631.2L133.4 632.4L131.9 633.4ZM140.8 614.8L145.3 611.8L144.4 610.9L140.6 608.6L140.3 608.8L140.1 609.2L140.1 613.9L140.2 614.7L140.4 614.9Z" fill="rgb(184,184,184)"/>
<path d="M130.6 633.4L129.8 633.4L128.4 632.9L126.8 631.7L125.5 630.4L123.8 627.9L122.0 624.6L120.1 619.2L119.3 616.6L119.1 614.9L119.1 612.1L119.5 609.9L120.7 606.1L121.4 604.5L122.5 602.9L124.3 600.8L126.9 598.9L128.6 598.2L130.2 597.9L132.2 598.0L135.7 599.4L137.1 600.9L138.9 604.2L139.9 605.6L140.6 606.1L141.2 605.5L142.4 605.7L144.8 605.4L148.6 604.3L153.4 603.6L160.8 603.6L179.8 602.9L197.9 602.6L205.2 603.3L208.6 604.4L210.2 605.4L211.2 606.4L212.1 607.8L212.6 609.4L212.9 610.8L212.5 612.9L211.7 614.4L210.1 616.3L208.4 617.4L206.3 618.2L201.2 619.2L198.6 619.4L187.1 619.4L173.4 620.0L164.4 619.6L151.6 619.7L147.8 619.1L144.9 618.2L143.1 617.8L141.2 618.0L140.6 617.4L139.6 618.4L138.6 620.1L138.0 621.8L137.3 625.4L135.8 629.2L134.5 631.1L133.1 632.4L131.8 633.2ZM140.5 615.2L145.6 611.8L145.4 611.4L144.7 610.9L140.4 608.2L140.1 608.4L139.9 609.1L139.9 614.1L140.1 615.1Z" fill="rgb(170,170,170)"/>
<path d="M131.1 633.1L129.8 633.1L128.1 632.5L126.4 631.1L124.8 629.2L123.3 626.8L122.1 624.2L120.0 618.2L119.4 614.9L119.4 612.1L119.7 609.9L120.8 606.2L121.6 604.6L122.6 603.1L124.4 600.9L127.1 599.1L128.6 598.5L130.2 598.2L132.1 598.2L134.1 598.9L135.6 599.7L136.9 601.1L138.2 603.6L139.6 605.6L140.6 606.5L141.2 605.7L142.4 605.8L144.8 605.7L148.6 604.6L153.4 603.9L163.8 603.9L172.5 603.2L192.6 602.7L197.9 602.7L202.6 603.1L205.2 603.5L208.5 604.6L210.1 605.6L211.1 606.6L211.9 607.9L212.4 609.5L212.6 610.8L212.2 612.8L211.4 614.4L209.9 616.2L208.3 617.2L206.2 618.1L201.2 619.1L198.6 619.3L187.1 619.3L173.2 619.8L164.4 619.3L151.6 619.5L147.9 618.9L144.8 617.8L143.1 617.6L141.2 617.8L140.6 616.9L139.4 618.2L138.5 619.9L137.9 621.8L137.2 625.2L135.6 629.1L134.4 630.8L133.2 632.0L131.8 632.9ZM140.6 615.6L141.2 614.9L144.1 613.1L145.9 611.8L145.5 611.2L141.4 608.7L140.4 607.8L139.9 608.1L139.8 608.6L139.7 614.6L139.9 615.4L140.2 615.6Z" fill="rgb(157,157,157)"/>
<path d="M130.8 632.9L129.8 632.9L128.6 632.5L126.8 631.2L125.1 629.2L123.5 626.6L122.4 624.2L120.3 618.2L119.7 614.9L119.6 612.4L120.0 609.8L121.1 606.2L121.9 604.6L123.5 602.2L125.4 600.4L127.4 599.2L128.9 598.7L131.2 598.4L132.2 598.5L133.8 599.1L135.8 600.2L136.8 601.4L138.1 603.8L140.3 607.1L139.8 607.9L139.6 608.8L139.6 615.1L140.1 616.4L138.2 620.1L136.9 625.4L135.6 628.8L134.2 630.7L132.6 632.2ZM177.9 619.6L171.6 619.5L164.4 618.8L158.9 619.1L151.8 619.1L147.9 618.5L144.8 617.4L143.1 617.3L141.4 617.6L141.1 617.3L140.7 616.2L141.1 615.2L144.1 613.3L146.1 611.8L146.0 611.4L144.2 610.2L141.2 608.3L140.7 607.4L140.6 607.1L141.1 606.2L141.4 605.9L142.6 606.1L144.9 606.1L148.6 604.9L153.6 604.2L163.8 604.3L173.2 603.4L192.6 602.9L197.8 602.9L202.8 603.3L205.2 603.7L207.8 604.5L209.6 605.6L210.7 606.6L211.5 607.9L212.1 609.4L212.3 610.6L212.2 611.8L212.0 612.8L211.2 614.2L210.1 615.6L209.1 616.4L208.1 617.1L206.1 617.9L202.6 618.7L198.8 619.1L187.1 619.1Z" fill="rgb(143,143,143)"/>
<path d="M131.1 632.6L129.8 632.7L128.0 631.9L126.1 630.2L124.3 627.6L122.6 624.2L121.1 619.9L120.1 616.4L119.9 614.4L119.9 612.1L120.3 609.4L121.3 606.2L122.9 603.4L124.6 601.4L125.8 600.4L128.1 599.2L130.6 598.7L132.6 598.9L134.6 599.7L135.6 600.4L136.9 602.0L139.4 606.2L139.7 607.1L139.5 608.4L139.4 615.1L139.6 616.8L138.1 620.0L136.8 625.2L135.4 628.6L134.3 630.2L132.6 631.9ZM178.6 619.3L172.8 619.3L164.4 618.3L158.9 618.7L151.8 618.8L148.1 618.2L144.8 616.9L143.2 616.8L141.4 617.2L141.1 616.9L141.0 616.2L141.2 615.4L144.1 613.6L146.4 611.8L146.2 611.4L144.2 610.0L141.3 608.1L140.9 607.4L141.0 606.8L141.4 606.2L142.8 606.5L144.9 606.5L148.8 605.3L153.6 604.5L163.9 604.8L173.9 603.6L192.6 603.0L197.8 603.1L202.6 603.5L205.2 604.0L207.5 604.8L209.2 605.8L210.4 606.8L211.2 607.9L211.7 609.4L211.9 610.8L211.7 612.4L211.0 613.9L210.4 614.8L209.5 615.8L208.1 616.8L204.6 618.1L201.1 618.7L198.6 618.9L187.1 619.0Z" fill="rgb(130,130,130)"/>
<path d="M130.8 632.4L129.9 632.4L128.9 632.2L127.1 630.9L125.4 629.0L123.9 626.4L122.7 623.9L120.8 618.2L120.2 614.8L120.2 612.4L120.5 609.9L121.4 606.8L122.2 604.9L123.8 602.6L125.6 600.8L127.6 599.6L129.1 599.1L131.1 598.9L132.4 599.1L134.7 600.1L135.6 600.8L136.7 602.1L139.3 606.6L139.4 611.9L139.2 616.9L137.9 619.9L136.6 625.1L135.3 628.2L134.1 630.2L132.9 631.3L131.9 632.0ZM178.1 619.1L171.8 618.9L164.4 617.7L159.0 618.2L151.9 618.3L148.1 617.7L144.6 616.2L143.4 616.2L141.4 616.7L141.2 616.1L141.4 615.5L144.1 613.8L146.6 611.8L146.2 611.3L144.1 609.6L141.4 607.9L141.2 607.4L141.2 606.9L141.6 606.7L142.8 607.0L144.8 607.2L147.1 606.2L148.8 605.7L151.6 605.2L153.8 605.0L158.4 605.0L163.9 605.4L172.2 604.0L174.2 603.8L180.1 603.5L197.8 603.3L202.6 603.8L205.1 604.3L207.2 605.0L209.0 606.1L209.9 606.8L210.8 608.0L211.3 609.4L211.5 610.6L211.3 612.2L210.7 613.8L210.1 614.6L209.2 615.5L207.8 616.5L204.4 617.8L201.1 618.5L198.6 618.7L186.9 618.7Z" fill="rgb(117,117,117)"/>
<path d="M131.1 632.1L129.8 632.2L128.2 631.6L126.6 630.1L124.7 627.4L123.0 624.1L121.8 620.6L120.9 617.6L120.4 614.4L120.5 611.1L121.0 608.8L121.9 606.1L123.2 603.6L124.8 601.8L125.9 600.8L128.2 599.6L130.6 599.2L132.1 599.3L134.2 600.2L135.2 600.8L136.4 602.1L139.0 606.6L139.3 611.6L139.0 616.8L137.8 619.9L136.4 625.2L135.0 628.4L133.9 630.0L132.4 631.4ZM178.2 618.8L171.8 618.5L164.6 616.9L160.9 617.5L156.8 617.8L151.9 617.8L148.2 617.1L144.4 615.4L143.2 615.2L143.3 614.9L146.8 611.8L146.6 611.3L142.6 607.9L144.4 608.0L147.1 606.8L148.8 606.2L150.9 605.8L153.8 605.5L158.6 605.6L164.1 606.2L169.1 604.9L174.2 604.1L180.1 603.8L196.1 603.5L202.4 604.1L206.6 605.2L208.0 605.9L209.4 607.0L210.3 608.2L210.8 609.6L211.0 610.8L210.8 612.2L209.7 614.4L208.9 615.2L207.5 616.2L204.2 617.5L200.9 618.2L197.8 618.5L186.9 618.5Z" fill="rgb(105,105,105)"/>
<path d="M130.8 631.9L129.9 632.0L128.9 631.7L127.2 630.5L125.7 628.6L124.3 626.2L123.1 623.8L121.4 618.4L120.7 614.8L120.7 612.6L120.9 610.4L121.7 607.1L122.6 605.1L124.0 602.9L125.8 601.2L127.8 600.1L129.1 599.6L130.9 599.4L132.2 599.6L134.2 600.5L135.1 601.1L136.3 602.4L138.7 606.6L139.0 608.8L139.2 611.8L138.7 616.8L137.6 619.8L136.2 625.2L134.8 628.4L133.7 629.9L132.2 631.3ZM178.2 618.4L176.8 618.5L171.8 618.0L169.9 617.6L164.6 616.0L161.1 616.9L156.9 617.2L152.1 617.2L148.4 616.6L146.2 615.5L144.9 614.6L144.8 614.2L145.1 613.8L147.1 611.8L146.9 611.4L145.1 609.8L144.9 609.2L144.9 608.9L145.9 608.1L147.5 607.2L149.1 606.8L152.1 606.2L154.1 606.0L158.2 606.1L162.2 606.6L164.2 607.1L169.4 605.3L174.2 604.4L180.1 604.0L195.8 603.8L200.2 604.1L202.4 604.4L206.4 605.6L207.9 606.4L209.1 607.4L209.8 608.4L210.3 609.6L210.5 610.6L210.3 612.1L209.8 613.2L209.2 614.2L208.3 615.1L206.6 616.2L204.1 617.2L200.9 617.9L197.6 618.2L186.9 618.2Z" fill="rgb(92,92,92)"/>
<path d="M130.4 631.8L128.8 631.4L127.2 630.2L125.8 628.4L124.4 626.1L123.3 623.6L121.6 618.2L121.0 614.8L121.0 612.4L121.1 610.6L121.9 607.2L122.8 605.1L124.2 603.1L125.8 601.4L127.9 600.2L129.2 599.8L131.1 599.7L132.4 599.9L134.5 600.9L135.9 602.3L136.6 603.2L138.5 606.8L138.9 608.9L139.0 611.9L138.5 616.6L136.0 625.2L134.6 628.2L133.6 629.8L131.9 631.2ZM178.1 618.1L173.2 617.7L171.4 617.4L167.6 616.2L164.6 614.8L161.4 616.0L158.4 616.5L152.2 616.6L148.8 616.0L146.8 615.0L145.8 614.1L146.0 613.2L147.3 611.8L147.2 611.4L145.9 610.1L145.8 609.4L146.3 608.8L147.8 607.9L149.2 607.4L152.1 606.8L154.2 606.6L158.4 606.8L162.1 607.4L164.4 608.2L168.4 606.2L172.4 605.0L174.4 604.7L180.1 604.3L195.8 604.2L200.1 604.4L202.2 604.8L206.1 605.9L208.6 607.7L209.3 608.6L209.7 609.8L209.9 610.8L209.7 612.1L209.2 613.2L208.5 614.2L206.2 615.9L203.2 617.1L200.8 617.6L197.4 617.8L186.9 617.9Z" fill="rgb(80,80,80)"/>
<path d="M130.8 631.4L129.9 631.5L129.1 631.3L127.4 630.1L126.0 628.2L124.7 626.1L123.5 623.6L121.8 618.2L121.2 614.6L121.2 612.6L121.3 610.8L122.1 607.2L123.0 605.2L124.3 603.2L126.0 601.6L128.1 600.4L129.2 600.0L130.9 599.9L132.2 600.1L134.2 601.1L135.8 602.5L136.4 603.4L138.1 606.2L138.5 607.6L138.9 611.8L138.4 615.8L135.9 625.0L134.5 628.1L133.4 629.6L131.9 630.9ZM181.9 617.6L177.1 617.7L172.4 617.1L170.1 616.4L167.9 615.4L164.6 613.3L161.8 615.0L159.4 615.7L156.8 615.9L152.9 615.9L150.2 615.6L148.2 615.0L146.7 613.8L146.7 613.1L147.7 611.8L146.7 610.4L146.6 609.9L147.4 608.9L149.1 608.1L151.4 607.6L154.2 607.3L157.9 607.4L160.2 607.8L162.4 608.5L164.4 609.7L167.3 607.6L168.5 606.9L172.4 605.5L174.2 605.1L177.2 604.7L193.1 604.5L200.1 604.8L202.4 605.2L204.4 605.8L206.2 606.6L207.8 607.7L208.6 608.7L209.1 609.8L209.2 610.8L209.1 611.9L208.7 612.9L208.0 613.9L205.9 615.6L203.2 616.6L200.6 617.2L197.2 617.5Z" fill="rgb(67,67,67)"/>
<path d="M130.4 631.3L128.9 630.9L127.4 629.8L126.1 628.1L124.8 625.9L123.7 623.6L122.1 618.2L121.5 614.6L121.5 612.4L121.6 610.8L122.3 607.4L123.2 605.2L124.4 603.4L126.1 601.8L128.1 600.7L129.4 600.2L130.9 600.2L132.2 600.4L134.1 601.3L135.7 602.8L136.2 603.5L137.8 606.2L138.3 607.8L138.7 611.9L138.5 613.9L137.7 617.8L135.7 624.9L134.3 627.9L133.2 629.4L131.7 630.8ZM177.9 617.3L175.2 617.0L172.9 616.6L170.2 615.7L168.1 614.4L166.2 612.8L165.4 611.8L165.6 610.9L166.5 609.6L168.1 608.1L170.5 606.8L173.9 605.6L177.4 605.1L195.6 604.9L200.1 605.2L202.4 605.7L205.6 606.9L207.5 608.4L208.4 609.9L208.5 610.9L208.3 612.1L207.3 613.8L205.4 615.2L202.6 616.3L200.4 616.8L197.2 617.1ZM157.6 615.1L152.4 615.2L150.4 614.9L148.9 614.4L147.9 613.7L147.5 613.1L147.6 612.6L148.1 611.8L147.5 610.6L147.6 610.1L148.8 609.1L150.4 608.5L152.9 608.1L155.1 608.0L157.8 608.2L159.9 608.5L161.3 609.1L162.7 610.1L163.6 611.6L163.3 612.2L162.5 613.2L160.4 614.6Z" fill="rgb(55,55,55)"/>
<path d="M130.8 630.9L130.1 631.0L129.2 630.8L127.8 629.8L125.4 626.6L123.9 623.5L122.8 620.1L121.9 616.1L121.7 613.4L121.8 610.9L122.5 607.6L123.0 606.2L124.1 604.2L124.9 603.2L126.4 601.8L128.6 600.7L130.8 600.4L132.1 600.6L133.8 601.4L134.6 602.0L136.0 603.6L137.7 606.4L138.1 607.8L138.4 609.1L138.5 611.8L138.3 613.8L137.5 617.8L135.6 624.8L133.8 628.4L132.1 630.2ZM181.4 616.8L177.4 616.8L175.4 616.5L172.9 615.9L170.9 615.1L168.9 613.8L167.5 612.2L167.2 611.4L167.5 610.4L169.3 608.2L170.9 607.2L172.8 606.4L174.6 605.9L177.1 605.5L180.2 605.4L195.6 605.3L200.1 605.7L202.2 606.1L205.2 607.4L206.9 608.8L207.7 610.1L207.6 612.1L206.7 613.4L205.1 614.8L202.4 615.9L199.4 616.5L197.1 616.7ZM157.6 614.3L152.8 614.4L149.6 613.8L148.9 613.3L148.5 612.8L148.6 611.8L148.4 610.6L148.9 610.0L149.7 609.6L151.5 609.1L153.2 608.9L157.8 609.0L159.6 609.4L160.7 609.9L161.4 610.6L161.8 611.4L161.8 611.9L161.4 612.6L159.9 613.8Z" fill="rgb(43,43,43)"/>
<path d="M130.4 630.8L129.1 630.5L127.6 629.3L125.7 626.8L124.2 623.6L122.5 618.1L122.0 614.4L121.9 612.2L122.0 610.9L122.7 607.6L123.7 605.2L124.8 603.6L126.4 602.0L128.2 601.1L129.4 600.7L130.8 600.6L132.1 600.9L133.8 601.7L135.9 603.8L137.4 606.2L138.0 607.9L138.2 609.2L138.3 611.9L137.3 617.8L135.5 624.6L134.0 627.8L132.9 629.1L131.4 630.4ZM186.6 616.3L177.4 616.3L174.2 615.7L171.4 614.5L169.8 613.3L168.7 611.6L168.7 610.6L169.8 608.9L171.6 607.6L174.6 606.3L177.8 605.8L195.6 605.8L199.8 606.1L202.1 606.6L204.8 607.9L206.1 609.1L206.9 610.2L206.8 611.9L206.1 613.1L204.8 614.2L202.4 615.4L199.2 616.1L197.1 616.2ZM156.9 613.4L152.9 613.5L150.4 613.1L149.5 612.4L149.3 611.1L149.7 610.6L150.4 610.2L153.6 609.7L157.6 609.9L159.2 610.2L160.1 610.8L160.4 611.8L159.9 612.6L158.9 613.1Z" fill="rgb(31,31,31)"/>
<path d="M130.4 630.6L129.2 630.4L127.9 629.5L125.7 626.4L124.2 623.2L123.2 620.1L122.7 617.9L122.2 614.2L122.2 611.2L122.5 609.2L123.2 606.6L124.0 604.9L125.0 603.6L126.6 602.1L128.8 601.1L129.8 600.8L131.1 600.8L132.0 601.1L133.6 601.9L135.2 603.3L136.6 605.2L137.4 606.8L138.0 609.2L138.0 612.2L137.2 617.6L136.4 620.9L135.4 624.4L133.8 627.8L132.8 629.1L131.2 630.3ZM197.2 615.8L177.4 615.8L174.4 615.1L171.8 613.8L170.4 612.6L169.7 610.9L170.4 609.4L171.8 608.2L174.4 606.9L177.6 606.2L195.4 606.2L198.2 606.3L201.8 607.1L202.9 607.6L204.6 608.5L205.6 609.5L206.1 610.4L206.2 611.6L205.6 612.6L204.5 613.8L202.6 614.8L200.9 615.3L199.1 615.7ZM156.6 612.6L153.1 612.7L151.8 612.5L150.4 612.1L150.0 611.6L150.2 611.2L151.2 610.9L153.6 610.5L157.2 610.7L158.8 611.1L159.3 611.4L159.3 611.8L158.9 612.1Z" fill="rgb(219,219,219)"/>
<path d="M130.4 630.1L129.2 629.9L127.9 628.9L126.1 626.4L124.6 623.4L122.8 617.9L122.3 614.2L122.3 612.6L122.3 611.1L123.0 607.8L123.5 606.4L124.6 604.5L125.6 603.3L126.9 602.2L128.9 601.3L130.6 601.1L131.9 601.3L133.4 602.0L134.2 602.6L135.7 604.1L137.2 606.6L137.7 608.1L137.9 609.0L137.9 612.2L137.8 612.6L137.8 613.8L137.4 614.6L137.3 616.6L137.1 616.8L137.1 617.7L136.0 622.1L135.2 624.4L133.2 627.9L131.8 629.4ZM184.4 615.8L177.3 615.8L174.4 615.1L171.8 613.8L170.8 612.9L169.7 611.2L169.7 610.8L170.4 609.4L171.8 608.2L174.4 606.9L177.4 606.2L195.4 606.3L199.6 606.6L201.8 607.2L203.1 607.8L204.7 608.9L205.9 610.6L205.8 611.8L205.3 612.6L204.4 613.5L202.6 614.6L200.8 615.2L196.8 615.7L189.8 615.6ZM157.1 611.8L153.4 611.9L152.2 611.6L153.8 611.3L155.6 611.3L157.3 611.6Z" fill="rgb(204,204,204)"/>
<path d="M130.4 629.6L129.4 629.5L128.2 628.6L126.4 626.3L124.8 623.2L123.0 617.9L122.6 615.8L122.4 612.8L122.5 611.2L123.3 607.8L123.8 606.4L124.8 604.7L125.8 603.5L127.1 602.4L128.9 601.5L130.6 601.3L131.8 601.5L133.4 602.2L134.2 602.9L135.5 604.1L136.9 606.4L137.6 608.1L137.9 609.4L137.9 612.2L136.8 618.4L135.1 624.2L133.1 627.5L131.6 629.0ZM184.1 615.6L177.8 615.7L174.6 615.0L171.9 613.7L170.7 612.8L169.9 611.4L169.9 610.8L170.6 609.2L171.8 608.3L173.6 607.3L174.9 606.8L177.4 606.3L180.4 606.3L189.8 606.6L195.4 606.4L199.4 606.8L201.6 607.4L203.0 608.1L204.6 609.2L205.6 610.8L205.6 611.4L205.2 612.1L204.2 613.2L202.6 614.3L200.6 615.0L196.8 615.5L189.8 615.3Z" fill="rgb(191,191,191)"/>
<path d="M130.2 629.1L129.8 629.0L128.9 628.5L127.6 627.2L126.6 625.9L125.0 623.1L123.2 617.8L122.8 615.6L122.6 612.8L122.7 611.2L123.4 607.9L124.0 606.4L125.0 604.8L125.9 603.7L127.2 602.7L129.1 601.8L130.6 601.6L131.8 601.8L133.2 602.5L134.1 603.0L135.3 604.2L136.8 606.4L137.5 608.1L137.8 609.4L137.9 612.1L136.7 618.4L135.7 621.9L134.8 624.2L132.8 627.2L131.4 628.5ZM184.2 615.4L177.8 615.5L174.6 614.9L172.1 613.7L170.8 612.6L170.1 611.4L170.0 610.8L170.8 609.2L171.9 608.3L173.4 607.5L175.1 606.9L177.4 606.4L180.4 606.4L186.1 606.6L189.6 606.9L195.2 606.6L199.4 607.0L201.6 607.6L202.9 608.2L204.4 609.4L205.2 610.8L205.2 611.2L205.0 611.9L203.9 613.1L202.2 614.2L199.8 614.9L196.6 615.3L189.8 615.0Z" fill="rgb(178,178,178)"/>
<path d="M130.4 628.5L129.9 628.5L129.2 628.2L127.9 626.9L126.8 625.5L125.3 623.1L123.4 617.8L122.9 615.6L122.8 613.4L122.8 611.4L123.2 609.4L124.0 606.9L124.9 605.4L125.9 604.1L127.2 603.0L129.1 602.1L130.4 601.8L131.6 602.0L133.1 602.6L134.1 603.3L135.2 604.4L136.6 606.5L137.3 608.1L137.7 609.6L137.8 612.1L136.8 617.6L135.1 623.1L134.4 624.4L132.6 626.9ZM184.2 615.3L177.9 615.4L174.8 614.8L172.1 613.6L170.9 612.6L170.1 611.2L170.2 610.6L170.9 609.2L171.9 608.4L173.6 607.5L175.1 607.0L177.6 606.5L180.9 606.5L186.1 606.8L189.6 607.2L195.2 606.8L199.4 607.2L201.4 607.8L202.8 608.5L204.2 609.6L204.9 610.9L204.6 611.9L203.8 612.9L202.8 613.6L201.8 614.1L199.6 614.7L195.2 615.1L189.8 614.7Z" fill="rgb(165,165,165)"/>
<path d="M130.4 627.9L129.6 627.8L128.2 626.7L127.1 625.4L125.5 622.9L123.6 617.8L123.1 615.6L122.9 613.4L123.0 611.4L123.4 609.4L124.0 607.8L124.9 605.8L126.1 604.3L127.4 603.2L129.1 602.4L130.4 602.1L131.8 602.3L133.6 603.2L134.8 604.2L135.9 605.7L137.3 608.2L137.6 609.7L137.7 612.1L137.6 613.6L136.7 617.6L134.9 623.1L134.1 624.5L132.4 626.5ZM180.1 615.3L177.8 615.3L175.1 614.8L172.1 613.5L170.8 612.4L170.3 611.4L170.2 610.8L170.6 609.8L171.8 608.6L173.4 607.7L175.1 607.1L177.6 606.6L184.9 606.8L189.6 607.6L192.9 607.1L195.4 607.0L199.2 607.3L201.4 608.0L202.6 608.6L203.8 609.6L204.6 610.9L204.4 611.6L203.8 612.4L202.4 613.5L200.6 614.3L198.8 614.7L194.8 614.9L189.8 614.3L185.2 615.0Z" fill="rgb(152,152,152)"/>
<path d="M130.6 627.3L129.9 627.4L128.6 626.4L127.3 625.1L125.8 622.8L123.8 617.6L123.3 615.6L123.1 613.6L123.2 611.4L123.6 609.6L124.1 607.9L125.1 606.0L126.2 604.5L127.4 603.5L129.1 602.7L130.4 602.4L131.8 602.6L133.6 603.5L134.7 604.4L135.8 605.8L137.1 608.2L137.5 609.8L137.7 612.1L137.5 613.6L136.6 617.6L135.7 620.6L134.7 622.9L133.9 624.2L132.6 625.8ZM181.2 615.1L177.8 615.1L175.1 614.6L173.2 614.0L172.0 613.2L170.8 612.1L170.3 610.9L170.7 609.9L172.1 608.5L174.9 607.3L177.8 606.7L181.1 606.7L186.1 607.1L189.6 607.9L194.4 607.2L199.2 607.5L201.2 608.1L202.4 608.8L203.8 610.0L204.2 610.9L204.1 611.4L203.5 612.2L202.2 613.3L200.4 614.1L198.8 614.5L194.6 614.6L189.8 614.0L185.4 614.8Z" fill="rgb(140,140,140)"/>
<path d="M130.2 626.8L129.4 626.5L127.9 625.2L125.9 622.4L123.9 617.6L123.5 615.6L123.3 612.9L123.4 611.4L123.8 609.4L124.8 606.9L125.8 605.5L126.8 604.4L127.8 603.6L129.2 602.9L130.6 602.7L131.8 602.9L133.6 603.7L134.6 604.6L135.8 606.1L137.0 608.4L137.4 609.9L137.6 612.2L137.1 615.2L136.4 617.8L134.6 622.8L133.7 624.1L132.4 625.4L131.4 626.2ZM181.6 614.9L177.8 615.0L175.1 614.5L173.6 614.0L172.2 613.2L171.0 612.2L170.4 611.1L170.5 610.4L171.0 609.6L171.9 608.7L174.8 607.4L177.6 606.8L180.8 606.8L186.1 607.3L189.6 608.3L191.9 607.7L194.2 607.4L197.4 607.4L199.1 607.7L201.6 608.6L203.4 610.1L203.9 610.9L203.3 612.1L202.1 613.1L200.4 613.8L198.8 614.3L196.4 614.5L193.8 614.4L189.6 613.6L185.6 614.6Z" fill="rgb(128,128,128)"/>
<path d="M130.6 626.1L129.8 626.1L128.2 625.0L126.2 622.4L124.1 617.6L123.6 615.6L123.4 613.4L123.5 611.6L124.0 609.6L124.6 607.9L125.4 606.4L126.3 605.2L127.8 604.0L129.2 603.2L130.6 602.9L131.8 603.2L133.4 603.9L134.4 604.8L135.6 606.1L136.9 608.4L137.4 610.4L137.5 612.2L137.0 615.2L136.3 617.9L134.4 622.6L132.9 624.5L131.8 625.5ZM182.4 614.8L177.9 614.9L175.1 614.4L173.8 613.9L172.2 613.2L171.1 612.2L170.5 611.1L170.6 610.4L171.1 609.6L172.1 608.7L174.8 607.5L177.6 606.9L180.8 606.9L185.9 607.5L189.6 608.7L191.9 608.0L194.2 607.6L197.4 607.6L199.1 607.8L201.5 608.8L202.4 609.5L203.5 610.9L203.1 611.8L201.9 612.9L200.4 613.6L198.8 614.1L196.2 614.2L193.8 614.2L189.6 613.2L186.8 614.1Z" fill="rgb(116,116,116)"/>
<path d="M130.4 625.6L129.8 625.6L128.2 624.5L126.3 621.9L124.3 617.4L123.8 615.4L123.6 613.1L123.7 611.6L124.1 609.8L124.8 608.1L125.6 606.6L126.4 605.5L127.8 604.2L129.2 603.5L130.6 603.2L132.2 603.6L133.4 604.2L134.4 605.0L135.6 606.4L136.6 608.1L137.0 609.1L137.4 610.9L137.5 612.2L137.0 615.2L136.2 617.7L134.4 622.2L132.9 624.1L131.9 624.9ZM179.8 614.8L177.9 614.7L175.2 614.3L172.5 613.2L171.3 612.2L170.8 611.6L170.6 610.9L171.0 609.9L172.2 608.7L175.1 607.5L177.8 607.0L180.9 607.0L185.9 607.6L189.6 609.1L191.9 608.2L194.1 607.8L197.2 607.8L198.9 608.0L201.4 608.9L202.2 609.7L203.1 610.9L202.9 611.6L201.8 612.7L200.2 613.4L198.6 613.9L196.2 614.0L193.8 613.9L191.9 613.6L189.6 612.8L187.3 613.8L185.2 614.3Z" fill="rgb(104,104,104)"/>
<path d="M130.4 625.1L129.8 625.0L128.4 624.1L126.5 621.8L124.4 617.2L123.9 615.4L123.8 613.1L123.9 611.6L124.3 609.8L125.7 606.8L126.6 605.6L127.9 604.5L129.4 603.7L130.6 603.5L132.2 603.8L133.4 604.4L134.2 605.1L135.8 606.9L136.6 608.2L137.0 609.6L137.4 612.4L136.9 615.2L136.1 617.8L134.2 622.1L132.8 623.9L131.8 624.5ZM180.1 614.6L177.9 614.6L175.2 614.2L172.6 613.2L171.4 612.2L170.9 611.6L170.7 610.9L171.1 609.9L172.3 608.8L175.1 607.6L177.8 607.1L180.9 607.1L185.9 607.8L187.4 608.4L189.6 609.6L191.9 608.5L193.9 608.0L197.1 607.9L198.9 608.2L201.2 609.1L202.1 609.9L202.7 610.9L202.6 611.4L201.6 612.5L200.2 613.2L198.6 613.7L196.1 613.8L193.6 613.7L191.9 613.2L189.6 612.3L187.1 613.5L185.2 614.1Z" fill="rgb(92,92,92)"/>
<path d="M130.4 624.6L129.6 624.5L128.1 623.4L126.9 622.0L126.0 620.4L124.4 616.5L124.1 615.4L123.9 613.1L124.1 611.6L124.5 609.8L125.9 606.9L126.8 605.8L128.1 604.7L129.6 604.0L130.8 603.8L132.2 604.1L133.4 604.7L135.7 607.1L136.4 608.2L136.9 609.6L137.3 611.1L137.3 612.4L136.9 615.1L136.1 617.6L134.1 622.0L132.6 623.6ZM180.6 614.4L177.9 614.5L175.1 614.0L173.4 613.4L172.4 612.9L171.2 611.9L170.8 610.9L171.1 610.1L171.6 609.4L172.4 608.8L175.0 607.8L177.8 607.2L180.8 607.2L185.9 608.0L188.1 609.1L189.6 610.3L191.6 608.9L193.4 608.3L195.6 608.1L198.8 608.3L201.1 609.2L201.9 610.1L202.3 610.9L202.2 611.4L201.4 612.3L200.1 613.0L198.4 613.5L195.4 613.6L193.6 613.4L191.8 612.9L189.6 611.7L187.7 612.9L186.2 613.6L184.4 614.0Z" fill="rgb(81,81,81)"/>
<path d="M130.6 624.1L129.8 624.1L128.2 623.1L127.1 621.7L126.2 620.2L124.6 616.4L124.3 615.2L124.1 613.1L124.7 609.9L126.1 607.1L126.9 606.0L128.1 605.0L129.6 604.2L130.8 604.0L132.2 604.4L133.2 604.8L135.6 607.2L136.4 608.4L136.9 609.8L137.2 611.1L137.3 612.4L137.1 613.8L136.4 616.2L134.6 620.8L133.7 622.2L132.8 623.2L131.8 623.8ZM181.1 614.3L177.9 614.3L175.2 613.9L173.8 613.4L172.6 612.9L171.4 611.9L171.0 611.1L171.1 610.4L171.6 609.6L172.4 608.9L174.9 607.9L176.9 607.4L180.8 607.4L185.9 608.2L188.0 609.4L189.1 610.8L189.1 611.2L188.7 611.8L186.5 613.2L184.6 613.8ZM198.4 613.3L195.2 613.4L192.9 613.0L191.0 612.1L190.3 611.4L190.1 610.9L190.7 610.1L191.6 609.2L193.4 608.5L194.6 608.3L196.9 608.3L199.1 608.6L200.9 609.4L201.7 610.2L202.0 611.1L201.6 611.8L201.0 612.2L199.9 612.9Z" fill="rgb(69,69,69)"/>
<path d="M131.1 623.6L130.1 623.7L129.6 623.5L128.2 622.6L127.2 621.4L126.4 620.1L125.0 617.1L124.5 615.4L124.2 613.6L124.4 611.8L124.8 610.2L126.2 607.3L127.1 606.2L128.2 605.2L129.6 604.5L130.8 604.3L132.2 604.6L133.2 605.1L135.4 607.3L136.2 608.4L136.8 609.8L137.1 611.1L137.2 612.4L137.0 613.8L136.3 616.2L134.5 620.6L133.1 622.6L132.1 623.3ZM181.2 614.1L178.1 614.2L175.2 613.8L173.9 613.4L172.6 612.8L171.6 611.9L171.1 611.1L171.2 610.4L171.6 609.7L172.4 609.0L175.1 607.9L176.9 607.5L180.8 607.5L185.8 608.4L187.7 609.6L188.5 610.8L188.5 611.2L188.1 611.8L186.3 613.1L184.6 613.6ZM198.2 613.1L195.2 613.2L193.1 612.8L191.4 611.9L190.8 611.2L190.8 610.8L191.9 609.4L193.8 608.6L196.9 608.4L199.2 608.8L200.9 609.7L201.5 610.4L201.7 611.1L201.3 611.8L200.3 612.4Z" fill="rgb(58,58,58)"/>
<path d="M130.9 623.3L130.1 623.3L129.1 622.9L128.2 622.2L127.4 621.2L126.5 619.9L125.1 616.9L124.6 615.2L124.4 613.4L124.6 611.8L125.0 610.1L126.4 607.4L127.3 606.4L128.4 605.4L129.8 604.8L130.9 604.6L132.1 604.8L133.1 605.2L135.3 607.4L136.1 608.5L136.7 609.9L137.0 611.1L137.1 612.4L136.9 613.8L136.2 616.2L134.3 620.6L133.4 621.9L132.8 622.5L131.8 623.1ZM181.1 613.9L178.1 614.0L175.2 613.6L174.0 613.2L172.8 612.7L171.8 611.9L171.3 611.2L171.3 610.6L171.9 609.6L173.2 608.8L176.4 607.8L178.1 607.6L180.9 607.6L185.3 608.4L186.8 609.2L187.8 610.4L188.0 610.9L187.9 611.4L186.2 612.8L184.6 613.4ZM197.4 612.9L195.1 613.0L193.2 612.6L191.8 611.8L191.4 611.2L191.3 610.8L191.8 609.9L192.4 609.4L194.6 608.7L197.1 608.7L198.8 608.9L200.1 609.4L200.9 610.1L201.3 611.1L200.8 611.8L199.2 612.6Z" fill="rgb(47,47,47)"/>
<path d="M130.9 622.9L129.9 622.9L128.8 622.2L127.7 621.2L126.8 619.9L125.2 616.7L124.8 615.2L124.6 613.4L124.8 611.8L125.2 610.2L126.6 607.6L128.6 605.6L129.8 605.0L130.9 604.8L132.1 605.0L133.1 605.5L135.2 607.5L136.0 608.6L136.6 610.0L136.9 611.1L137.0 612.4L136.9 613.6L136.1 616.2L134.2 620.4L132.9 622.1L131.9 622.7ZM179.8 613.8L178.2 613.8L175.4 613.4L173.1 612.6L171.6 611.4L171.4 610.9L171.6 610.2L171.9 609.7L172.8 609.1L175.1 608.2L176.9 607.9L180.6 607.8L185.6 608.9L186.9 609.9L187.4 610.8L187.3 611.2L186.7 611.9L186.1 612.4L185.0 612.9L182.9 613.4ZM196.6 612.6L195.1 612.6L193.0 612.1L192.0 611.2L191.9 610.9L192.1 610.4L192.6 609.8L193.8 609.2L196.9 609.0L199.3 609.4L200.2 609.9L200.8 610.6L200.8 611.3L199.6 612.1L198.6 612.4Z" fill="rgb(36,36,36)"/>
<path d="M131.6 622.6L130.1 622.6L128.8 622.0L127.8 621.1L126.9 619.8L125.4 616.8L124.9 615.2L124.7 613.8L124.8 611.9L125.2 610.6L126.8 607.7L128.6 605.9L129.9 605.2L130.9 605.0L132.9 605.6L135.2 607.6L135.9 608.6L136.6 610.1L137.0 611.2L137.1 612.4L136.6 615.1L134.6 619.6L133.2 621.8ZM179.6 613.3L178.4 613.3L175.4 613.0L173.1 612.3L171.9 611.2L171.9 610.2L173.1 609.2L176.6 608.2L180.4 608.2L182.9 608.7L184.9 609.4L185.8 610.4L185.8 610.9L185.4 611.6L184.2 612.4L182.1 613.0ZM197.8 611.6L195.6 611.7L194.4 611.4L193.7 611.1L193.5 610.6L194.2 610.1L196.2 609.7L198.2 609.9L199.4 610.4L199.5 610.8L199.2 611.1Z" fill="rgb(212,212,212)"/>
<path d="M131.6 622.1L130.1 622.1L129.0 621.6L128.2 620.9L127.3 619.6L125.8 616.7L125.2 615.1L125.0 613.6L125.2 611.9L125.6 610.4L127.1 607.8L128.8 606.1L129.9 605.5L130.9 605.3L131.9 605.5L132.9 605.9L135.0 607.8L135.7 608.8L136.3 610.1L136.7 611.2L136.8 612.4L136.3 615.1L134.6 618.8L132.9 621.4ZM179.2 613.3L175.4 612.9L173.2 612.2L172.0 611.2L171.9 610.8L172.0 610.2L173.1 609.3L176.8 608.3L180.7 608.2L184.8 609.4L185.7 610.4L185.7 610.9L185.2 611.6L184.1 612.4L182.1 612.9ZM197.4 611.6L194.6 611.4L193.8 611.0L193.6 610.6L194.0 610.2L194.8 610.0L196.4 609.7L198.2 610.0L199.4 610.6L199.4 610.9L198.9 611.2Z" fill="rgb(188,188,188)"/>
<path d="M131.6 621.6L130.6 621.7L129.4 621.3L128.8 620.7L127.7 619.4L126.0 616.4L125.5 614.9L125.3 613.4L125.8 610.6L127.3 607.9L128.9 606.3L130.1 605.8L130.9 605.6L131.9 605.8L132.8 606.1L134.7 607.8L135.9 609.6L136.5 611.8L136.5 613.2L136.2 614.5L135.1 617.2L133.4 620.1L132.4 621.2ZM179.4 612.9L175.4 612.6L173.6 612.1L172.4 611.2L172.2 610.4L173.2 609.6L176.6 608.6L180.4 608.5L184.0 609.4L184.9 609.9L185.4 610.6L185.0 611.4L184.0 612.1L182.1 612.6ZM197.6 611.3L195.4 611.3L194.5 611.1L194.0 610.8L194.1 610.6L194.8 610.2L196.4 610.0L198.2 610.2L199.0 610.6L198.9 610.9Z" fill="rgb(170,170,170)"/>
<path d="M131.6 621.1L130.8 621.2L129.8 620.9L129.1 620.4L128.1 619.2L126.3 616.2L125.9 614.9L125.6 613.4L126.1 610.8L127.5 608.1L129.1 606.6L130.1 606.1L130.9 606.0L132.6 606.3L134.4 607.8L135.6 609.6L136.3 611.8L136.3 613.2L136.0 614.6L134.9 617.1L133.1 619.8L132.2 620.7Z" fill="rgb(154,154,154)"/>
<path d="M131.4 620.6L130.8 620.7L129.8 620.3L127.9 618.3L126.6 615.9L126.0 613.4L126.4 610.9L127.8 608.3L129.2 606.9L130.9 606.3L131.8 606.4L132.6 606.7L134.3 608.1L135.4 609.8L136.0 611.9L136.0 613.2L135.7 614.6L134.6 616.9L132.9 619.4Z" fill="rgb(140,140,140)"/>
<path d="M131.2 620.1L130.6 620.1L129.9 619.8L128.1 617.8L126.9 615.6L126.4 613.4L126.7 611.1L127.9 608.6L129.4 607.1L130.2 606.7L131.1 606.6L132.6 607.0L134.1 608.2L135.3 610.1L135.8 612.1L135.7 613.2L135.4 614.6L134.4 616.7L132.6 619.1Z" fill="rgb(127,127,127)"/>
<path d="M131.1 619.6L130.2 619.4L128.2 617.4L127.0 615.1L126.7 613.2L127.0 611.1L128.2 608.8L129.5 607.4L130.4 607.0L131.1 606.9L132.6 607.3L134.1 608.6L135.2 610.4L135.5 612.4L135.1 614.6L134.1 616.6L132.4 618.6Z" fill="rgb(114,114,114)"/>
<path d="M131.1 619.0L130.4 618.9L128.5 617.1L127.4 615.1L127.1 613.2L127.3 611.2L128.4 608.9L129.8 607.6L131.1 607.2L132.6 607.6L133.9 608.8L134.9 610.4L135.3 612.4L134.9 614.4L133.9 616.4L132.4 618.0Z" fill="rgb(102,102,102)"/>
<path d="M131.2 618.3L130.8 618.4L130.4 618.3L128.8 616.8L127.7 614.9L127.4 613.2L127.6 611.2L128.6 609.2L129.8 608.0L131.1 607.5L132.4 607.9L133.6 608.8L134.6 610.3L135.0 612.1L134.7 614.1L134.1 615.6L132.8 617.2Z" fill="rgb(91,91,91)"/>
<path d="M131.1 617.8L130.2 617.6L128.9 616.3L128.0 614.6L127.7 612.9L128.0 611.2L128.9 609.3L129.9 608.3L131.1 607.8L132.4 608.2L133.5 609.1L134.4 610.6L134.7 612.4L134.4 614.2L133.6 615.8L132.4 617.0Z" fill="rgb(80,80,80)"/>
<path d="M130.9 617.3L129.9 616.7L128.9 615.6L128.3 614.2L128.1 612.8L128.3 611.2L129.2 609.4L130.2 608.4L131.2 608.1L132.6 608.6L133.6 609.6L134.3 610.9L134.5 612.6L134.1 614.2L133.4 615.6L132.2 616.7Z" fill="rgb(70,70,70)"/>
<path d="M131.4 616.6L130.6 616.7L129.4 615.7L128.7 614.4L128.4 612.9L128.5 611.6L129.1 610.1L130.0 608.9L131.1 608.4L132.1 608.6L133.1 609.3L133.9 610.6L134.2 612.1L134.0 613.9L133.4 615.1L132.4 616.1Z" fill="rgb(60,60,60)"/>
<path d="M131.8 616.1L130.8 616.2L129.8 615.5L129.0 614.2L128.8 612.9L128.9 611.6L129.4 610.2L130.1 609.2L131.1 608.8L132.1 608.9L132.9 609.5L133.6 610.6L133.9 611.9L133.9 612.9L133.5 614.4L132.9 615.3Z" fill="rgb(50,50,50)"/>
<path d="M131.4 615.8L130.8 615.7L129.9 615.1L129.3 614.1L129.1 612.8L129.2 611.6L129.6 610.4L130.4 609.4L131.2 609.1L132.1 609.2L132.8 609.8L133.4 610.8L133.7 612.1L133.5 613.8L133.1 614.6L132.4 615.3Z" fill="rgb(41,41,41)"/>
<path d="M131.8 615.3L131.1 615.4L130.2 614.9L129.7 613.9L129.4 612.8L129.5 611.8L129.9 610.6L130.5 609.8L131.2 609.4L131.9 609.5L132.6 609.9L133.1 610.8L133.4 611.9L133.1 614.0L132.6 614.8Z" fill="rgb(31,31,31)"/>
<path d="M131.8 614.9L131.2 615.0L130.5 614.6L130.0 613.8L129.8 612.6L130.1 610.8L130.8 609.9L131.4 609.7L131.9 609.8L132.4 610.2L132.9 611.0L133.1 612.1L132.8 613.9L132.3 614.6Z" fill="rgb(22,22,22)"/>
<path d="M131.6 614.8L130.9 614.5L130.4 613.9L130.0 612.4L130.4 610.8L130.9 610.1L131.4 609.9L132.3 610.2L132.8 611.1L133.0 612.1L132.6 613.9L132.2 614.4Z" fill="rgb(39,39,39)"/>
<path d="M127.1 645.1L126.2 645.2L124.9 644.8L122.9 643.8L119.9 641.5L119.2 640.8L118.8 640.0L117.9 636.6L116.7 633.4L117.3 629.9L117.1 628.6L116.8 627.4L115.7 625.2L115.3 622.2L113.8 619.6L113.8 616.6L112.2 612.6L111.8 610.8L112.2 609.2L113.4 607.1L115.1 602.6L115.5 601.1L115.8 597.6L115.6 594.8L114.6 592.1L113.0 587.2L113.2 584.9L114.0 583.2L115.4 581.8L116.6 581.1L124.9 581.2L128.2 580.5L134.1 580.3L139.2 582.2L139.9 582.8L140.3 584.1L140.2 589.4L140.5 591.2L140.9 592.6L142.0 594.4L143.6 595.8L145.4 597.1L147.4 597.9L150.4 598.7L152.4 599.0L153.8 599.0L157.4 598.2L160.9 598.8L165.8 599.0L169.1 598.2L171.6 598.6L172.4 598.5L177.4 598.5L179.1 598.2L182.2 598.0L187.2 598.2L191.1 597.5L192.6 597.5L197.1 598.5L200.9 597.8L204.9 598.5L207.6 598.2L210.2 598.5L213.6 598.3L215.2 598.9L217.6 599.4L218.6 599.9L221.8 602.8L222.8 604.6L223.3 607.4L223.3 608.6L222.6 610.8L222.3 612.2L221.4 614.0L219.9 615.1L216.4 617.2L214.8 618.6L212.9 619.2L211.2 620.0L207.9 622.6L206.4 623.1L202.4 623.9L200.6 624.5L198.4 624.7L193.8 625.8L184.1 625.7L180.8 626.0L177.1 625.8L173.9 626.5L170.9 626.0L169.1 626.0L166.4 626.3L162.6 625.8L159.6 626.5L154.8 627.2L150.2 627.3L147.8 627.9L144.2 629.4L140.9 630.6L139.0 632.1L137.7 634.4L137.4 635.4L136.2 638.1L135.1 641.4L133.4 643.5L132.2 644.1L130.8 644.2Z" fill="none" stroke="#f8f8f8" stroke-width="0.8"/>
<path d="M131.1 634.3L129.8 634.3L127.9 633.6L126.1 632.3L124.1 629.9L121.2 624.8L118.7 618.2L118.2 615.4L118.2 611.8L118.5 609.8L119.9 605.8L120.7 604.1L121.8 602.4L123.9 600.0L126.6 598.1L128.2 597.4L129.8 597.0L132.6 597.0L135.4 598.1L136.5 598.8L137.9 600.4L139.2 603.2L140.4 604.8L140.9 605.1L141.9 605.3L144.4 605.0L148.4 603.8L153.2 603.2L171.1 603.0L171.9 602.8L191.4 602.5L192.2 602.3L198.1 602.3L205.4 603.0L208.9 604.1L210.5 605.1L211.7 606.2L212.6 607.8L213.1 609.4L213.3 610.8L212.9 612.9L212.1 614.6L210.2 616.7L208.6 617.8L206.2 618.6L201.4 619.5L198.9 619.7L187.1 619.7L186.2 619.8L182.8 619.8L173.6 620.3L169.4 620.3L168.4 620.2L151.2 620.2L147.6 619.6L142.9 618.2L140.9 618.4L140.2 618.9L139.4 619.9L138.7 621.4L137.9 625.6L136.4 629.8L135.2 631.6L133.6 633.2L132.0 634.1Z" fill="none" stroke="#fff" stroke-width="0.9"/>
<path d="M130.4 630.6L129.2 630.4L127.9 629.5L125.7 626.4L124.2 623.2L123.2 620.1L122.7 617.9L122.2 614.2L122.2 611.2L122.5 609.2L123.2 606.6L124.0 604.9L125.0 603.6L126.6 602.1L128.8 601.1L129.8 600.8L131.1 600.8L132.0 601.1L133.6 601.9L135.2 603.3L136.6 605.2L137.4 606.8L138.0 609.2L138.0 612.2L137.2 617.6L136.4 620.9L135.4 624.4L133.8 627.8L132.8 629.1L131.2 630.3ZM197.2 615.8L177.4 615.8L174.4 615.1L171.8 613.8L170.4 612.6L169.7 610.9L170.4 609.4L171.8 608.2L174.4 606.9L177.6 606.2L195.4 606.2L198.2 606.3L201.8 607.1L202.9 607.6L204.6 608.5L205.6 609.5L206.1 610.4L206.2 611.6L205.6 612.6L204.5 613.8L202.6 614.8L200.9 615.3L199.1 615.7ZM156.6 612.6L153.1 612.7L151.8 612.5L150.4 612.1L150.0 611.6L150.2 611.2L151.2 610.9L153.6 610.5L157.2 610.7L158.8 611.1L159.3 611.4L159.3 611.8L158.9 612.1Z" fill="none" stroke="#fff" stroke-width="0.9" stroke-dasharray="1.8 1.0"/>
<path d="M131.6 622.6L130.1 622.6L128.8 622.0L127.8 621.1L126.9 619.8L125.4 616.8L124.9 615.2L124.7 613.8L124.8 611.9L125.2 610.6L126.8 607.7L128.6 605.9L129.9 605.2L130.9 605.0L132.9 605.6L135.2 607.6L135.9 608.6L136.6 610.1L137.0 611.2L137.1 612.4L136.6 615.1L134.6 619.6L133.2 621.8ZM179.6 613.3L178.4 613.3L175.4 613.0L173.1 612.3L171.9 611.2L171.9 610.2L173.1 609.2L176.6 608.2L180.4 608.2L182.9 608.7L184.9 609.4L185.8 610.4L185.8 610.9L185.4 611.6L184.2 612.4L182.1 613.0ZM197.8 611.6L195.6 611.7L194.4 611.4L193.7 611.1L193.5 610.6L194.2 610.1L196.2 609.7L198.2 609.9L199.4 610.4L199.5 610.8L199.2 611.1Z" fill="none" stroke="#fff" stroke-width="1.0"/></g>
<text x="1.10" y="534.60" font-size="24.5" font-weight="bold" textLength="19.65" lengthAdjust="spacingAndGlyphs">D</text>
<path d="M53.40 734.90h-3.2M56.93 736.00v2.3M53.40 730.39h-3.2M60.43 736.00v2.3M53.40 726.88h-3.2M63.29 736.00v2.3M53.40 724.02h-3.2M65.71 736.00v2.3M53.40 721.60h-3.2M67.80 736.00v2.3M53.40 719.50h-3.2M69.65 736.00v2.3M53.40 717.65h-3.2M82.17 736.00v2.3M53.40 705.12h-3.2M88.52 736.00v2.3M53.40 698.75h-3.2M93.03 736.00v2.3M53.40 694.24h-3.2M96.53 736.00v2.3M53.40 690.73h-3.2M99.39 736.00v2.3M53.40 687.87h-3.2M101.81 736.00v2.3M53.40 685.45h-3.2M103.90 736.00v2.3M53.40 683.35h-3.2M105.75 736.00v2.3M53.40 681.50h-3.2M118.27 736.00v2.3M53.40 668.97h-3.2M124.62 736.00v2.3M53.40 662.60h-3.2M129.13 736.00v2.3M53.40 658.09h-3.2M132.63 736.00v2.3M53.40 654.58h-3.2M135.49 736.00v2.3M53.40 651.72h-3.2M137.91 736.00v2.3M53.40 649.30h-3.2M140.00 736.00v2.3M53.40 647.20h-3.2M141.85 736.00v2.3M53.40 645.35h-3.2M154.37 736.00v2.3M53.40 632.82h-3.2M160.72 736.00v2.3M53.40 626.45h-3.2M165.23 736.00v2.3M53.40 621.94h-3.2M168.73 736.00v2.3M53.40 618.43h-3.2M171.59 736.00v2.3M53.40 615.57h-3.2M174.01 736.00v2.3M53.40 613.15h-3.2M176.10 736.00v2.3M53.40 611.05h-3.2M177.95 736.00v2.3M53.40 609.20h-3.2M190.47 736.00v2.3M53.40 596.67h-3.2M196.82 736.00v2.3M53.40 590.30h-3.2M201.33 736.00v2.3M53.40 585.79h-3.2M204.83 736.00v2.3M53.40 582.28h-3.2M207.69 736.00v2.3M53.40 579.42h-3.2M210.11 736.00v2.3M53.40 577.00h-3.2M212.20 736.00v2.3M53.40 574.90h-3.2M214.05 736.00v2.3M53.40 573.05h-3.2M226.57 736.00v2.3M53.40 560.52h-3.2" stroke="#3a3a3a" stroke-width="1.15" fill="none"/>
<path d="M71.30 736.00v4.6M53.40 716.00h-6.7M107.40 736.00v4.6M53.40 679.85h-6.7M143.50 736.00v4.6M53.40 643.70h-6.7M179.60 736.00v4.6M53.40 607.55h-6.7M215.70 736.00v4.6M53.40 571.40h-6.7" stroke="#1a1a1a" stroke-width="1.9" fill="none"/>
<path d="M53.40 556.80H232.20V736.00" stroke="#2a2a2a" stroke-width="1.1" fill="none"/>
<path d="M53.40 556.80V736.00H232.20" stroke="#4a4a4a" stroke-width="1.5" fill="none"/>
<text x="21.66" y="721.40" font-size="16.3" textLength="17.24" lengthAdjust="spacingAndGlyphs">10</text>
<text x="40.19" y="716.90" font-size="11.8" textLength="4.91" lengthAdjust="spacingAndGlyphs">1</text>
<text x="59.32" y="755.10" font-size="14.2" textLength="16.35" lengthAdjust="spacingAndGlyphs">10</text>
<text x="76.30" y="751.20" font-size="10.0" textLength="4.18" lengthAdjust="spacingAndGlyphs">1</text>
<text x="21.66" y="685.25" font-size="16.3" textLength="17.24" lengthAdjust="spacingAndGlyphs">10</text>
<text x="39.23" y="680.75" font-size="11.8" textLength="7.50" lengthAdjust="spacingAndGlyphs">2</text>
<text x="95.42" y="755.10" font-size="14.2" textLength="16.35" lengthAdjust="spacingAndGlyphs">10</text>
<text x="111.83" y="751.20" font-size="10.0" textLength="6.37" lengthAdjust="spacingAndGlyphs">2</text>
<text x="21.66" y="649.10" font-size="16.3" textLength="17.24" lengthAdjust="spacingAndGlyphs">10</text>
<text x="39.39" y="644.60" font-size="11.8" textLength="7.10" lengthAdjust="spacingAndGlyphs">3</text>
<text x="131.52" y="755.10" font-size="14.2" textLength="16.35" lengthAdjust="spacingAndGlyphs">10</text>
<text x="148.07" y="751.20" font-size="10.0" textLength="6.03" lengthAdjust="spacingAndGlyphs">3</text>
<text x="21.66" y="612.95" font-size="16.3" textLength="17.24" lengthAdjust="spacingAndGlyphs">10</text>
<text x="39.64" y="608.45" font-size="11.8" textLength="7.20" lengthAdjust="spacingAndGlyphs">4</text>
<text x="167.62" y="755.10" font-size="14.2" textLength="16.35" lengthAdjust="spacingAndGlyphs">10</text>
<text x="184.38" y="751.20" font-size="10.0" textLength="6.12" lengthAdjust="spacingAndGlyphs">4</text>
<text x="21.66" y="576.80" font-size="16.3" textLength="17.24" lengthAdjust="spacingAndGlyphs">10</text>
<text x="39.38" y="572.30" font-size="11.8" textLength="7.30" lengthAdjust="spacingAndGlyphs">5</text>
<text x="203.72" y="755.10" font-size="14.2" textLength="16.35" lengthAdjust="spacingAndGlyphs">10</text>
<text x="220.25" y="751.20" font-size="10.0" textLength="6.20" lengthAdjust="spacingAndGlyphs">5</text>
<text x="15.50" y="666.40" font-size="20.0" textLength="51.34" lengthAdjust="spacingAndGlyphs" transform="rotate(-90 15.50 666.40)">CD56</text>
<text x="113.02" y="777.70" font-size="19.8" textLength="49.88" lengthAdjust="spacingAndGlyphs">CD57</text>
<rect x="101.3" y="595.6" width="37.4" height="45.5" fill="none" stroke="#333" stroke-width="1"/>
<rect x="162.9" y="595.6" width="58.8" height="40.6" fill="none" stroke="#333" stroke-width="1"/>
<line x1="108.70" y1="641.20" x2="108.70" y2="649.50" stroke="#222" stroke-width="1.1"/>
<path d="M106.9 648.6H110.5L108.7 652.6Z" stroke="#222" stroke-width="0.4" fill="#222"/>
<line x1="195.80" y1="595.60" x2="195.80" y2="583.50" stroke="#222" stroke-width="1.1"/>
<path d="M194.0 584.2H197.6L195.8 580.0Z" stroke="#222" stroke-width="0.4" fill="#222"/>
<text x="109.35" y="577.60" font-size="19.2" textLength="43.44" lengthAdjust="spacingAndGlyphs">CD56</text>
<text x="152.48" y="572.60" font-size="10.8" textLength="16.75" lengthAdjust="spacingAndGlyphs">dim</text>
<text x="172.95" y="577.60" font-size="19.2" textLength="43.23" lengthAdjust="spacingAndGlyphs">CD57</text>
<line x1="218.50" y1="566.60" x2="226.30" y2="566.60" stroke="#111" stroke-width="1.8"/>
<line x1="222.40" y1="562.70" x2="222.40" y2="570.50" stroke="#111" stroke-width="1.8"/>
<text x="63.55" y="673.30" font-size="19.0" textLength="43.23" lengthAdjust="spacingAndGlyphs">CD56</text>
<text x="106.37" y="668.00" font-size="10.8" textLength="17.29" lengthAdjust="spacingAndGlyphs">dim</text>
<text x="128.00" y="673.30" font-size="19.0" textLength="40.95" lengthAdjust="spacingAndGlyphs">CD57</text>
<line x1="170.70" y1="662.40" x2="177.90" y2="662.40" stroke="#111" stroke-width="2.0"/>
<path d="M343.8 545.4V737.0H471.5" stroke="#111" stroke-width="2.7" fill="none"/>
<line x1="335.80" y1="546.70" x2="343.80" y2="546.70" stroke="#111" stroke-width="2.3"/>
<text x="319.68" y="551.90" font-size="15" font-weight="bold" textLength="15.46" lengthAdjust="spacingAndGlyphs" style="stroke-width:0.15px">80</text>
<line x1="335.80" y1="594.30" x2="343.80" y2="594.30" stroke="#111" stroke-width="2.3"/>
<text x="319.54" y="599.50" font-size="15" font-weight="bold" textLength="15.61" lengthAdjust="spacingAndGlyphs" style="stroke-width:0.15px">60</text>
<line x1="335.80" y1="641.80" x2="343.80" y2="641.80" stroke="#111" stroke-width="2.3"/>
<text x="319.96" y="647.00" font-size="15" font-weight="bold" textLength="15.18" lengthAdjust="spacingAndGlyphs" style="stroke-width:0.15px">40</text>
<line x1="335.80" y1="689.40" x2="343.80" y2="689.40" stroke="#111" stroke-width="2.3"/>
<text x="319.68" y="694.60" font-size="15" font-weight="bold" textLength="15.46" lengthAdjust="spacingAndGlyphs" style="stroke-width:0.15px">20</text>
<line x1="335.80" y1="737.00" x2="343.80" y2="737.00" stroke="#111" stroke-width="2.3"/>
<text x="327.12" y="742.20" font-size="15" font-weight="bold" textLength="8.11" lengthAdjust="spacingAndGlyphs" style="stroke-width:0.15px">0</text>
<line x1="378.80" y1="737.00" x2="378.80" y2="744.20" stroke="#111" stroke-width="2.0"/>
<line x1="434.60" y1="737.00" x2="434.60" y2="744.20" stroke="#111" stroke-width="2.0"/>
<text x="307.80" y="715.42" font-size="20.0" textLength="146.15" lengthAdjust="spacingAndGlyphs" transform="rotate(-90 307.80 715.42)">CD28H<tspan font-size="12.4" dy="-7.2">+</tspan><tspan dy="7.2"> NK (%)</tspan></text>
<path d="M377.00 562.80V555.30H435.40V562.80" stroke="#111" stroke-width="1.85" fill="none"/>
<text x="409.10" y="557.30" font-size="16" text-anchor="middle" style="stroke-width:0.1px">*</text>
<line x1="362.00" y1="573.60" x2="397.00" y2="573.60" stroke="#111" stroke-width="1.8"/>
<line x1="379.50" y1="572.60" x2="379.50" y2="574.60" stroke="#111" stroke-width="1.8"/>
<line x1="376.00" y1="572.60" x2="383.00" y2="572.60" stroke="#111" stroke-width="1.8"/>
<line x1="376.00" y1="574.60" x2="383.00" y2="574.60" stroke="#111" stroke-width="1.8"/>
<circle cx="365.80" cy="572.00" r="3.7" fill="#111"/>
<circle cx="374.80" cy="580.00" r="3.7" fill="#111"/>
<circle cx="384.00" cy="572.80" r="3.7" fill="#111"/>
<circle cx="393.70" cy="570.40" r="3.7" fill="#111"/>
<line x1="416.50" y1="600.50" x2="452.90" y2="600.50" stroke="#111" stroke-width="1.8"/>
<line x1="434.20" y1="594.60" x2="434.20" y2="606.30" stroke="#111" stroke-width="1.8"/>
<line x1="428.60" y1="594.60" x2="439.80" y2="594.60" stroke="#111" stroke-width="1.8"/>
<line x1="428.60" y1="606.30" x2="439.80" y2="606.30" stroke="#111" stroke-width="1.8"/>
<circle cx="434.00" cy="583.30" r="3.7" fill="#fff" stroke="#111" stroke-width="1.8"/>
<circle cx="422.50" cy="602.70" r="3.7" fill="#fff" stroke="#111" stroke-width="1.8"/>
<circle cx="434.00" cy="610.00" r="3.7" fill="#fff" stroke="#111" stroke-width="1.8"/>
<circle cx="446.20" cy="602.70" r="3.7" fill="#fff" stroke="#111" stroke-width="1.8"/>
<text x="290.38" y="766.70" font-size="19.6" textLength="57.63" lengthAdjust="spacingAndGlyphs">CD56:</text>
<text x="362.49" y="766.70" font-size="19.6" textLength="32.76" lengthAdjust="spacingAndGlyphs">dim</text>
<text x="419.38" y="766.70" font-size="19.6" textLength="33.08" lengthAdjust="spacingAndGlyphs">dim</text>
<text x="290.38" y="792.60" font-size="19.6" textLength="57.63" lengthAdjust="spacingAndGlyphs">CD57:</text>
<line x1="372.30" y1="786.60" x2="381.50" y2="786.60" stroke="#111" stroke-width="2.1"/>
<line x1="430.60" y1="785.70" x2="440.40" y2="785.70" stroke="#111" stroke-width="1.6"/>
<line x1="435.50" y1="780.80" x2="435.50" y2="790.60" stroke="#111" stroke-width="1.6"/>
</g>
</svg>
</body></html>
